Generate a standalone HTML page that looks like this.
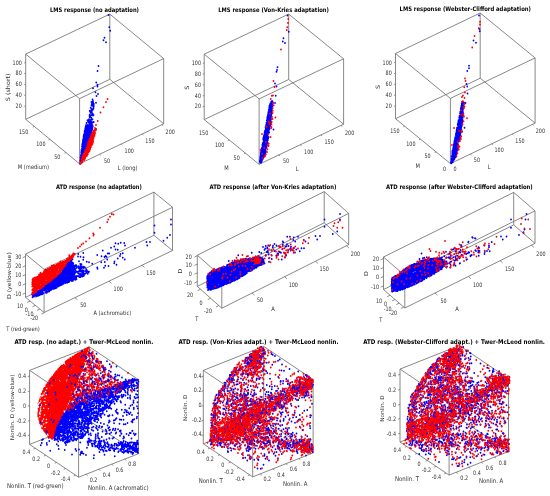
<!DOCTYPE html>
<html><head><meta charset="utf-8"><style>
html,body{margin:0;padding:0;background:#fff;}
svg{display:block;}
text{font-family:"DejaVu Sans","Liberation Sans",sans-serif;font-stretch:condensed;}
</style></head><body>
<svg width="550" height="496" viewBox="0 0 550 496">
<rect width="550" height="496" fill="#fff"/>
<path d="M79.60 163.80L163.70 123.80M79.60 163.80L25.70 119.30M163.70 123.80L109.80 79.30M25.70 119.30L109.80 79.30M79.60 98.60L163.70 58.60M79.60 98.60L25.70 54.10M163.70 58.60L109.80 14.10M25.70 54.10L109.80 14.10M79.60 163.80L79.60 98.60M163.70 123.80L163.70 58.60M25.70 119.30L25.70 54.10M109.80 79.30L109.80 14.10" stroke="#6a6a6a" stroke-width="0.8" fill="none"/>
<path d="M259.10 164.30L343.60 124.20M259.10 164.30L204.20 119.60M343.60 124.20L288.70 79.50M204.20 119.60L288.70 79.50M259.10 98.90L343.60 58.80M259.10 98.90L204.20 54.20M343.60 58.80L288.70 14.10M204.20 54.20L288.70 14.10M259.10 164.30L259.10 98.90M343.60 124.20L343.60 58.80M204.20 119.60L204.20 54.20M288.70 79.50L288.70 14.10" stroke="#6a6a6a" stroke-width="0.8" fill="none"/>
<path d="M450.40 163.60L535.10 123.10M450.40 163.60L395.50 118.70M535.10 123.10L480.20 78.20M395.50 118.70L480.20 78.20M450.40 98.40L535.10 57.90M450.40 98.40L395.50 53.50M535.10 57.90L480.20 13.00M395.50 53.50L480.20 13.00M450.40 163.60L450.40 98.40M535.10 123.10L535.10 57.90M395.50 118.70L395.50 53.50M480.20 78.20L480.20 13.00" stroke="#6a6a6a" stroke-width="0.8" fill="none"/>
<path d="M44.10 312.50L172.50 250.50M44.10 312.50L25.50 297.30M172.50 250.50L153.90 235.30M25.50 297.30L153.90 235.30M44.10 269.30L172.50 207.30M44.10 269.30L25.50 254.10M172.50 207.30L153.90 192.10M25.50 254.10L153.90 192.10M44.10 312.50L44.10 269.30M172.50 250.50L172.50 207.30M25.50 297.30L25.50 254.10M153.90 235.30L153.90 192.10" stroke="#6a6a6a" stroke-width="0.8" fill="none"/>
<path d="M221.80 308.20L348.70 244.60M221.80 308.20L197.30 286.40M348.70 244.60L324.20 222.80M197.30 286.40L324.20 222.80M221.80 277.00L348.70 213.40M221.80 277.00L197.30 255.20M348.70 213.40L324.20 191.60M197.30 255.20L324.20 191.60M221.80 308.20L221.80 277.00M348.70 244.60L348.70 213.40M197.30 286.40L197.30 255.20M324.20 222.80L324.20 191.60" stroke="#6a6a6a" stroke-width="0.8" fill="none"/>
<path d="M404.80 308.00L535.00 243.40M404.80 308.00L383.50 289.50M535.00 243.40L513.70 224.90M383.50 289.50L513.70 224.90M404.80 275.50L535.00 210.90M404.80 275.50L383.50 257.00M535.00 210.90L513.70 192.40M383.50 257.00L513.70 192.40M404.80 308.00L404.80 275.50M535.00 243.40L535.00 210.90M383.50 289.50L383.50 257.00M513.70 224.90L513.70 192.40" stroke="#6a6a6a" stroke-width="0.8" fill="none"/>
<path d="M78.60 477.20L138.50 453.70M78.60 477.20L29.60 444.40M138.50 453.70L89.50 420.90M29.60 444.40L89.50 420.90M78.60 403.20L138.50 379.70M78.60 403.20L29.60 370.40M138.50 379.70L89.50 346.90M29.60 370.40L89.50 346.90M78.60 477.20L78.60 403.20M138.50 453.70L138.50 379.70M29.60 444.40L29.60 370.40M89.50 420.90L89.50 346.90" stroke="#6a6a6a" stroke-width="0.8" fill="none"/>
<path d="M252.70 476.90L313.10 452.90M252.70 476.90L203.30 443.80M313.10 452.90L263.70 419.80M203.30 443.80L263.70 419.80M252.70 403.50L313.10 379.50M252.70 403.50L203.30 370.40M313.10 379.50L263.70 346.40M203.30 370.40L263.70 346.40M252.70 476.90L252.70 403.50M313.10 452.90L313.10 379.50M203.30 443.80L203.30 370.40M263.70 419.80L263.70 346.40" stroke="#6a6a6a" stroke-width="0.8" fill="none"/>
<path d="M449.10 475.10L508.50 451.50M449.10 475.10L400.00 442.00M508.50 451.50L459.40 418.40M400.00 442.00L459.40 418.40M449.10 402.20L508.50 378.60M449.10 402.20L400.00 369.10M508.50 378.60L459.40 345.50M400.00 369.10L459.40 345.50M449.10 475.10L449.10 402.20M508.50 451.50L508.50 378.60M400.00 442.00L400.00 369.10M459.40 418.40L459.40 345.50" stroke="#6a6a6a" stroke-width="0.8" fill="none"/>
<g fill="none" transform="scale(0.25)"><path d="M434 60h0m3 49h0m4 14h0m-23 28h0m-4 10h0m10 8h0m-30 95h0m-4 20h0m-5 46h0m5 9h0m0 7h0m-18 7h0m10 16h0m10 7h0m-6 8h0m-16 14h0m2 6h0m-6 5h0m0-1h0m2 7h0m3-4h0m1-2h0m3 6h0m9-4h0m-18 11h0m1-4h0m2 5h0m0-5h0m1-2h0m1 6h0m4-2h0m-12 11h0m12-5h0m-9 11h0m4 2h0m2-1h0m1-4h0m1 0h0m0-2h0m-15 12h0m1-1h0m3 4h0m4-4h0m0-2h0m1 1h0m-6 9h0m4 0h0m1-2h0m0-1h0m4 7h0m-12 4h0m7 1h0m5-1h0m1 3h0m2-2h0m-16 4h0m1 5h0m3-3h0m3 5h0m-9 6h0m8 2h0m5-1h0m1-1h0m-20 4h0m2 1h0m0 4h0m3 1h0m1-3h0m6 3h0m0-6h0m3 6h0m-19 5h0m8-2h0m1 0h0m2 0h0m1 3h0m3 2h0m0-7h0m2 5h0m4 1h0m2-5h0m1 1h0m5-2h0m-31 13h0m1 2h0m1 0h0m1-2h0m2 0h0m1 1h0m1-1h0m0-1h0m5 3h0m2-4h0m3 2h0m1 2h0m1-1h0m1-2h0m0 1h0m2 0h0m2-1h0m2 1h0m-28 9h0m0-1h0m1-3h0m0 4h0m1-3h0m0 4h0m0-5h0m3 3h0m1 1h0m1 1h0m0-5h0m1 0h0m0 3h0m1-4h0m0-1h0m0 4h0m0 3h0m1-4h0m0 4h0m0-3h0m1-4h0m2 3h0m1-3h0m1 7h0m0-1h0m0-2h0m1 0h0m0-1h0m1 3h0m0-4h0m1 0h0m0-1h0m0 3h0m1 1h0m0-1h0m0-1h0m1 2h0m0 2h0m0-5h0m1 5h0m0-1h0m1-1h0m0 2h0m0-1h0m2-3h0m0-2h0m1 0h0m1 2h0m0-2h0m0 4h0m0-5h0m1 6h0m1-1h0m0-1h0m1-3h0m-30 10h0m2 0h0m0 2h0m1 1h0m1-2h0m1 0h0m0 1h0m0-5h0m1 4h0m1-1h0m2 4h0m1-5h0m0-2h0m1 6h0m1-4h0m1-2h0m2 6h0m0-1h0m1 0h0m0-5h0m1 2h0m0 4h0m1 1h0m1-4h0m0 3h0m1 1h0m2-7h0m0 7h0m1-2h0m1-2h0m1 0h0m0 4h0m1-5h0m0 3h0m1-2h0m0-2h0m1 6h0m0-6h0m1-1h0m-32 15h0m1-4h0m1-1h0m0-1h0m1 1h0m0-1h0m0 2h0m1 4h0m0-6h0m1-1h0m0 2h0m0-1h0m1 5h0m0-5h0m0-1h0m1 4h0m0 3h0m1-7h0m0 4h0m0-2h0m0 4h0m1-3h0m1 4h0m0-2h0m1 2h0m1-7h0m2 4h0m0-1h0m1-1h0m2-1h0m0 3h0m1-2h0m2 4h0m0-5h0m0 1h0m1 4h0m2-3h0m0-3h0m1 4h0m1 0h0m2 0h0m0-3h0m1 5h0m0-4h0m1 0h0m1-2h0m-30 14h0m0 1h0m1-7h0m2 1h0m1 3h0m0 1h0m3-5h0m1 6h0m1-4h0m1 1h0m1 0h0m1 4h0m0-7h0m1 6h0m1-3h0m0-2h0m2-1h0m0 4h0m2 1h0m0-1h0m0 2h0m1-5h0m1 5h0m1-4h0m1 1h0m0 3h0m2-6h0m4 3h0m-31 11h0m1-2h0m0-2h0m2 0h0m0-2h0m0 4h0m1-1h0m2-1h0m0-1h0m1 3h0m0-1h0m1-1h0m0-2h0m1 4h0m0-1h0m1 1h0m1 1h0m0-5h0m1 0h0m1 7h0m0-3h0m1-3h0m2 4h0m1-5h0m1 7h0m2-4h0m0-1h0m6 2h0m0 3h0m0-6h0m1 4h0m2 0h0m-30 7h0m3-4h0m1 2h0m2 2h0m0-2h0m0 3h0m1-2h0m2 1h0m1 2h0m0-5h0m2 6h0m0-1h0m1 0h0m0-6h0m1 3h0m0-1h0m0-2h0m1 3h0m1 0h0m2-3h0m0 3h0m0 4h0m0-1h0m1-4h0m0 3h0m0-5h0m0 7h0m1 0h0m1-2h0m3-2h0m0 4h0m0-5h0m1 4h0m1-1h0m0-5h0m0 3h0m-27 9h0m1 2h0m0-1h0m0-1h0m1-3h0m3 0h0m0 2h0m1-1h0m0 3h0m0-2h0m2-1h0m0 2h0m1 1h0m0-5h0m0 4h0m1-3h0m1 5h0m1-4h0m0-1h0m2 3h0m1-4h0m0 3h0m2 3h0m0-6h0m1 3h0m0 3h0m1-4h0m0-1h0m0-1h0m1 1h0m1 4h0m0-5h0m0 3h0m0-1h0m0-1h0m1 2h0m1 2h0m1-1h0m0 2h0m-25 3h0m0-1h0m0 3h0m1-3h0m3 2h0m1 4h0m0-5h0m0 3h0m3-3h0m1 4h0m2-3h0m2 1h0m0-2h0m2 4h0m1-4h0m1 2h0m2 4h0m0-2h0m1-3h0m0-1h0m1 2h0m0 4h0m0-2h0m1-4h0m1 2h0m-24 11h0m0-6h0m2 0h0m0 4h0m1-4h0m2 4h0m0 3h0m0-1h0m1 0h0m0-6h0m0 4h0m2 1h0m0-5h0m1 3h0m1 3h0m0-5h0m2 1h0m1-2h0m4 6h0m1-5h0m1 6h0m1-1h0m1-4h0m-23 8h0m0-2h0m1 2h0m2-1h0m2 2h0m0-2h0m0 4h0m1 2h0m0-5h0m1-2h0m0 3h0m1 0h0m1 1h0m2 3h0m1-7h0m0 3h0m2 4h0m1-6h0m0 4h0m0 2h0m5-7h0m-21 9h0m2 2h0m0 4h0m1 0h0m3-4h0m1 3h0m0-6h0m2 5h0m1-3h0m1 5h0m0-7h0m1 0h0m0 4h0m1 1h0m0-5h0m0 4h0m2 3h0m0-2h0m0-1h0m3-4h0m-18 15h0m0-5h0m1-2h0m0 3h0m1 0h0m0 3h0m1 0h0m2-5h0m0-1h0m2 6h0m1-3h0m1 0h0m0-1h0m1 1h0m1 2h0m0-5h0m1 6h0m0-5h0m1-1h0m0 4h0m1-1h0m-16 8h0m0 2h0m0-5h0m1 1h0m1 0h0m0 6h0m1 0h0m0-1h0m1-1h0m2 1h0m0-2h0m1 3h0m1 0h0m0-1h0m0-5h0m1 2h0m0-2h0m1 3h0m0-2h0m1 0h0m1 2h0m1-3h0m0-1h0m-14 9h0m4 6h0m0-6h0m1 6h0m1-5h0m3 0h0m3-2h0m-14 14h0m2 0h0m0-6h0m1 5h0m1-2h0m0 3h0m1-3h0m0 3h0m1-2h0m1-3h0m1 3h0m1 1h0m-10 10h0m1 0h0m1-5h0m0 4h0m0-1h0m0-1h0m1-3h0m1 6h0m0-7h0m1 2h0m-5 13h0m1-5h0m0 4h0m0-1h0m1-2h0m0-2h0m2 3h0m0-1h0m-5 9h0m3-4h0m0 1h0m-4 12h0" stroke="#0000ff" stroke-width="7.20" stroke-linecap="round"/><path d="M430 396h0m-6 12h0m-10 21h0m-12 21h0m-11 34h0m-7 16h0m-4 19h0m0-7h0m2 7h0m1-1h0m1 1h0m1-3h0m-12 11h0m2-3h0m0-1h0m1 1h0m0-1h0m1-2h0m0 4h0m0-1h0m1 3h0m1-6h0m0 3h0m3-4h0m2 0h0m-17 15h0m3-4h0m0 3h0m2-3h0m0-1h0m3 2h0m1 2h0m0-6h0m0 4h0m1 2h0m0-3h0m1-1h0m1 5h0m1 0h0m0-6h0m-14 13h0m0-6h0m1 1h0m0 2h0m1 2h0m1 0h0m2-5h0m0 4h0m0-1h0m0 3h0m1-5h0m0-1h0m2 3h0m3-1h0m0-1h0m1 6h0m0-5h0m0-2h0m1 0h0m-17 13h0m1-4h0m0 2h0m0-1h0m1-1h0m0 2h0m1 3h0m5 1h0m0-6h0m0 4h0m1-2h0m1-1h0m0 2h0m1-1h0m1 4h0m2-5h0m0-2h0m-18 13h0m0-1h0m1-1h0m0 4h0m0-1h0m2 0h0m0-5h0m2 2h0m0-1h0m1 4h0m1-1h0m0-1h0m0-1h0m1 4h0m1-1h0m1-2h0m0 3h0m0-5h0m1 3h0m1-1h0m1 3h0m0-4h0m1-3h0m1 3h0m0-1h0m1-2h0m0 3h0m-20 12h0m1-3h0m1 1h0m0 1h0m2 1h0m0-6h0m2 4h0m0-1h0m1-2h0m4 0h0m3 3h0m0-5h0m1 2h0m2 0h0m2 2h0m-21 7h0m0 4h0m1-5h0m1 0h0m0-2h0m1 7h0m1-1h0m1-6h0m1 5h0m2-4h0m0 4h0m0-1h0m1-1h0m0 4h0m1 0h0m0-6h0m0 4h0m1-5h0m2 3h0m0-2h0m0 3h0m1 3h0m0-5h0m0-1h0m1 5h0m0-2h0m1-1h0m0 2h0m1 1h0m1 1h0m0-1h0m0-1h0m2-5h0m-22 15h0m2-2h0m0-5h0m0 6h0m1 0h0m1-3h0m0 3h0m1 0h0m0-1h0m0-2h0m1-3h0m1 0h0m0 2h0m0-1h0m1 2h0m1 1h0m0 1h0m2-1h0m0-1h0m2-3h0m0 4h0m1 2h0m0-1h0m0-5h0m1 0h0m0 4h0m0-1h0m0 2h0m1-4h0m0 2h0m1-1h0m0-1h0m0 3h0m1-1h0m0-1h0m-19 11h0m0-1h0m1 2h0m0-1h0m2-2h0m1 2h0m2 1h0m1 1h0m1-5h0m1 1h0m0-2h0m1 0h0m0 6h0m2-1h0m3-2h0m-19 9h0m0-5h0m1 3h0m2-2h0m0 4h0m0-3h0m1 4h0m2 1h0m0-7h0m0 4h0m6 3h0m1-2h0m1 0h0m0-2h0m0 4h0m2-3h0m-21 9h0m1-2h0m1 3h0m1-1h0m3-5h0m0 4h0m0-2h0m0 4h0m1-5h0m1 0h0m0 2h0m1 1h0m3 0h0m0 3h0m0-6h0m0 4h0m2-1h0m0 1h0m1 0h0m0-1h0m0-1h0m0 4h0m0-5h0m0 4h0m3-4h0m0 2h0m-21 10h0m1 1h0m1-4h0m0 3h0m1 1h0m0-5h0m2 0h0m0-2h0m0 4h0m1-3h0m0 4h0m1-4h0m1 3h0m1 3h0m3-4h0m1 4h0m0-5h0m2-1h0m0-1h0m1 1h0m1 0h0m-22 14h0m1-4h0m1-2h0m1-1h0m0 4h0m1-1h0m0 3h0m1-2h0m1 3h0m0-3h0m1-2h0m0 4h0m1-6h0m1 5h0m1 1h0m3-1h0m0 1h0m1-3h0m0 1h0m1-2h0m1 5h0m1-6h0m2 0h0m0 1h0m-22 10h0m1-3h0m1 5h0m1-4h0m2 4h0m2-2h0m0-2h0m1 5h0m1-2h0m0-2h0m0-1h0m1 0h0m1 0h0m0-1h0m2-1h0m2 1h0m-18 12h0m3 1h0m1 0h0m0-2h0m0 3h0m1-5h0m0-1h0m0-1h0m1 5h0m0-5h0m1 6h0m1-1h0m1-2h0m1-2h0m2-1h0m2 3h0m1-3h0m-13 10h0m0-1h0m0 4h0m0-1h0m1 1h0m0-2h0m1 3h0m0-3h0m7-3h0m-16 14h0m2 0h0m1-6h0m1 0h0m1 0h0m2 2h0m2-2h0m-9 8h0" stroke="#ff0000" stroke-width="7.20" stroke-linecap="round"/></g>
<g fill="none" transform="scale(0.25)"><path d="M1150 62h0m5 65h0m-21 26h0m-3 13h0m9 6h0m-30 97h0m-4 18h0m2-7h0m-8 54h0m6 12h0m-3 37h0m-18 24h0m0-1h0m1 1h0m2-3h0m2 2h0m-8 7h0m2 1h0m2 1h0m1-6h0m2 2h0m0 3h0m1-2h0m0-1h0m0-1h0m0 4h0m1-5h0m9 3h0m-22 11h0m2-5h0m0 2h0m1-4h0m0 3h0m1 4h0m1 0h0m2-5h0m0-1h0m0 3h0m0-1h0m1-2h0m1 1h0m2 3h0m0-1h0m0-2h0m1-1h0m-13 12h0m1 2h0m1-3h0m1-1h0m0-1h0m1 4h0m1-5h0m1 1h0m1 4h0m0-5h0m0-1h0m0 4h0m0-1h0m1 4h0m2 0h0m0-5h0m1 4h0m0-5h0m1 2h0m-13 12h0m1-2h0m0-2h0m3 3h0m1 0h0m1 0h0m0-6h0m5 2h0m0-2h0m1 0h0m0 4h0m0-2h0m0-1h0m-13 7h0m1 3h0m0 4h0m0-1h0m1-1h0m3 1h0m0-6h0m1 0h0m0 5h0m1-5h0m0 2h0m1 0h0m0-2h0m0 4h0m1-1h0m2 4h0m0-5h0m0 4h0m-13 8h0m0-5h0m1-1h0m1 2h0m0 3h0m0-1h0m1-1h0m1 2h0m0-5h0m1 7h0m1-7h0m0 3h0m1 4h0m0-3h0m1-1h0m1-2h0m0 2h0m1 3h0m1-6h0m1 2h0m1 2h0m0-1h0m-14 8h0m0 3h0m1 0h0m2 1h0m1-4h0m1-1h0m1-1h0m0 6h0m0-5h0m0 4h0m2-6h0m0 4h0m0 3h0m1-6h0m0-1h0m0 7h0m1-1h0m1-2h0m0 2h0m3-6h0m0 3h0m-17 12h0m1-5h0m0 4h0m1-2h0m0-2h0m0 4h0m0-1h0m0-5h0m1 3h0m1 4h0m0-5h0m0-2h0m0 4h0m1 2h0m1 0h0m0-6h0m1 5h0m0-5h0m2 6h0m1 0h0m0-5h0m0-1h0m1 2h0m1 5h0m0-6h0m0-1h0m1 3h0m0-1h0m2 1h0m0 4h0m0-5h0m1-1h0m-16 12h0m1-4h0m0-1h0m0 4h0m1 1h0m1 1h0m1-6h0m0 4h0m0-2h0m1 3h0m0 2h0m0-6h0m1 1h0m1 3h0m0-1h0m0-1h0m3-3h0m1 0h0m1 4h0m0-2h0m0-2h0m1 7h0m2-1h0m-17 4h0m3 1h0m0-2h0m1-1h0m1 4h0m0 2h0m1-2h0m1-2h0m1 3h0m0-1h0m0-3h0m1 1h0m0-1h0m1 0h0m2-1h0m1 0h0m1 4h0m1 2h0m1-1h0m-17 6h0m2 4h0m0-1h0m1-5h0m3 3h0m0 3h0m1 0h0m0-2h0m1 2h0m0-2h0m1-1h0m1-4h0m1 5h0m1-5h0m1 5h0m3 2h0m1-3h0m-19 9h0m2-2h0m0 3h0m0-5h0m1 6h0m0-3h0m1-3h0m1 1h0m1 1h0m0 3h0m0-1h0m0-1h0m1-1h0m1-2h0m1 5h0m0-2h0m1-4h0m0 3h0m2 4h0m0-1h0m0-1h0m2 2h0m0-1h0m0-2h0m2 0h0m1 3h0m-19 5h0m3-3h0m1 6h0m0-7h0m2 6h0m0-1h0m0-5h0m3 2h0m2 5h0m1-6h0m0 4h0m1 1h0m0-5h0m0 4h0m2 0h0m0-2h0m1 2h0m1-4h0m-16 9h0m0 4h0m1-6h0m1 6h0m0-1h0m1 0h0m1-4h0m0-1h0m0 4h0m0 3h0m2 0h0m1-7h0m1 0h0m2 6h0m1 0h0m1 1h0m1-2h0m1 0h0m1-1h0m1-3h0m15 5h0m-35 7h0m2 2h0m0-5h0m1 0h0m1 2h0m1 2h0m0 1h0m1-4h0m0 4h0m0-2h0m1-1h0m0-1h0m1 4h0m0-1h0m0-1h0m0-1h0m1-1h0m0-1h0m0-1h0m0-1h0m2 0h0m1 4h0m0-2h0m1-1h0m1 3h0m1-2h0m0-1h0m1 1h0m0-1h0m-17 11h0m1-4h0m2 3h0m2 2h0m0-1h0m2-4h0m0 7h0m1-6h0m0 6h0m2-7h0m0 6h0m0-5h0m1 4h0m0-2h0m0 4h0m1-3h0m0-2h0m0 4h0m1-2h0m1 3h0m1-4h0m1 4h0m0-5h0m3-1h0m-21 12h0m2-2h0m0 2h0m1 0h0m0-1h0m1-2h0m1 2h0m0 3h0m0-6h0m1 4h0m0-5h0m0 2h0m0 4h0m1 0h0m1-3h0m1 2h0m0 2h0m0-5h0m1 0h0m0 4h0m0-1h0m2 1h0m0-1h0m1 2h0m0-1h0m1-5h0m0 4h0m0 1h0m1-6h0m-16 11h0m0 3h0m1-1h0m0-5h0m1 5h0m1-2h0m1 4h0m1-6h0m0 3h0m1-4h0m0 4h0m0 3h0m1 0h0m0-7h0m0 4h0m1 0h0m0-2h0m2 4h0m0-6h0m1 2h0m4 2h0m0-1h0m0 4h0m1-4h0m0-1h0m1 3h0m0-1h0m0-1h0m2 1h0m-21 10h0m0-5h0m0 4h0m1-1h0m0-4h0m1 6h0m0 1h0m1-5h0m0 5h0m1-5h0m1-2h0m1 7h0m1-7h0m0 4h0m0-2h0m0 3h0m1-1h0m4 0h0m1 1h0m0-2h0m0-1h0m1 5h0m0-4h0m0 1h0m4-4h0m0 6h0m0-5h0m1 3h0m1-3h0m-19 7h0m0 2h0m1-1h0m1 1h0m1 1h0m1-3h0m2 0h0m0 7h0m0-1h0m1-1h0m2-2h0m0 4h0m1-4h0m0-3h0m1 2h0m1 5h0m0-6h0m1 3h0m0-4h0m1 7h0m3-6h0m-20 13h0m1 0h0m0-3h0m1 3h0m1-1h0m1 2h0m0-6h0m0-1h0m2 4h0m2 1h0m0-1h0m0 2h0m2-1h0m0 2h0m1-7h0m0 4h0m0-1h0m1 3h0m0-1h0m1-3h0m0-1h0m1 5h0m0-5h0m0-1h0m1 2h0m0 4h0m0-1h0m1 0h0m0-4h0m2 5h0m0-5h0m1 0h0m-21 11h0m1 1h0m1 1h0m2-4h0m0 4h0m1 1h0m0-3h0m2-3h0m1 0h0m1 6h0m1-5h0m1 1h0m1 2h0m1-1h0m1 0h0m1-1h0m1 1h0m0-4h0m1 0h0m1 2h0m-19 12h0m1 0h0m1-1h0m1 1h0m0-5h0m1 1h0m2 2h0m0-2h0m1-2h0m0 4h0m2-1h0m0 4h0m0-5h0m0-1h0m1 5h0m0-5h0m1 6h0m0-2h0m0-5h0m1 0h0m0 4h0m0-2h0m1-2h0m1 4h0m3-4h0m0 2h0m1-1h0m0 4h0m0-5h0m0 3h0m-20 10h0m0-2h0m0 4h0m2-3h0m0 2h0m0-5h0m1 0h0m0 6h0m2 0h0m1-1h0m1-2h0m0 3h0m0-1h0m2-3h0m1-1h0m1 5h0m1 0h0m0-1h0m1 0h0m2-2h0m0 3h0m1-3h0m0 2h0m1-3h0m1-1h0m0-1h0m-19 11h0m0 2h0m1-4h0m0 2h0m1-1h0m0 2h0m1-3h0m1 3h0m0-1h0m1 0h0m0-3h0m2 0h0m0-1h0m1 4h0m0-2h0m1 0h0m1 0h0m1 3h0m0-5h0m1 3h0m0 3h0m1-4h0m3 4h0m1-5h0m0 1h0m1 1h0m0 4h0m0-1h0m-20 9h0m0-2h0m1-5h0m0 7h0m1-5h0m0 4h0m0-2h0m1-1h0m0 1h0m1 0h0m3 2h0m1-6h0m1 3h0m0-2h0m1 2h0m0 4h0m0-2h0m1-1h0m2-2h0m1 1h0m0-2h0m1-1h0m0 2h0m1 0h0m0 4h0m3-2h0m-19 6h0m0 4h0m1-4h0m2 4h0m0-5h0m3 1h0m2-1h0m1 3h0m0 3h0m1-4h0m0-2h0m1 5h0m0-5h0m2-1h0m2 5h0m1-3h0m1-1h0m-19 12h0m1 2h0m0-6h0m2 4h0m1-5h0m0 3h0m0 4h0m0-1h0m0-5h0m1 2h0m3-2h0m0 4h0m2-5h0m1 3h0m0 3h0m1-4h0m0 4h0m0-5h0m-12 8h0m1 3h0m0-3h0m1 1h0m0 4h0m1-6h0m1 6h0m0-3h0m1-1h0m0 4h0m0-1h0m0-5h0m0 4h0m2-3h0m0 3h0m0-1h0m3 0h0m1 0h0m0-1h0m0-1h0m-13 13h0m1-2h0m0-4h0m1 1h0m0 5h0m1-1h0m0-1h0m1-1h0m0 4h0m0-6h0m0 3h0m1 2h0m0 1h0m1-4h0m0 4h0m1-3h0m0 3h0m0-6h0m1 4h0m1-4h0m-7 9h0m4 0h0m0-2h0" stroke="#0000ff" stroke-width="7.20" stroke-linecap="round"/><path d="M1153 76h0m-1 16h0m-3 17h0m-2 11h0m-23 78h0m-30 126h0m4 24h0m-11 35h0m5-1h0m-9 14h0m9 17h0m3 9h0m-4 10h0m0 11h0m-11 12h0m10-3h0m-2 16h0m14 2h0m-15 3h0m3 3h0m-15 10h0m1 5h0m9-1h0m2-2h0m-9 9h0m8 1h0m-19 9h0m19 1h0m-1 4h0m-37 24h0m25 1h0m9 11h0m-18 20h0m11 6h0m-5 8h0m4 0h0m0 2h0m-17 8h0m13 5h0m-28 3h0m6 15h0m20-7h0m-5 10h0m-6 9h0m3-2h0m-10 8h0" stroke="#ff0000" stroke-width="7.20" stroke-linecap="round"/></g>
<g fill="none" transform="scale(0.25)"><path d="M1916 62h0m2 54h0m1 9h0m-25 37h0m10 9h0m-28 92h0m0 10h0m-7 11h0m-3 52h0m3 10h0m1 28h0m-21 33h0m1-1h0m0 1h0m-3 6h0m0 2h0m3-4h0m0 4h0m0-7h0m0 4h0m1-1h0m0 2h0m0-5h0m0 4h0m1-1h0m2-2h0m2 2h0m6 1h0m-15 9h0m1-3h0m1 1h0m0-3h0m1 3h0m0 4h0m0-6h0m2 6h0m0-6h0m0-1h0m2 7h0m-10 8h0m1-7h0m1 7h0m0-3h0m1-4h0m1 6h0m0-6h0m1 1h0m1 1h0m0-1h0m2 0h0m0 4h0m1 1h0m1-6h0m-11 13h0m0-1h0m1-1h0m1 2h0m1-2h0m0 3h0m0-5h0m3 2h0m1 1h0m1-2h0m0 4h0m0-1h0m1 1h0m0-5h0m1-1h0m-11 15h0m1-7h0m0 3h0m0 3h0m1-4h0m0 4h0m0-6h0m0 4h0m3-2h0m0 3h0m0-5h0m0 4h0m2 1h0m0 2h0m2-4h0m0-1h0m-11 12h0m1 1h0m0-1h0m0-6h0m1 3h0m2-2h0m0 4h0m1-5h0m0 4h0m2 2h0m1 1h0m1 0h0m0-1h0m0-2h0m1 3h0m0-5h0m1 0h0m1-1h0m-10 11h0m1-2h0m0-1h0m1 1h0m1 2h0m1-2h0m1 3h0m2 1h0m0-6h0m-12 15h0m0-1h0m1-6h0m0 4h0m0 2h0m1 1h0m0-2h0m0-5h0m2 1h0m1 2h0m0 3h0m1-1h0m0-5h0m1 2h0m0-1h0m0 3h0m3-3h0m0 2h0m1-2h0m0 4h0m1 0h0m1-2h0m0-1h0m1 5h0m0-7h0m-13 15h0m0-2h0m1-1h0m0-3h0m1 4h0m0-2h0m1-2h0m1-1h0m0 4h0m0-1h0m0-2h0m0 4h0m1-1h0m1-4h0m0 4h0m1 2h0m1-6h0m1 3h0m0 4h0m0-2h0m3 2h0m-16 5h0m0-1h0m0 3h0m0-5h0m1 1h0m1-2h0m1 5h0m0 2h0m1-1h0m0-1h0m2 2h0m0-5h0m1 0h0m0-2h0m1 4h0m1 3h0m0-5h0m0 4h0m1-6h0m0 7h0m0-1h0m0-5h0m1 5h0m2-1h0m0 2h0m0-6h0m1 1h0m0 1h0m1-1h0m0 4h0m0-1h0m1-4h0m-17 12h0m0-1h0m0-2h0m0-1h0m1 6h0m1-3h0m2-4h0m1 1h0m1 6h0m0-5h0m0 4h0m0-6h0m1 7h0m0-7h0m2 3h0m1 1h0m0-1h0m0 4h0m1-2h0m0-3h0m1 5h0m0-3h0m1 2h0m0-5h0m2 4h0m1-5h0m0 3h0m-18 8h0m0-2h0m0-1h0m1 3h0m0 3h0m1-2h0m2-3h0m0 1h0m1 0h0m0 1h0m0-2h0m0 4h0m1 2h0m0-1h0m0-5h0m1 0h0m1 2h0m0 4h0m0-6h0m0 4h0m2 0h0m0-2h0m0 4h0m0-5h0m1-2h0m1 1h0m0-1h0m1 7h0m1-3h0m0 3h0m2-3h0m0-1h0m-19 12h0m5 0h0m0-3h0m1 1h0m0-5h0m0 1h0m3 4h0m1 1h0m1-1h0m1-2h0m0 4h0m1 0h0m0-6h0m0-1h0m1 0h0m1 1h0m0 4h0m0-5h0m0 4h0m2 2h0m2-6h0m11 7h0m-31 7h0m1-6h0m0 3h0m1 3h0m1-3h0m1 0h0m1 4h0m1-5h0m1 4h0m0-5h0m0 1h0m1 3h0m0-1h0m1-4h0m0 4h0m0-2h0m0 4h0m1-6h0m0 4h0m0-1h0m1-2h0m3 0h0m1 3h0m1 2h0m2 1h0m0-2h0m-19 8h0m1-3h0m3 3h0m0-5h0m0 3h0m1-2h0m0 3h0m1-2h0m1 4h0m1-3h0m1 0h0m0 4h0m0-6h0m1 6h0m2-3h0m0 3h0m1 0h0m0-2h0m1-3h0m0 3h0m0-1h0m1-4h0m1 4h0m0 3h0m-18 8h0m1-4h0m2-1h0m0 4h0m1 0h0m2-2h0m1 0h0m0-2h0m0-1h0m1-1h0m0 2h0m1 5h0m0-1h0m2-5h0m0 4h0m0-1h0m0 3h0m1-6h0m1 0h0m1 2h0m0-1h0m0 3h0m1-4h0m0 3h0m1-2h0m1 4h0m0-3h0m1 1h0m0-1h0m-19 9h0m1 3h0m1-3h0m0 3h0m0-5h0m4-1h0m0 3h0m0 3h0m1-4h0m0-3h0m1 3h0m2 0h0m0-2h0m1-1h0m0 2h0m1 4h0m0-5h0m1 3h0m2 0h0m0 3h0m2-5h0m2 2h0m-21 9h0m3-2h0m0 3h0m4-4h0m1 4h0m0-5h0m1 5h0m3-3h0m1-1h0m0-2h0m0 4h0m2 1h0m0-2h0m0-1h0m1 1h0m0 2h0m2-4h0m0 6h0m1-7h0m-20 9h0m1 4h0m0-2h0m0-1h0m2 5h0m0-7h0m1 5h0m0-1h0m1-3h0m0 2h0m3 2h0m3 2h0m0-5h0m1-2h0m0 5h0m1-5h0m1 7h0m2-6h0m2 1h0m0 4h0m0-2h0m1-2h0m0-1h0m0 4h0m-21 6h0m1-3h0m1 4h0m0 3h0m1-3h0m1 2h0m1 1h0m1-6h0m0-1h0m0 7h0m1-5h0m2-1h0m1 4h0m2-1h0m0-1h0m1 1h0m0 2h0m0-6h0m1 5h0m0-5h0m0 4h0m1 3h0m1-3h0m0-2h0m0-1h0m2 1h0m0 4h0m1-5h0m-20 8h0m0 5h0m2 1h0m0-5h0m0 3h0m1 1h0m1-3h0m0 4h0m0-3h0m1 3h0m0-5h0m0 4h0m1 1h0m1-2h0m1 0h0m0-1h0m1-3h0m1 6h0m1-5h0m0 4h0m1-3h0m1 0h0m0-3h0m1 0h0m-16 10h0m1 4h0m2 1h0m0-5h0m0-2h0m1 4h0m0 1h0m1 2h0m0-6h0m0 4h0m0-1h0m0-1h0m1 2h0m0-2h0m1-3h0m1 6h0m1-3h0m0 3h0m1-3h0m1 0h0m0 4h0m0-6h0m1 3h0m0 3h0m0-6h0m0 4h0m0-5h0m1 6h0m0-2h0m0-1h0m1 4h0m0-5h0m0 4h0m1-3h0m1-1h0m0 3h0m0-5h0m2 4h0m-19 6h0m0 4h0m1-4h0m0 3h0m1-4h0m0-1h0m0 4h0m0 3h0m1-3h0m0 2h0m1 0h0m1-1h0m0 2h0m1-4h0m0 2h0m0-5h0m1 5h0m0 2h0m0-5h0m2-1h0m0 4h0m1-4h0m1 6h0m2 0h0m0-5h0m0 4h0m1-5h0m0 4h0m1-4h0m0 4h0m0-5h0m0 7h0m1-2h0m0-5h0m1 7h0m-19 7h0m1-6h0m0 4h0m1 1h0m1 2h0m1 0h0m0-1h0m0-2h0m1-1h0m2-2h0m0-1h0m1 3h0m1-1h0m1 5h0m1-3h0m0-2h0m1 1h0m0 4h0m0-6h0m1 1h0m1 5h0m1-2h0m1 1h0m1-2h0m1 3h0m0-5h0m0 4h0m0-5h0m-20 10h0m1 2h0m2-1h0m0-1h0m0-3h0m1 5h0m0 1h0m3-6h0m1 2h0m1 2h0m1-4h0m1 7h0m2-7h0m1 2h0m0-2h0m1 5h0m1-4h0m1 6h0m1-4h0m1-1h0m0-2h0m-20 15h0m0-7h0m1 0h0m0 7h0m1-3h0m2 2h0m1-2h0m2 3h0m1-4h0m2-3h0m1 7h0m1-4h0m0-2h0m1 6h0m0-5h0m1 0h0m0-2h0m2 6h0m0-1h0m1 1h0m1-2h0m0 2h0m-18 2h0m2 7h0m2-6h0m1 5h0m0-5h0m0-1h0m0 4h0m2-2h0m1 1h0m1-3h0m2 7h0m0-5h0m0 4h0m0-5h0m1 1h0m1 4h0m3-3h0m0 2h0m0-5h0m-19 9h0m2-1h0m1 0h0m1 5h0m0-5h0m1 0h0m1 2h0m0 3h0m1-2h0m1 1h0m0-1h0m0-2h0m0-1h0m1 5h0m0-2h0m2 1h0m1 1h0m0 2h0m1-3h0m0 3h0m1-7h0m1 5h0m1 0h0m-16 8h0m0-3h0m1 5h0m0-2h0m1-4h0m0 2h0m0 3h0m1 0h0m0-1h0m1-1h0m1-4h0m0 7h0m1-1h0m0-1h0m1-5h0m0 3h0m1-3h0m1 5h0m1-4h0m0-1h0m1 5h0m0-1h0m1-1h0m-12 9h0m1-4h0m1 3h0m1 3h0m2 0h0m0-5h0m0 4h0m0-1h0m1-4h0m3 0h0m-11 8h0m0 4h0m0-1h0m1 2h0m3-5h0m3 1h0" stroke="#0000ff" stroke-width="7.20" stroke-linecap="round"/><path d="M1920 87h0m0 11h0m-5 15h0m-17 31h0m-9 46h0m-29 124h0m2 10h0m-5 25h0m3 21h0m-8 12h0m-4 6h0m10 4h0m-9 15h0m4-1h0m5 10h0m-4 12h0m4-2h0m-2 6h0m-12 9h0m1 18h0m8-3h0m1 7h0m0-7h0m2 10h0m12 7h0m-14 12h0m-4 13h0m0-2h0m-34 16h0m20 11h0m11-2h0m2 6h0m-3 1h0m-5 23h0m4-5h0m-1 10h0m-5 8h0m1 0h0m-9 4h0m-23 12h0m25 1h0m-1 7h0m2 3h0m4-5h0m-4 13h0m1-1h0m-5 15h0m-4 12h0" stroke="#ff0000" stroke-width="7.20" stroke-linecap="round"/></g>
<g fill="none" transform="scale(0.25)"><path d="M684 878h0m-66 24h0m66-4h0m-66 33h0m62 9h0m-11 11h0m-15 12h0m-192 10h0m11 2h0m10-4h0m14 1h0m89-4h0m14 0h0m-100 14h0m89 0h0m-145 9h0m13-5h0m83 5h0m-78 7h0m9 1h0m-60 3h0m-78 10h0m98 2h0m6 0h0m54-1h0m-178 3h0m76 4h0m93-4h0m-170 10h0m10 1h0m12 2h0m72-4h0m12 3h0m4-4h0m4 3h0m54-3h0m11 7h0m-201 6h0m43 2h0m96-1h0m42-4h0m28 4h0m-224 8h0m3 0h0m1 1h0m3-4h0m1-3h0m2 5h0m1-4h0m30 4h0m31 2h0m111-1h0m-189 7h0m0 2h0m3-4h0m0 4h0m1-2h0m1-1h0m1 2h0m0-3h0m2 2h0m1 2h0m0-3h0m1-4h0m0 6h0m1-1h0m0-1h0m1 3h0m1-3h0m0 2h0m1 0h0m4 0h0m1-3h0m1-1h0m0 4h0m1 0h0m3-1h0m63-4h0m13 6h0m36-6h0m14-1h0m38 5h0m-194 7h0m1-1h0m2-2h0m1 3h0m0 1h0m1 2h0m1-4h0m0 1h0m2 3h0m1-2h0m2 0h0m1-3h0m1 4h0m0-5h0m2 0h0m3 6h0m0-6h0m1-1h0m3 7h0m2-6h0m0 4h0m1-4h0m0 4h0m2 1h0m1 1h0m1-1h0m0 1h0m1-2h0m0-1h0m5 3h0m6-3h0m17-4h0m1 7h0m4-6h0m95 6h0m45-4h0m-209 12h0m2-3h0m1-3h0m3 6h0m0-3h0m1 2h0m2 1h0m0-3h0m1 1h0m0-5h0m0 2h0m1-1h0m3 5h0m2-4h0m0 3h0m0-1h0m2-4h0m1 0h0m2 4h0m1-3h0m1 3h0m1-4h0m1 6h0m1 0h0m4-3h0m1 0h0m0-2h0m2 5h0m1 0h0m1 1h0m0-5h0m0 3h0m1-5h0m1 0h0m1 7h0m0-3h0m2 2h0m3-6h0m5 5h0m0-5h0m2 7h0m0-2h0m1 0h0m5-4h0m3 3h0m4 2h0m2 1h0m0-2h0m0-1h0m6-2h0m4 5h0m3-4h0m5 3h0m49 0h0m27 1h0m18-7h0m-184 14h0m4-3h0m0-1h0m1 2h0m2-3h0m2 4h0m1-1h0m1-1h0m1-3h0m2 6h0m0-2h0m1-3h0m3 2h0m0 3h0m1-1h0m0-4h0m1 1h0m0 4h0m4 1h0m1-5h0m2 1h0m1 0h0m4 2h0m1 2h0m2-3h0m6-3h0m1 0h0m0-1h0m1 4h0m2 0h0m0 3h0m1-2h0m0-4h0m1 1h0m0 1h0m2 2h0m0-1h0m3 0h0m13-3h0m5 2h0m2 3h0m0-5h0m0 4h0m1-4h0m3-1h0m7 0h0m12 5h0m45-2h0m-142 7h0m1 1h0m2 3h0m1-6h0m0 4h0m0-1h0m4-1h0m2-2h0m1 6h0m1-1h0m0-2h0m1-1h0m1 5h0m0-6h0m2 4h0m1-4h0m1 4h0m5 0h0m2 1h0m0-1h0m3 0h0m0-3h0m1-2h0m1 7h0m0-1h0m2 0h0m1 1h0m1-7h0m2 7h0m0-6h0m1-1h0m1 5h0m0-5h0m2 1h0m0 4h0m1 1h0m3-5h0m2 0h0m2 6h0m1-2h0m1 1h0m5-3h0m3 4h0m5 0h0m2-1h0m5-5h0m1 3h0m1-1h0m0 4h0m4-3h0m1 0h0m0-1h0m1-1h0m1 4h0m3-4h0m4 4h0m0-2h0m7 0h0m6-3h0m3 4h0m6 2h0m-114 2h0m1 1h0m2 1h0m4-2h0m0 4h0m3-3h0m0 2h0m1 3h0m1 0h0m2-3h0m0 2h0m2-6h0m0 4h0m1-1h0m0-2h0m3-1h0m0 2h0m1-1h0m0-1h0m0 4h0m1-4h0m0 2h0m1 1h0m1 3h0m3-3h0m0-2h0m1-1h0m0 6h0m1-3h0m2 2h0m1-2h0m0 2h0m3 1h0m0-5h0m1 5h0m3-4h0m4 0h0m5 5h0m1-3h0m1-3h0m0 2h0m0 3h0m1-2h0m0-1h0m3-2h0m1 3h0m0-2h0m3 1h0m12 1h0m16-3h0m1 5h0m1 0h0m1-4h0m4 5h0m0-1h0m1 0h0m4 1h0m3-2h0m3-4h0m5 6h0m1-7h0m2 1h0m-125 14h0m3-2h0m3-3h0m0 2h0m0-1h0m1 2h0m3-1h0m2-4h0m1 0h0m0 6h0m1-6h0m1 5h0m1-3h0m2 5h0m1 0h0m1-5h0m1 3h0m0 2h0m1-3h0m0-1h0m1 0h0m0 4h0m1-4h0m0-1h0m1 0h0m0 4h0m0-6h0m1 4h0m2 1h0m1-5h0m2 3h0m2-1h0m1-2h0m0 4h0m1-4h0m1 7h0m1-5h0m2 0h0m1 2h0m0-4h0m1 0h0m1 2h0m1 3h0m2-2h0m0 4h0m0-5h0m1 0h0m5-2h0m0 2h0m2 5h0m1-5h0m4 2h0m1-4h0m1 2h0m1-2h0m1 7h0m0-5h0m2 3h0m1-3h0m1 5h0m0-6h0m0-1h0m1 3h0m1-2h0m1 0h0m19 2h0m0-2h0m1-1h0m3 5h0m2-5h0m1 5h0m1 2h0m1-4h0m1 1h0m4-3h0m2 5h0m0-1h0m2 2h0m1-1h0m-112 6h0m2-1h0m1 0h0m1 1h0m0 3h0m1-1h0m0-6h0m2 3h0m1 3h0m1-5h0m0 4h0m0-2h0m0 4h0m3-4h0m0 4h0m2-3h0m3-4h0m1 2h0m1-2h0m1 7h0m1-1h0m0-6h0m2 3h0m1-3h0m1 1h0m2 1h0m1 2h0m0 2h0m4-3h0m0 2h0m5 0h0m0-2h0m2 3h0m1 0h0m1 0h0m3-4h0m2-1h0m1 2h0m1-2h0m0-1h0m1 2h0m0 3h0m1 2h0m1 0h0m0-3h0m4 1h0m1 1h0m0-2h0m1-4h0m2 6h0m2-1h0m0-4h0m1 1h0m0-1h0m0 4h0m2-2h0m5 0h0m1-2h0m1 1h0m0 3h0m2-3h0m0-1h0m1 4h0m3-1h0m1-3h0m3 4h0m2-5h0m5 0h0m5 4h0m5 0h0m1-2h0m0-1h0m6 1h0m5-2h0m-124 15h0m5-1h0m2-3h0m0 2h0m2 2h0m1-5h0m4-2h0m0 2h0m1 0h0m1 0h0m2 5h0m0-3h0m1-2h0m0 4h0m3 1h0m1-3h0m0-1h0m1 4h0m2-5h0m2 3h0m2-5h0m2 3h0m1 1h0m1-3h0m0-1h0m2 7h0m1-4h0m0-2h0m0-1h0m2 3h0m1 2h0m1 2h0m0-6h0m2 2h0m0 3h0m1-4h0m1 5h0m2-3h0m0 2h0m1-3h0m3 3h0m1-5h0m2 4h0m0-5h0m1 0h0m0 2h0m2 2h0m2-4h0m1 7h0m0-6h0m1 4h0m0-5h0m6 5h0m3 0h0m1-4h0m1 3h0m1 0h0m2-3h0m3 4h0m1-2h0m1-3h0m2 3h0m1-3h0m1 7h0m1-5h0m1-1h0m4 3h0m1 3h0m1-5h0m4 3h0m-104 10h0m4-1h0m1 0h0m2-3h0m0-2h0m3 1h0m0-1h0m1 6h0m0-4h0m2-3h0m0 5h0m1-3h0m0 4h0m1 0h0m1-1h0m0-1h0m2-3h0m1 5h0m1-1h0m0-1h0m1 0h0m0 3h0m0-6h0m3 5h0m0-6h0m1 3h0m1 3h0m1-2h0m0 3h0m2-1h0m3-6h0m0 2h0m3 2h0m1 2h0m1-5h0m1 4h0m3-4h0m0 3h0m1 2h0m3-3h0m1 3h0m0-2h0m1-3h0m1 1h0m2 0h0m0-1h0m2 2h0m2-1h0m0 4h0m3-6h0m2 6h0m0-5h0m2 5h0m0-5h0m1 3h0m1 1h0m1-2h0m0 2h0m2-3h0m1-1h0m2 6h0m2-7h0m1 5h0m4 1h0m0-5h0m0 2h0m1 0h0m3-3h0m5 3h0m1 1h0m0-2h0m3 1h0m1-3h0m-104 15h0m1 0h0m5-5h0m0 4h0m0-2h0m1 3h0m1-5h0m1 1h0m0-1h0m0-1h0m1 3h0m1-1h0m1 3h0m0-1h0m1 1h0m2-5h0m0-1h0m2 1h0m1 3h0m0-1h0m1-1h0m0 2h0m1 3h0m1-3h0m1 3h0m1-5h0m0 4h0m0-1h0m0-5h0m1 4h0m1 2h0m1-5h0m1 0h0m0 4h0m2-2h0m1 1h0m2 3h0m1-1h0m3-4h0m0-2h0m3 4h0m4 0h0m0-1h0m4-2h0m1 6h0m1-5h0m2-2h0m0 4h0m5-1h0m0-1h0m0-1h0m1 6h0m1 0h0m1-7h0m1 6h0m0-5h0m1 2h0m0-1h0m0-1h0m0 3h0m2-4h0m3 7h0m1-7h0m0 3h0m1 1h0m0-2h0m5-1h0m1 3h0m5-4h0m2 3h0m1-2h0m5-1h0m-94 15h0m1-2h0m2 0h0m0 2h0m1-3h0m1 3h0m6-2h0m3 2h0m1-6h0m0 4h0m1-2h0m0-2h0m2 5h0m2-5h0m1 5h0m0-5h0m1 6h0m0-1h0m2 0h0m1-4h0m0 1h0m2-3h0m0 3h0m3 1h0m1 2h0m3-2h0m4 0h0m0-1h0m1 4h0m2-4h0m3 2h0m0-5h0m4 4h0m1-2h0m1-2h0m1 6h0m0-5h0m3 2h0m0-2h0m2 6h0m0-1h0m1-6h0m1 1h0m1 2h0m1-1h0m2 3h0m2-3h0m0-1h0m1 2h0m2-1h0m-77 10h0m1 1h0m2 1h0m2 0h0m0-5h0m0 4h0m1-1h0m0 2h0m3 0h0m0-5h0m1 2h0m1-2h0m2 4h0m0-1h0m1-1h0m1 0h0m1 0h0m0-3h0m1 6h0m1-1h0m2-4h0m1 0h0m3 6h0m0-1h0m0-1h0m0-1h0m2 3h0m2-3h0m1 2h0m1-6h0m0 1h0m3 3h0m0-2h0m2 5h0m0-6h0m0 4h0m1-2h0m0 4h0m0-1h0m1-5h0m2-1h0m0 4h0m0-3h0m1-1h0m0 4h0m1-1h0m1-3h0m1 1h0m0 4h0m2-1h0m4-3h0m0 4h0m2-4h0m2 1h0m0 2h0m1 1h0m1 2h0m0-1h0m2-2h0m3-2h0m3-1h0m-74 14h0m0-1h0m1 0h0m4-1h0m3-1h0m0 3h0m2-2h0m1 2h0m2 0h0m1-4h0m3 4h0m1-3h0m2 3h0m2-5h0m1 2h0m1 1h0m1-1h0m0 3h0m2-7h0m1 5h0m0-5h0m1 0h0m1 4h0m0-2h0m2-1h0m1-1h0m0 3h0m1-2h0m1 6h0m0-6h0m3 2h0m0-1h0m0 4h0m2-6h0m2 4h0m2-2h0m2 2h0m0-3h0m2 3h0m3-1h0m2-3h0m3 3h0m6-2h0m-75 14h0m3-1h0m4-2h0m0-1h0m1 2h0m2 2h0m3-3h0m0-1h0m2-3h0m3 7h0m0-1h0m1 1h0m0-7h0m1 5h0m1-4h0m1 5h0m0-6h0m4 1h0m5 0h0m6 2h0m4 3h0m0-1h0m1 2h0m1 0h0m3-2h0m1-2h0m1 3h0m1 0h0m1-1h0m2-5h0m1 1h0m4-1h0m-63 13h0m1 2h0m1-1h0m2-4h0m1 0h0m0 4h0m0-2h0m1-4h0m2 2h0m1-1h0m0-1h0m1 6h0m0 1h0m2-1h0m1-2h0m1-4h0m1 0h0m0 3h0m3-1h0m0 1h0m1 4h0m1 0h0m1-7h0m0 3h0m2 3h0m1-3h0m2 0h0m2 4h0m1-6h0m1 1h0m3 3h0m8-4h0m2 0h0m0-1h0m0 3h0m1-3h0m1 1h0m1 2h0m-58 8h0m1-2h0m1 0h0m0 2h0m0-1h0m1 4h0m1-1h0m0-5h0m0 7h0m3-4h0m1 0h0m2-3h0m1 5h0m0-5h0m1 4h0m2-1h0m0 3h0m0-1h0m2-5h0m1 4h0m0-1h0m1-3h0m0 4h0m1 0h0m2-1h0m0 4h0m1-7h0m1 7h0m1-7h0m1 1h0m1 5h0m0-5h0m1 4h0m2-4h0m0 1h0m1 1h0m0 1h0m2-4h0m3 1h0m3 0h0m1 0h0m1-1h0m1 0h0m-40 13h0m2-3h0m2-2h0m2 2h0m8-1h0m0 1h0" stroke="#0000ff" stroke-width="7.20" stroke-linecap="round"/><path d="M447 856h0m7 2h0m-14 9h0m-7 11h0m-4 10h0m-29 23h0m-27 23h0m1 2h0m0 6h0m1-4h0m-17 15h0m-14 13h0m-11 8h0m-7 4h0m-6 8h0m-8 6h0m-19 22h0m6 1h0m-22 6h0m11 0h0m0 2h0m4-5h0m1 3h0m1 2h0m2-5h0m2 0h0m0-2h0m-21 11h0m2 2h0m1 0h0m1 2h0m2-1h0m1-3h0m0-1h0m1-2h0m1 3h0m0 3h0m1-3h0m1 2h0m1 2h0m0-2h0m2 1h0m1-2h0m-25 11h0m0-1h0m2-4h0m2 5h0m1 0h0m1-2h0m1 2h0m1-4h0m0 3h0m0-1h0m2 2h0m3-3h0m0-3h0m1 3h0m0-2h0m1 4h0m2-3h0m1 0h0m1-3h0m1 0h0m-45 14h0m9 1h0m2-1h0m4 1h0m3-3h0m3 0h0m1-1h0m2 2h0m0 2h0m1-2h0m0-2h0m1 4h0m0-7h0m2 6h0m0-6h0m2 0h0m3 3h0m1 0h0m1 0h0m-44 12h0m1 0h0m6-1h0m0-5h0m4 3h0m0-2h0m3 4h0m2-5h0m1-1h0m1 1h0m3 6h0m3-3h0m3-2h0m4 4h0m0-1h0m1-2h0m-58 12h0m7-2h0m6 1h0m3 0h0m2 0h0m1 0h0m1-2h0m1-2h0m0 3h0m2 2h0m1-3h0m1-4h0m0 4h0m1-1h0m2 3h0m2-3h0m1 2h0m1-2h0m1-2h0m1-1h0m2 0h0m0 2h0m0 4h0m3 0h0m1 1h0m2-2h0m1-1h0m2-2h0m1-1h0m1 6h0m0-5h0m3 4h0m2-2h0m2 2h0m1-2h0m-57 10h0m2-1h0m4-3h0m1 4h0m1 0h0m0-2h0m2-2h0m1-1h0m0 3h0m1-4h0m1 0h0m1 7h0m1-3h0m1 2h0m1-5h0m2 5h0m0-3h0m1-2h0m6 4h0m0-5h0m0 4h0m0 3h0m1-3h0m2 3h0m1 0h0m1 0h0m0-3h0m1 2h0m0-4h0m2 3h0m1-5h0m2 7h0m1-7h0m0 2h0m1 5h0m2-7h0m2 4h0m1 1h0m1 1h0m1-2h0m0 3h0m1-4h0m2 1h0m1-3h0m0 3h0m2-4h0m2 0h0m-69 13h0m1-1h0m2 1h0m1-1h0m2-2h0m2-1h0m1 1h0m1 4h0m1-6h0m1 0h0m1 0h0m0 4h0m0-3h0m1 3h0m2 3h0m1-4h0m1-2h0m1 4h0m1-3h0m1 2h0m0 3h0m1-7h0m0 4h0m0 3h0m1-1h0m2-4h0m0 2h0m1 3h0m1-7h0m0 4h0m1 1h0m1-4h0m2 0h0m2 0h0m0 4h0m0-2h0m1-3h0m1 0h0m0 4h0m0 3h0m1-1h0m3-3h0m1 4h0m0-5h0m1 1h0m1-1h0m5-1h0m1 6h0m1-4h0m1-2h0m1 0h0m1 5h0m0-2h0m4 2h0m0-6h0m1 7h0m4-4h0m-73 8h0m1-1h0m1 5h0m0-5h0m1-1h0m0-1h0m1 0h0m1 3h0m1 3h0m0-1h0m0-2h0m1-3h0m1 3h0m2-1h0m0 4h0m0-1h0m3-3h0m2-2h0m1 2h0m2 1h0m0-1h0m1 4h0m0-1h0m2 0h0m2 2h0m2-2h0m2 1h0m1 0h0m1-4h0m1-2h0m0 3h0m2 4h0m0-6h0m0-1h0m1 0h0m0 4h0m2-4h0m2 3h0m1 2h0m2 1h0m0-1h0m2 0h0m2 1h0m0-3h0m1-2h0m0 4h0m1-1h0m1 0h0m1 0h0m2 1h0m2-3h0m0 3h0m0-2h0m6 3h0m1-3h0m1 3h0m1-6h0m3 5h0m1-3h0m-81 9h0m1 1h0m8 2h0m3-3h0m1 3h0m1 0h0m0-6h0m2 4h0m0 3h0m1-6h0m0-1h0m3 2h0m1 0h0m2 3h0m1-5h0m1 5h0m0-5h0m2 1h0m0 2h0m1-1h0m2 5h0m0-6h0m2 5h0m0-5h0m1 4h0m1 0h0m0-2h0m0 4h0m5-4h0m1-1h0m3-1h0m0 4h0m0-1h0m2 3h0m2-6h0m2 6h0m0-6h0m0 4h0m1 1h0m0-6h0m1 1h0m1 3h0m1-4h0m0 2h0m2 5h0m2-1h0m3 1h0m0-6h0m0 4h0m1 1h0m0-5h0m0 4h0m5-4h0m1-1h0m3 4h0m3 3h0m2-7h0m1 5h0m4-4h0m-86 10h0m3-1h0m3 4h0m2 1h0m1-7h0m1 1h0m1 5h0m4-6h0m2 0h0m1 7h0m1-4h0m0 2h0m1-3h0m0 4h0m2-4h0m1 3h0m0 2h0m2 0h0m3-7h0m0 7h0m1-5h0m1 4h0m2-2h0m1-1h0m1-3h0m0 4h0m2-4h0m1 3h0m0 4h0m3-6h0m0 3h0m2 1h0m0 1h0m1-2h0m1-4h0m1 7h0m1-6h0m1-1h0m3 3h0m1-3h0m1 3h0m2-3h0m0 4h0m1-2h0m0 3h0m1-3h0m1 0h0m0 2h0m1-1h0m4 4h0m0-7h0m0 3h0m3 2h0m1-2h0m5 0h0m1 2h0m2-4h0m1 0h0m1 1h0m0-1h0m-94 14h0m4 0h0m2-2h0m4 1h0m0-1h0m2 1h0m1-2h0m1 0h0m0-1h0m1-1h0m0 3h0m1-4h0m0 3h0m0 2h0m2-4h0m4 0h0m1 5h0m1-5h0m2-1h0m2-1h0m1 2h0m0-1h0m2 5h0m1 1h0m0-1h0m2-1h0m2-5h0m1 6h0m0-5h0m5 6h0m0-5h0m1-2h0m2 3h0m1-2h0m2 2h0m0 4h0m3-6h0m1 2h0m1 4h0m1 0h0m1-1h0m1 1h0m0-2h0m2 1h0m0-5h0m1 2h0m0 2h0m1 0h0m0-5h0m0 7h0m1-7h0m2 6h0m4-6h0m5 3h0m0 2h0m2-5h0m1 4h0m1 2h0m0-3h0m1-3h0m0 7h0m2-1h0m0-2h0m0 3h0m2-6h0m1 3h0m2-4h0m3 1h0m1 0h0m-96 14h0m2-5h0m7 5h0m2-1h0m0-2h0m2-3h0m0 2h0m1 0h0m0 4h0m1-7h0m0 3h0m1-2h0m5 2h0m0 3h0m1 0h0m3 1h0m2-4h0m2 0h0m2 3h0m1-5h0m1 0h0m1 4h0m0-2h0m1 3h0m0-3h0m1 3h0m0-1h0m0-5h0m4 0h0m0 4h0m0-2h0m1 5h0m1-3h0m0-1h0m0 4h0m1 0h0m1-6h0m1 6h0m1-2h0m2-5h0m2 0h0m1 6h0m3-1h0m2-4h0m3 4h0m1-5h0m1 3h0m1 3h0m1-5h0m0-1h0m1 1h0m2 2h0m0 2h0m0-5h0m1 5h0m0 1h0m2-3h0m0 3h0m4-3h0m1 1h0m1-3h0m0 6h0m1 0h0m1-6h0m4 0h0m0 2h0m1-2h0m-82 11h0m1-3h0m2 4h0m2-2h0m0-1h0m1 3h0m0-5h0m2 1h0m2-1h0m0 3h0m1 1h0m1 1h0m0-5h0m3 7h0m0-1h0m2-3h0m0 2h0m2-5h0m1 4h0m1-4h0m2 2h0m0 2h0m2 1h0m1-2h0m3 3h0m0-2h0m1 3h0m0-1h0m0-5h0m3 6h0m1-2h0m1-4h0m1 2h0m1 3h0m0-1h0m0-1h0m1-1h0m1-3h0m1 7h0m0-7h0m3 1h0m0 4h0m4 1h0m1-1h0m1-5h0m1 2h0m0 4h0m0-5h0m1 5h0m2-1h0m2 1h0m2 0h0m3-2h0m2 0h0m1-1h0m0 2h0m1-2h0m4-3h0m0 5h0m3-4h0m2 3h0m4-4h0m-78 10h0m2-1h0m0 3h0m2 2h0m0-5h0m0 3h0m1 2h0m1-1h0m1-5h0m1 4h0m2 0h0m0-1h0m1 1h0m2 3h0m0-5h0m0-1h0m1 5h0m1 0h0m1 0h0m1-1h0m0-1h0m0-3h0m1-1h0m1 1h0m1 6h0m1 0h0m0-4h0m2 3h0m3-1h0m1-2h0m1 2h0m0-5h0m0 7h0m1-5h0m0 1h0m1 0h0m0 4h0m0-6h0m4 1h0m0 3h0m0-1h0m1-1h0m6 3h0m3-3h0m4-2h0m1 2h0m0-2h0m1 6h0m1-5h0m1 2h0m3 1h0m2-3h0m0-2h0m1 7h0m1-3h0m2-3h0m1 2h0m0-3h0m2 0h0m1 0h0m2 0h0m-67 9h0m0 1h0m1 1h0m1 1h0m2 3h0m1-5h0m2 5h0m0-1h0m2 1h0m0-3h0m5-3h0m1 2h0m0-1h0m0 3h0m1-1h0m0-2h0m1 4h0m0-1h0m1-2h0m0-3h0m1 4h0m0-1h0m3 2h0m3-2h0m1 4h0m1-3h0m5 2h0m2 1h0m3-1h0m0-2h0m2 2h0m1 1h0m0-7h0m1 1h0m0 1h0m1-1h0m1 4h0m2-1h0m1 0h0m2-1h0m2-2h0m-50 9h0m5 0h0m1-1h0m1 3h0m0-1h0m1 2h0m1 1h0m0-6h0m2 1h0m4 1h0m1 3h0m0-1h0m2 0h0m1-2h0m0 4h0m0-2h0m1-1h0m0-1h0m1 5h0m0-2h0m1 0h0m1 0h0m1-1h0m2 0h0m2 1h0m1-2h0m3 4h0m2-3h0m0-3h0m1 2h0m1 4h0m0-1h0m1-5h0m1 6h0m0-5h0m0-1h0m4 2h0m1-3h0m3 1h0m-44 13h0m0-1h0m0 2h0m3-1h0m0-1h0m0-1h0m1 2h0m1-4h0m1-2h0m1 1h0m1 2h0m0 4h0m1 0h0m0-5h0m0 3h0m1-5h0m2 6h0m2-4h0m0-2h0m1 5h0m1-2h0m2-1h0m2 3h0m1-2h0m2-3h0m1 1h0m0 1h0m1-1h0m1 1h0m1 0h0m1 1h0m0-1h0m1-2h0m0 1h0m3 1h0m-34 6h0m1 0h0m2 3h0m1-1h0m1-1h0m2 3h0m1 0h0m2 0h0m3-2h0m0 4h0m0-2h0m1 0h0m1 1h0m1-5h0m1 6h0m2-4h0m-19 11h0m1 2h0m0-5h0m3 5h0m0-5h0m2-2h0m1 3h0m2 0h0m2-3h0m3 0h0m1 1h0" stroke="#ff0000" stroke-width="7.20" stroke-linecap="round"/></g>
<g fill="none" transform="scale(0.25)"><path d="M1360 856h0m-62 22h0m62 0h0m-62 29h0m51 19h0m-18 10h0m-182 11h0m11 0h0m15 3h0m17-3h0m70-3h0m18 0h0m-11 14h0m-138 8h0m42-6h0m8 6h0m34-6h0m7 6h0m-89 3h0m-60 13h0m19 1h0m6-7h0m8 6h0m25-3h0m17-2h0m-96 11h0m11-4h0m6 6h0m22-1h0m27-1h0m3-1h0m21 0h0m4-2h0m8-1h0m10 3h0m-106 12h0m3-5h0m8 0h0m60 3h0m31-1h0m3-3h0m11 1h0m2-2h0m9 6h0m21-5h0m10 0h0m-145 11h0m15-2h0m13 2h0m20 3h0m34-4h0m10-1h0m36 3h0m-192 6h0m30-3h0m8 4h0m22-4h0m5 1h0m38 5h0m8-6h0m6 3h0m14 1h0m42-2h0m-227 11h0m110 2h0m12-5h0m12 4h0m18 1h0m5-4h0m2 1h0m1-4h0m29 0h0m3 6h0m-133 9h0m9-1h0m1 0h0m4 0h0m1 1h0m0-1h0m1 1h0m5-7h0m0 6h0m1-1h0m3 2h0m3-2h0m1 1h0m2 1h0m97-1h0m-173 8h0m2 1h0m2 0h0m1-2h0m2 0h0m6 1h0m2-3h0m3 4h0m1-2h0m4 1h0m0 1h0m2-1h0m1-2h0m0 2h0m1 0h0m1-2h0m0 1h0m2-3h0m0 4h0m0 1h0m2-4h0m0 4h0m2-5h0m0 4h0m1 1h0m1-3h0m1 0h0m0 2h0m4-1h0m1-2h0m0 2h0m3 0h0m1-3h0m3 3h0m1-5h0m1 7h0m0-5h0m3-1h0m0 2h0m1-2h0m0-1h0m1 0h0m0 7h0m3-2h0m2-2h0m0 4h0m1-4h0m1-2h0m1 5h0m0-1h0m1 1h0m0-6h0m0 2h0m4 4h0m1 0h0m0-4h0m1 5h0m0-7h0m1 0h0m0 4h0m1 1h0m1 0h0m2 2h0m0-5h0m0 4h0m1-2h0m1-2h0m1 5h0m4-6h0m1 6h0m1 0h0m1-2h0m23-4h0m11 3h0m40 2h0m-212 6h0m24-2h0m6 4h0m3-2h0m1-1h0m2 1h0m0-1h0m1 2h0m4 0h0m1 2h0m4-4h0m1-3h0m1 6h0m1-2h0m0 1h0m0-4h0m1 4h0m1 2h0m0-3h0m1 0h0m3-1h0m1-2h0m0-1h0m0 4h0m2-3h0m0-1h0m2 4h0m1 1h0m1-5h0m0 5h0m1 1h0m0 1h0m0-7h0m1 6h0m2-4h0m1 0h0m0 1h0m1-3h0m1 6h0m1-4h0m0 2h0m1 0h0m1-3h0m0 3h0m0 2h0m1-4h0m2 2h0m0 2h0m1-1h0m1 1h0m1-5h0m1 3h0m2 0h0m2 2h0m0 1h0m1-5h0m2 2h0m2 0h0m1-2h0m2 0h0m1 0h0m1 3h0m0-1h0m1-2h0m2 4h0m0-4h0m3 3h0m0 1h0m4-6h0m0 3h0m0 2h0m1 2h0m1 0h0m1-3h0m2-1h0m0 1h0m0 2h0m2-2h0m0 3h0m1-5h0m0 4h0m2-4h0m1 5h0m1 0h0m4-5h0m1-2h0m0 3h0m0 3h0m3-5h0m1 4h0m1-2h0m0-3h0m3 2h0m0 2h0m2 3h0m1-3h0m1 0h0m1-3h0m1-1h0m1 7h0m1-4h0m0-1h0m3-1h0m0 4h0m0-1h0m1 2h0m21 1h0m-151 6h0m2-2h0m1 3h0m1-1h0m0 2h0m0-1h0m2-2h0m1-3h0m1 5h0m1 0h0m2-3h0m1-1h0m0 4h0m1-5h0m2 4h0m0 2h0m2-1h0m1-5h0m2 5h0m0-4h0m1 5h0m0-6h0m2 5h0m0-5h0m3 5h0m0-6h0m1 3h0m1-2h0m0 3h0m1-1h0m1 4h0m1-3h0m0-4h0m0 3h0m2-1h0m0-1h0m0 6h0m1 0h0m2-4h0m0 3h0m1 1h0m0-3h0m3 3h0m0-6h0m3 4h0m1 2h0m3-6h0m1 6h0m2-7h0m0 3h0m1 4h0m1-3h0m0 1h0m0-5h0m1 3h0m1 3h0m1-5h0m0 2h0m0 1h0m1-2h0m1-1h0m0-1h0m1 2h0m0 1h0m1-2h0m1 0h0m0 4h0m1 1h0m2-1h0m0 2h0m1-1h0m0-6h0m1 2h0m3-2h0m2 7h0m1-2h0m0-3h0m2-1h0m1 1h0m1 0h0m0 3h0m1-5h0m1 0h0m0 4h0m1-4h0m0 2h0m1 1h0m3 0h0m0 1h0m1-1h0m1-1h0m3 1h0m1 2h0m1-3h0m0 1h0m0 2h0m3-4h0m0 2h0m2-1h0m2 1h0m1 3h0m2-4h0m2 5h0m1-4h0m0 2h0m1-5h0m1 6h0m2-5h0m0 3h0m2-4h0m1 2h0m1 2h0m1 0h0m1 0h0m0 2h0m0 1h0m1-6h0m0 5h0m1 1h0m0-1h0m2-1h0m1 0h0m0 2h0m0-6h0m0 3h0m4-3h0m0 5h0m1-1h0m1 0h0m0-3h0m1 4h0m1-1h0m1-5h0m0 6h0m1-6h0m0 3h0m3 4h0m3-2h0m-150 8h0m2 2h0m0-3h0m1 1h0m2 0h0m1-2h0m3-1h0m0 3h0m1-4h0m5-1h0m1 6h0m2-3h0m0 2h0m1-5h0m0 1h0m2 4h0m2 2h0m1-5h0m1 2h0m0 2h0m0 1h0m1-4h0m1 4h0m0-6h0m1 2h0m0 2h0m5 2h0m2-1h0m2-4h0m0 4h0m1 1h0m0-3h0m1-3h0m0 5h0m2 0h0m1-5h0m0 3h0m1 1h0m1 0h0m1-2h0m0 1h0m0 2h0m0-1h0m2 1h0m3-6h0m1 0h0m0 4h0m1-3h0m2-1h0m0 2h0m0 2h0m0-1h0m1-1h0m0-1h0m1 0h0m0 2h0m1-2h0m0 1h0m2 1h0m1 0h0m0 4h0m1-6h0m0-1h0m2 0h0m1 3h0m1 4h0m0-4h0m2 1h0m1 3h0m0-1h0m2 0h0m0-1h0m2-5h0m3 3h0m1 4h0m1-5h0m1 1h0m2 3h0m0-5h0m1-1h0m0 3h0m0 3h0m1-3h0m1 0h0m3 0h0m1 0h0m1 4h0m0-5h0m1 2h0m0-1h0m1-1h0m3 2h0m0 2h0m0-5h0m2 4h0m2-4h0m1 0h0m1 4h0m0-5h0m1 4h0m1-4h0m0 2h0m1 5h0m0-7h0m1 5h0m1 2h0m0-2h0m0 1h0m1-1h0m1 2h0m3-2h0m0 2h0m1-1h0m1-1h0m1 1h0m1-3h0m1 1h0m0-4h0m2 6h0m0-3h0m1 0h0m2-3h0m0 2h0m0 5h0m1-7h0m0 2h0m2 1h0m1-1h0m4-2h0m1 6h0m0-5h0m1 1h0m1-2h0m2 2h0m1 2h0m2-3h0m1 2h0m2 0h0m0-1h0m1 1h0m-162 12h0m2 0h0m4-2h0m0 1h0m2 0h0m0-1h0m2-3h0m2 2h0m0 3h0m1-2h0m1 1h0m0-1h0m0 2h0m1-3h0m6 1h0m2-5h0m0 6h0m1-1h0m0 2h0m3-7h0m1 5h0m0-1h0m0 3h0m2-4h0m0 1h0m0 2h0m0-1h0m2-5h0m1 2h0m2 0h0m0 5h0m0-4h0m2 4h0m0-4h0m3-1h0m0 3h0m1 1h0m1-6h0m2 1h0m2 5h0m1-6h0m1 2h0m0 3h0m1-1h0m1-4h0m2 2h0m1 0h0m0 2h0m2-2h0m1-2h0m0 4h0m3-2h0m1 0h0m1 2h0m0 2h0m1-5h0m2 5h0m0-5h0m2 2h0m0-1h0m0 3h0m1-1h0m3-3h0m2 5h0m2-5h0m1 6h0m0-4h0m0 3h0m2-1h0m1 0h0m0-4h0m1 4h0m0-4h0m2 4h0m0 2h0m2-5h0m2 1h0m0 3h0m1-4h0m0 3h0m1-2h0m2 4h0m1-7h0m1 0h0m0 5h0m0-1h0m1 2h0m1-4h0m0 3h0m3 0h0m1-1h0m2 2h0m0-4h0m1 5h0m2-3h0m1 3h0m2-7h0m1 7h0m0-1h0m0-5h0m1 2h0m0 2h0m2 2h0m0-6h0m1-1h0m0 2h0m1 1h0m1 3h0m0-5h0m2 3h0m1-1h0m0-1h0m1-1h0m1 6h0m0-7h0m1 4h0m1-4h0m2 1h0m1 0h0m1 2h0m0-3h0m2 4h0m2 2h0m3-1h0m1-3h0m1 5h0m2-4h0m2 3h0m0-3h0m1 0h0m1 3h0m2 1h0m2-7h0m3 2h0m-161 11h0m3 0h0m1 1h0m0 1h0m1-1h0m1-3h0m1-1h0m1 1h0m0 4h0m1-5h0m0 1h0m1 3h0m1-3h0m0-1h0m1 2h0m3 2h0m1-3h0m0 3h0m2-1h0m1 2h0m1-2h0m1-4h0m2 1h0m1 0h0m1 0h0m2 0h0m0-1h0m1 6h0m1-1h0m1-6h0m0 3h0m3-2h0m0 3h0m1 0h0m0-1h0m1 4h0m0-1h0m1-5h0m1 5h0m3-3h0m1 0h0m0 3h0m3 0h0m1-2h0m0-1h0m5-3h0m0 2h0m1-2h0m0 1h0m0 4h0m2-5h0m2 5h0m1-1h0m0 1h0m1-3h0m1 4h0m1-2h0m0-4h0m0 2h0m1 5h0m3-2h0m0 2h0m0-7h0m1 4h0m0 2h0m2-4h0m0 2h0m2-2h0m0-1h0m0 4h0m1-5h0m0 4h0m1 3h0m1-1h0m1-4h0m1 2h0m2 0h0m0 3h0m0-1h0m0-1h0m2-1h0m0 2h0m0-4h0m1 1h0m1 1h0m0-3h0m1-1h0m0 7h0m1-7h0m1 2h0m1 1h0m2 2h0m1-1h0m1 0h0m0-4h0m1 5h0m2-4h0m0 1h0m1 5h0m2-5h0m1-2h0m0 5h0m3-3h0m0 1h0m1 2h0m0-4h0m3 5h0m1-6h0m0 3h0m0 2h0m0 1h0m1-5h0m1 4h0m0-1h0m1-4h0m0 2h0m0-1h0m1 2h0m0 4h0m2-4h0m1 3h0m0-4h0m1 5h0m1-1h0m0-4h0m1 5h0m2-6h0m0 3h0m1 1h0m0-3h0m0-1h0m1 3h0m0 2h0m5-2h0m0 1h0m1 1h0m1 0h0m1 1h0m0-7h0m1 2h0m1 4h0m4-1h0m1-4h0m0 1h0m2-2h0m2 1h0m3 3h0m1 0h0m0-1h0m0 3h0m1-5h0m0-1h0m1 3h0m0-2h0m1 4h0m1-4h0m0-1h0m2 1h0m2 0h0m1 1h0m2-2h0m-172 13h0m4 0h0m1-1h0m0 2h0m2 1h0m2-5h0m0 2h0m1-2h0m1-1h0m1 5h0m0-6h0m0 2h0m1 3h0m0-3h0m0-1h0m1 1h0m2 4h0m1-1h0m1-3h0m0-1h0m0 6h0m2-3h0m2 2h0m0-6h0m1 4h0m2-1h0m0 2h0m0-5h0m2 6h0m3 1h0m0-1h0m1-2h0m6-4h0m1 4h0m0-1h0m1 0h0m1-3h0m0 7h0m1-2h0m1 1h0m1 0h0m0-4h0m0 2h0m0-1h0m2 4h0m1-2h0m0-5h0m2 0h0m1 2h0m1 1h0m1 0h0m0 4h0m1 0h0m4-7h0m1 6h0m0-4h0m1 5h0m1-5h0m0 3h0m1-2h0m2-3h0m2 0h0m0 6h0m1-1h0m0-4h0m0 5h0m2-6h0m1 5h0m1-2h0m4 3h0m1-4h0m0 5h0m0-7h0m1 4h0m0 2h0m1-4h0m0-1h0m0 2h0m1 3h0m1-6h0m1 1h0m0-1h0m0 2h0m2-2h0m0 2h0m1 4h0m0-4h0m0 2h0m2 1h0m1-5h0m1 1h0m0-1h0m0 2h0m2 3h0m0-5h0m2 1h0m1 6h0m1-3h0m0 1h0m2-2h0m0-2h0m1 0h0m1 2h0m0 3h0m0-1h0m0-3h0m2 4h0m0-5h0m1 6h0m3-7h0m0 3h0m2 4h0m0-4h0m1 0h0m0 3h0m1-5h0m0 2h0m0 3h0m2-4h0m0-1h0m1 5h0m1 0h0m1-6h0m1 5h0m1 1h0m1-6h0m0 1h0m2 5h0m0 1h0m1-7h0m2 5h0m0 2h0m1 0h0m0-5h0m2-1h0m3-1h0m0 3h0m1 3h0m0-1h0m1-5h0m1 2h0m1-1h0m4 1h0m2 2h0m1 3h0m1 0h0m0-6h0m1 2h0m0 3h0m0-1h0m0-4h0m1 5h0m0-1h0m1-2h0m0 4h0m3-4h0m0 3h0m6-1h0m2-4h0m0 1h0m1-1h0m1-1h0m1 2h0m0-1h0m2 3h0m4-4h0m1 1h0m-171 13h0m1 1h0m3-5h0m2 2h0m0 2h0m1 1h0m1-2h0m1-5h0m0 2h0m0 4h0m0-1h0m3 0h0m1-1h0m2 3h0m0-7h0m3 5h0m2-1h0m1-3h0m0 2h0m0-1h0m1 2h0m1-1h0m1 1h0m2-4h0m0 2h0m0 2h0m2-1h0m1 2h0m3-3h0m1 0h0m0-1h0m2 6h0m0-6h0m2 2h0m2 2h0m1-1h0m0 1h0m2-5h0m0 3h0m0 2h0m2-1h0m0 3h0m1-7h0m0 1h0m1 5h0m1-5h0m1 5h0m1 1h0m0-6h0m1 0h0m0 1h0m0 2h0m1 1h0m0-1h0m1 3h0m3-6h0m0 4h0m2-4h0m2 0h0m1 2h0m0-2h0m2 1h0m1 5h0m1-7h0m2 1h0m0 3h0m0 2h0m4-1h0m1-5h0m1 5h0m2-3h0m3-1h0m3 2h0m1 4h0m0-3h0m1 2h0m1-5h0m0 2h0m0 1h0m0 3h0m1-5h0m1 1h0m2 1h0m0 2h0m2 0h0m1-3h0m1-3h0m1 3h0m1-2h0m1 0h0m0 5h0m3-5h0m4-1h0m0 1h0m1 1h0m3 3h0m1-5h0m2 6h0m2-5h0m0 2h0m0 2h0m1 0h0m4-2h0m1 1h0m2 2h0m0-3h0m2 0h0m2 0h0m0-1h0m2 0h0m2-1h0m2 6h0m1-6h0m5 5h0m2-3h0m0-1h0m0 3h0m1-3h0m1 3h0m0 2h0m2-4h0m0 4h0m3-6h0m0 1h0m0-2h0m1 0h0m4 5h0m1 0h0m0-1h0m1 1h0m-156 10h0m1 0h0m0-1h0m1-1h0m1-1h0m0-1h0m1 0h0m1 3h0m0-4h0m1 1h0m1 2h0m1-5h0m0 4h0m1 2h0m1-5h0m0 4h0m1-5h0m0 2h0m0-1h0m1 3h0m1-4h0m1 2h0m0 3h0m1-1h0m1 0h0m0-4h0m1 6h0m1-1h0m0-5h0m3 2h0m1 5h0m2-2h0m0-1h0m0 2h0m1 0h0m1-6h0m2 4h0m2-4h0m0 4h0m1-3h0m0 3h0m1-2h0m0 3h0m0-1h0m1 1h0m0-2h0m1-3h0m2 0h0m1 2h0m1 1h0m0 2h0m3-2h0m5-2h0m0 4h0m1 1h0m1-6h0m2 7h0m0-4h0m1-2h0m1 1h0m0-1h0m3 0h0m1 5h0m1-1h0m0-1h0m1 0h0m1-2h0m1 3h0m0 2h0m1-4h0m1-2h0m1 4h0m1 0h0m1 1h0m1-6h0m2 0h0m0 2h0m1 5h0m1-2h0m0 2h0m0-7h0m0 2h0m6 2h0m3 1h0m0-1h0m1-3h0m1 2h0m0-3h0m4 7h0m2-5h0m1-1h0m1 4h0m1-3h0m1-2h0m0 3h0m2 3h0m0 1h0m1-3h0m1 3h0m1-7h0m0 3h0m1 0h0m0 2h0m0 1h0m0-6h0m1 4h0m2-1h0m0 4h0m1-7h0m1 6h0m1-3h0m0-3h0m0 1h0m3 0h0m0 3h0m1-2h0m1 3h0m1-2h0m0 1h0m0 2h0m1 0h0m1-3h0m2 3h0m2-2h0m1-2h0m1 3h0m0-3h0m1 2h0m1-1h0m0 1h0m1-4h0m2 5h0m0-4h0m1 6h0m1 0h0m1-7h0m0 5h0m2 0h0m1 2h0m0-1h0m1 0h0m2-1h0m0 2h0m1-4h0m0 4h0m1 0h0m1-7h0m2 4h0m1-2h0m0 3h0m1-1h0m0 1h0m1 0h0m4 0h0m1-4h0m1 1h0m1 0h0m1 1h0m1-1h0m1-2h0m1 1h0m-152 14h0m0-6h0m2 5h0m1-3h0m0 2h0m0-1h0m1 2h0m0-1h0m1 2h0m0-7h0m0 5h0m2 0h0m1 2h0m0-2h0m1 2h0m1-3h0m1 1h0m0-1h0m0 3h0m0-6h0m1 4h0m4-3h0m2 1h0m4 0h0m2-3h0m1 2h0m0 1h0m3-1h0m1 5h0m1-2h0m2-2h0m1 3h0m0-4h0m0-1h0m1-1h0m2 5h0m1-4h0m2-1h0m2 5h0m1-3h0m0 5h0m1-5h0m0 2h0m1 2h0m1-4h0m0 2h0m0 3h0m1-5h0m0 5h0m1-3h0m0-1h0m0 2h0m1-4h0m1 4h0m0-5h0m2 4h0m0-4h0m2 5h0m0 2h0m1-7h0m0 4h0m2-3h0m0 5h0m1-4h0m0 3h0m2 2h0m1-2h0m2-1h0m1-2h0m1 5h0m1-4h0m2 2h0m0 2h0m2-2h0m1-3h0m0 1h0m0 2h0m1-4h0m0 1h0m1 4h0m2-2h0m1-2h0m2 1h0m1 0h0m0 2h0m2 1h0m1 0h0m0-1h0m0-4h0m1 6h0m0-1h0m2 0h0m1 1h0m0-4h0m0 2h0m1-4h0m1-1h0m1 0h0m0 2h0m3 0h0m1 0h0m1 2h0m1 1h0m1-3h0m1 0h0m2 3h0m1 1h0m0-4h0m1 2h0m1-3h0m1 6h0m1-4h0m5 2h0m1-1h0m0 3h0m1-7h0m0 3h0m0 1h0m3-4h0m1 7h0m1-5h0m1 5h0m0-4h0m1-1h0m1 0h0m2-1h0m0 1h0m1 5h0m1-1h0m0 1h0m1 0h0m1-3h0m0 2h0m1 0h0m1 1h0m1-5h0m1 1h0m2 4h0m0-4h0m1-1h0m7-1h0m0-1h0m1 0h0m2 0h0m-142 8h0m1 4h0m2-2h0m1-2h0m0 2h0m0 4h0m4-5h0m0-1h0m1 2h0m1-2h0m1 4h0m2 0h0m1-1h0m1 4h0m0-5h0m1 2h0m1-3h0m0 2h0m0 2h0m2-2h0m0 4h0m3-2h0m1 1h0m0 1h0m2-4h0m1-2h0m2 0h0m1 4h0m1-1h0m2 0h0m2 0h0m1 2h0m0-4h0m4-2h0m1 5h0m1-2h0m1 4h0m0-7h0m2 1h0m0-1h0m1 5h0m0 1h0m1-1h0m0-4h0m1 5h0m1-2h0m0 2h0m1 0h0m1-3h0m0 2h0m3-1h0m1-3h0m2 1h0m1 2h0m1 3h0m1-5h0m1-1h0m1 5h0m1-1h0m0-4h0m0 2h0m2 4h0m2-5h0m1 3h0m0 2h0m1-4h0m1-1h0m1-1h0m0 1h0m2-1h0m0 4h0m1-2h0m1-1h0m1 5h0m1-1h0m2-4h0m0 4h0m3-4h0m0 3h0m0-1h0m1-3h0m1 3h0m1-1h0m0 2h0m2 1h0m1-4h0m0 2h0m0 3h0m3-5h0m0 2h0m1-1h0m1-3h0m0 6h0m2-4h0m3-1h0m1 0h0m1-1h0m0 2h0m1 0h0m2-1h0m0 1h0m1 0h0m2 0h0m0 4h0m2-3h0m3 2h0m0-4h0m1 1h0m1-2h0m0 3h0m1 4h0m1-4h0m1 3h0m0-4h0m0-1h0m1 0h0m0-1h0m0 3h0m1-3h0m0 3h0m0 2h0m2 0h0m1-5h0m0 5h0m1 0h0m1-3h0m1-1h0m1-1h0m1 2h0m2-1h0m-126 11h0m1 2h0m1 0h0m0-6h0m1 7h0m2-3h0m0-2h0m1-1h0m0 6h0m1-6h0m1 1h0m1 0h0m0 3h0m0 2h0m2-7h0m0 5h0m1 2h0m0-3h0m1 3h0m1-3h0m1-3h0m2 4h0m1-3h0m0 3h0m1-2h0m1-3h0m0 3h0m1 4h0m1-7h0m1 1h0m1 4h0m0 2h0m2 0h0m0-7h0m0 2h0m1 4h0m0-6h0m0 2h0m1 0h0m0 2h0m3 3h0m0-1h0m1-4h0m0 3h0m1-1h0m1-4h0m0 7h0m1-6h0m1 1h0m0 4h0m1-5h0m2 2h0m0 2h0m0 2h0m0-7h0m2 4h0m0-2h0m1 0h0m0 2h0m1-4h0m0 2h0m1 4h0m1 1h0m0-5h0m0-1h0m1 0h0m0 3h0m1-1h0m0 1h0m1-2h0m1-2h0m0 7h0m1-2h0m0 2h0m1-6h0m0 6h0m1-1h0m1-6h0m0 5h0m1-1h0m1 3h0m2-6h0m0 4h0m0-5h0m1 1h0m5 0h0m1 5h0m2-2h0m1-2h0m0 5h0m2-5h0m0-2h0m2 5h0m1-4h0m0 2h0m2 1h0m2-3h0m0 2h0m1 2h0m0-3h0m1-2h0m1 7h0m0-7h0m0 2h0m0 2h0m1 0h0m1-3h0m0 6h0m0-1h0m1 0h0m2-5h0m1 5h0m1-5h0m3 6h0m0-4h0m3 4h0m0-7h0m0 5h0m3 2h0m1-1h0m0-4h0m0 1h0m2-3h0m0 2h0m0 4h0m2-1h0m5-3h0m1 0h0m1 1h0m1-2h0m0 2h0m3-3h0m1 0h0m-112 13h0m2 1h0m2-1h0m1-5h0m0 1h0m0 3h0m1 1h0m0 2h0m2-4h0m1 0h0m0 3h0m1-3h0m1 4h0m2-6h0m0 4h0m1-1h0m0-1h0m0 2h0m3-2h0m1-2h0m0 2h0m3 1h0m3 3h0m0-5h0m0 2h0m1-1h0m0 4h0m2 0h0m0-7h0m1 2h0m0 3h0m2 1h0m0-1h0m0-5h0m2 0h0m1 0h0m1 5h0m2-2h0m3 1h0m0-4h0m2 6h0m1-2h0m0-1h0m0 3h0m3-6h0m0 2h0m0 3h0m4 2h0m1-5h0m1 3h0m2 1h0m1-1h0m0-2h0m1 2h0m1-2h0m1 4h0m0-6h0m0-1h0m1 5h0m1-5h0m0 3h0m3 0h0m0 4h0m1-5h0m0-2h0m1 5h0m1 1h0m1 0h0m2 1h0m1-3h0m0 1h0m0 2h0m0-5h0m1-2h0m0 4h0m1 3h0m1-2h0m1 2h0m1-4h0m1-1h0m0 2h0m1-2h0m0 2h0m0 1h0m1 2h0m1-2h0m1 2h0m2-6h0m0 2h0m1 1h0m1 0h0m2 0h0m3-2h0m1 0h0m2 1h0m3-2h0m-94 11h0m0 1h0m2-3h0m2 0h0m0 5h0m1 0h0m0-6h0m0 2h0m1 4h0m0-7h0m1 0h0m1 5h0m0 2h0m0-1h0m1-1h0m1 0h0m0 2h0m3-5h0m1-2h0m1 5h0m2-3h0m2 5h0m3-1h0m1 1h0m1-3h0m1 3h0m1-3h0m1-2h0m1 0h0m0-1h0m1 0h0m1 5h0m0 1h0m2-1h0m1-2h0m2-1h0m1-2h0m1 2h0m3 1h0m1 0h0m0 3h0m1-1h0m1 0h0m5 1h0m0-1h0m1-1h0m2-5h0m2 4h0m1 0h0m2-2h0m1 5h0m1-6h0m0 4h0m0 1h0m2-5h0m0 4h0m1-2h0m1 1h0m1-4h0m1 4h0m1-2h0m0 3h0m0-1h0m3-3h0m7-1h0m-75 14h0m2-4h0m1 1h0m1-1h0m0 3h0m1-5h0m1 5h0m0 2h0m1-3h0m4-1h0m0-1h0m1 1h0m3-2h0m0 3h0m1 0h0m0 3h0m1-5h0m1-1h0m0 2h0m1 0h0m2 1h0m2 2h0m0-4h0m1 5h0m3-3h0m0-1h0m3 4h0m1-3h0m0 1h0m3-4h0m1 0h0m0-1h0m1 4h0m1 3h0m1-5h0m0 3h0m2 0h0m0 1h0m0-6h0m1 2h0m0 3h0m1 1h0m0-5h0m1 5h0m0-2h0m2-1h0m0 2h0m0-5h0m0 2h0m2 0h0m0 2h0m3-2h0m1 0h0m2-1h0m1 0h0m-50 14h0m0-7h0m1 3h0m1 2h0m0-4h0m2 0h0m0 1h0m2 3h0m1-3h0m1 5h0m1-3h0m2 3h0m1-5h0m3 2h0m1-4h0m2 2h0m3 1h0m1-2h0m1 0h0m1 0h0m4 0h0m6-1h0m-35 8h0" stroke="#0000ff" stroke-width="7.20" stroke-linecap="round"/><path d="M1360 882h0m-22 11h0m15-4h0m-19 15h0m15 7h0m21 0h0m-134 40h0m-74 5h0m53 6h0m-4 11h0m22 0h0m-152 7h0m82-2h0m-86 6h0m38 0h0m5 5h0m2-1h0m9-4h0m43 7h0m7-5h0m-105 11h0m18 1h0m37-3h0m7-2h0m14 5h0m10 0h0m5 0h0m1 0h0m24-4h0m-105 9h0m17 3h0m10 0h0m31-5h0m27 1h0m3 1h0m-40 7h0m5 1h0m2 2h0m8-4h0m2 1h0m23 1h0m-205 9h0m94 0h0m21 0h0m24 0h0m34 2h0m1-2h0m-198 11h0m41-5h0m5-2h0m21 6h0m8-3h0m2-2h0m0 4h0m1 2h0m11-6h0m71 6h0m1-4h0m22-2h0m10 4h0m-176 8h0m9 2h0m5-1h0m2-1h0m21-3h0m8 0h0m2-2h0m9 6h0m2 1h0m2-6h0m0 4h0m1-4h0m1 0h0m2 0h0m2 1h0m1-2h0m3 0h0m1 6h0m2 0h0m1 0h0m6 0h0m16-4h0m19-2h0m36 6h0m-184 5h0m12 1h0m0-1h0m5-1h0m1-1h0m5 1h0m1 0h0m12 4h0m0-3h0m16 2h0m2 1h0m1-4h0m1-1h0m5 4h0m14 0h0m1-3h0m4 1h0m7 1h0m2-4h0m0 7h0m8-5h0m1-1h0m3 4h0m1 1h0m5 1h0m3-3h0m1 1h0m-121 9h0m21 1h0m10-2h0m2-4h0m9 0h0m14 1h0m44 3h0m2 2h0m2-1h0m1-6h0m3 4h0m3 1h0m3-4h0m1 0h0m3 3h0m13 3h0m31-6h0m-167 14h0m9 0h0m1-7h0m0 6h0m2-1h0m12 0h0m3-4h0m28 6h0m-76 6h0m61-3h0m27-2h0m26 4h0m-152 7h0m21-1h0m1 5h0m63-3h0m49 0h0m-140 11h0m0-3h0m1 1h0m1-5h0m0 1h0m7 0h0m13 1h0m3 1h0m51 3h0m9-5h0m68 0h0m-170 14h0m70 0h0m58-7h0m-120 9h0m52 0h0m29 2h0m40 0h0m-71 10h0m19 2h0m34-1h0m-56 4h0m31 11h0m-91 5h0m32 17h0" stroke="#ff0000" stroke-width="7.20" stroke-linecap="round"/></g>
<g fill="none" transform="scale(0.25)"><path d="M2106 856h0m-62 22h0m58 0h0m-58 33h0m54 7h0m-4 11h0m-18 11h0m-187 9h0m2 2h0m113-5h0m22 0h0m-126 7h0m2 1h0m109 4h0m-137 9h0m-1 2h0m94-1h0m-123 12h0m94 2h0m18 1h0m-109 3h0m67 3h0m2 2h0m40-2h0m-148 10h0m6-2h0m6-4h0m-36 14h0m38-1h0m20-6h0m59 1h0m3 3h0m9-2h0m5 2h0m30 0h0m11 1h0m-273 9h0m113 1h0m38-7h0m4 2h0m17 4h0m2 0h0m6 1h0m6-3h0m2-2h0m0-1h0m3 1h0m36 0h0m26-2h0m-136 14h0m26 1h0m17-3h0m4 2h0m16-6h0m16 6h0m5-2h0m28 3h0m23-7h0m-241 15h0m10-2h0m59 2h0m2-1h0m9-5h0m9 5h0m8 0h0m6 0h0m13-1h0m8-2h0m1 4h0m14-5h0m46-1h0m-204 11h0m13-3h0m11 5h0m1 1h0m6 0h0m1 0h0m2 0h0m0-2h0m1-1h0m1 2h0m4-1h0m2-1h0m2 0h0m1 2h0m2-3h0m1 2h0m0-1h0m0 2h0m1 1h0m1-3h0m1-1h0m1 1h0m0 2h0m1-2h0m1 3h0m3-1h0m0-4h0m1 3h0m0-1h0m0 2h0m3-3h0m1-1h0m1 5h0m2-2h0m0-3h0m2 5h0m2-4h0m1 4h0m1-6h0m2 3h0m0-1h0m1 3h0m2 1h0m1-5h0m1 4h0m1-1h0m0 2h0m1-2h0m1 0h0m0-1h0m1-2h0m0 4h0m1-4h0m0 5h0m3 0h0m0-4h0m1 1h0m1 3h0m4 0h0m28-6h0m27 3h0m1 3h0m11-6h0m29 6h0m2-2h0m-190 10h0m6-4h0m5 1h0m2-2h0m0 2h0m0-1h0m2 1h0m1-1h0m1 0h0m1 4h0m1-1h0m0 1h0m1-3h0m0 1h0m1-3h0m0-1h0m0 2h0m1 3h0m1-4h0m1-1h0m2 4h0m1-4h0m1 4h0m1 0h0m0 2h0m0-5h0m0 1h0m3 3h0m1-5h0m1-1h0m0 1h0m2 6h0m0-1h0m1-2h0m1-3h0m0 5h0m1 0h0m1 1h0m1 0h0m0-1h0m1-4h0m1 2h0m0 2h0m2-4h0m1 4h0m0-5h0m1 5h0m1-5h0m0 3h0m0 2h0m2-4h0m0 2h0m1 2h0m3-5h0m0 5h0m2-5h0m1-1h0m0 5h0m1 2h0m1-3h0m1 0h0m0-1h0m0 2h0m1-4h0m5 4h0m1-5h0m1 2h0m0-1h0m0 2h0m3 4h0m0-7h0m0 5h0m2-5h0m0 2h0m1-2h0m1 7h0m1-1h0m1-1h0m0-4h0m1 5h0m1 0h0m0-1h0m1-5h0m1 5h0m3-4h0m1 6h0m2-2h0m3 0h0m1-3h0m1 0h0m0 2h0m2 1h0m1 1h0m2-1h0m1 2h0m2-1h0m8 0h0m19 0h0m14-3h0m3-3h0m-154 14h0m0-1h0m2 2h0m4-3h0m0-1h0m1 4h0m0-3h0m3 1h0m1-3h0m0 2h0m0 1h0m1-3h0m1-1h0m1 5h0m1-2h0m0 2h0m2-5h0m1 2h0m0 2h0m1-3h0m0 3h0m1-5h0m1 4h0m0-3h0m5 4h0m1-1h0m1 0h0m1-3h0m0 5h0m1-4h0m1 1h0m1 0h0m0-1h0m1 1h0m0 3h0m1 1h0m1-2h0m0-3h0m1 2h0m0 3h0m1-3h0m0 3h0m2-7h0m0 2h0m1 2h0m1-4h0m1 2h0m0 2h0m1-1h0m0 3h0m1-2h0m2-1h0m1-2h0m0 2h0m2-3h0m1 7h0m1-1h0m0-5h0m1 3h0m2 0h0m1-4h0m1 1h0m0-1h0m0 2h0m1 3h0m0-5h0m1 5h0m2-4h0m0 5h0m1-2h0m0 1h0m1 0h0m0 1h0m1 1h0m1 0h0m1 0h0m2 0h0m2-5h0m2 0h0m1 1h0m1-2h0m1 5h0m0-6h0m0 3h0m3 0h0m0 1h0m0 1h0m1-4h0m1 2h0m0 1h0m2 2h0m1-1h0m1-4h0m0 3h0m1 3h0m0-6h0m0 2h0m1 1h0m1-4h0m1 3h0m1-1h0m0 2h0m2-1h0m1-2h0m0 2h0m0-1h0m3-2h0m1 0h0m1 2h0m1 0h0m0 5h0m2 0h0m2-6h0m1-1h0m1 7h0m2-7h0m0 2h0m1-2h0m0 3h0m1-3h0m0 1h0m1 1h0m0 3h0m1-5h0m0 1h0m1 6h0m1-4h0m0 3h0m1 0h0m0-1h0m2-1h0m1 3h0m1-6h0m4 3h0m2 3h0m7-3h0m4-4h0m38 6h0m1-1h0m-199 10h0m1 0h0m5-3h0m4 0h0m2-1h0m0 1h0m1 3h0m1-4h0m0 3h0m1-6h0m0 1h0m0 1h0m2-1h0m0-1h0m1 2h0m1-2h0m1 2h0m0 2h0m3-3h0m1 4h0m1-3h0m0 3h0m0-1h0m0 3h0m1-7h0m1 2h0m1 1h0m0-1h0m3-2h0m0 3h0m0 3h0m1-1h0m1 1h0m1-6h0m0 3h0m1-2h0m2 4h0m0 2h0m1-3h0m1-4h0m1 4h0m4 0h0m1 1h0m2-3h0m2 4h0m0-5h0m0 2h0m1 4h0m1-7h0m0 2h0m2 0h0m0-1h0m0 4h0m1-4h0m0 2h0m1 0h0m1-3h0m1 0h0m1 4h0m3-3h0m0 4h0m1 1h0m0 1h0m2-5h0m0 2h0m3 1h0m1 0h0m2 2h0m1 0h0m0-1h0m1 1h0m1 0h0m1-6h0m1 2h0m0 1h0m1-3h0m0 2h0m1 4h0m1-5h0m2-1h0m0 2h0m0 2h0m1-1h0m1-2h0m4 5h0m1-5h0m0 3h0m0-1h0m0-3h0m1 3h0m1-3h0m0 3h0m0 2h0m1 0h0m1-3h0m1-1h0m1-2h0m1 4h0m0-1h0m1 4h0m1 0h0m0-1h0m2 0h0m1-6h0m0 5h0m0 2h0m2-3h0m0-1h0m1 1h0m0 2h0m1-6h0m0 4h0m0-1h0m1 2h0m0-3h0m1-1h0m0 4h0m0 1h0m1 1h0m0-5h0m2 2h0m1 1h0m1-5h0m1 7h0m4-4h0m1 1h0m1-4h0m0 5h0m1-1h0m1 2h0m0 1h0m1-1h0m1-5h0m1 0h0m1 4h0m2 0h0m4-3h0m2 1h0m1-2h0m1-1h0m1 3h0m2-3h0m0 5h0m2-4h0m2 1h0m21 0h0m14 0h0m2-2h0m4 7h0m-193 7h0m5 1h0m3-6h0m0 4h0m1-1h0m0 3h0m1-4h0m0 4h0m1-5h0m0-1h0m0 4h0m1-5h0m1 0h0m0 6h0m1-6h0m1 0h0m1 1h0m0-1h0m1 7h0m0-4h0m1-2h0m0 3h0m1-2h0m3 0h0m0 1h0m1 4h0m0-6h0m2 5h0m1-6h0m1 2h0m2-1h0m1 2h0m1 3h0m2-4h0m1 2h0m1 2h0m0-5h0m0 4h0m2 2h0m1 0h0m1-7h0m1 7h0m1 0h0m1-7h0m0 2h0m0 2h0m1 0h0m0-1h0m1-2h0m1 2h0m2 3h0m0-6h0m2 7h0m2-4h0m0-1h0m1 2h0m0-1h0m0 3h0m2-6h0m0 1h0m2-1h0m3 4h0m0 2h0m1-4h0m0 2h0m7 0h0m2-4h0m0 1h0m0 5h0m2-2h0m1 3h0m1 0h0m1-3h0m1-1h0m1 3h0m2-3h0m0-1h0m1 0h0m0-1h0m0 2h0m0 4h0m1-3h0m3 2h0m1-1h0m2-3h0m1 4h0m0-6h0m1 1h0m0 2h0m1-2h0m2 6h0m3-6h0m0 1h0m0 3h0m1-1h0m1-1h0m0-3h0m1 6h0m1 1h0m1-1h0m1 1h0m1-5h0m0 2h0m0 2h0m1-4h0m1 1h0m6 0h0m0 2h0m1-4h0m0 6h0m2-5h0m0 1h0m0-3h0m1 0h0m0 5h0m1-2h0m2 1h0m0 2h0m2-5h0m1 4h0m0-3h0m1-1h0m1 1h0m1 5h0m1 0h0m1-7h0m0 6h0m1-1h0m0 2h0m0-7h0m1 2h0m0 2h0m1-1h0m2-1h0m2 1h0m1-3h0m0 6h0m1 1h0m1-5h0m0-1h0m1 2h0m1 2h0m2-3h0m2-1h0m0 3h0m0 2h0m0-1h0m1-3h0m0 3h0m1-2h0m1 0h0m0-1h0m1-1h0m4-1h0m9 6h0m2-4h0m13 4h0m-182 8h0m0 1h0m2 0h0m2-5h0m2 2h0m1 1h0m1-4h0m1 0h0m0-1h0m2 5h0m1-3h0m0 1h0m1 2h0m1-4h0m1 4h0m0 2h0m1-6h0m1 6h0m1-4h0m1 2h0m1-3h0m1 2h0m1-4h0m0 2h0m0 2h0m1-3h0m1 0h0m1 4h0m0-4h0m1 6h0m2-2h0m1-1h0m2-2h0m0-1h0m1 0h0m0 4h0m3-5h0m0 4h0m1-3h0m1 5h0m0-1h0m0 2h0m2-7h0m0 4h0m2 3h0m1-1h0m0 1h0m2-6h0m1 4h0m2 2h0m0-5h0m0 3h0m1 2h0m1-6h0m1 0h0m0-1h0m3 2h0m2 0h0m1 0h0m2-2h0m0 5h0m1-3h0m1-2h0m1 3h0m0 1h0m1-3h0m0 2h0m1 1h0m1 2h0m1 0h0m1-3h0m0-1h0m1 3h0m1-1h0m0-3h0m1 3h0m1 1h0m2-5h0m1 6h0m1 0h0m0-3h0m1 3h0m1-3h0m0-1h0m3 2h0m0 2h0m0 1h0m1-7h0m1 3h0m0 1h0m1 3h0m4-5h0m0-1h0m1 2h0m1 4h0m1-7h0m3 3h0m1-2h0m0 2h0m0 3h0m1-1h0m1-4h0m0-1h0m3 4h0m0 2h0m1 1h0m3-1h0m0-2h0m1-2h0m0 5h0m1-1h0m1-6h0m1 0h0m0 3h0m2 1h0m0 2h0m1-2h0m1-2h0m1 0h0m0 3h0m1-3h0m0 3h0m1-3h0m0 2h0m2-4h0m0 1h0m0 4h0m0 1h0m1-3h0m1 0h0m0-1h0m1 4h0m1-1h0m2-5h0m0 3h0m1-3h0m2 0h0m0 1h0m1 3h0m3-2h0m1 2h0m1-3h0m0 5h0m2-2h0m0 3h0m1-4h0m0 4h0m1-5h0m0 4h0m1 0h0m0-6h0m1 7h0m0-1h0m0-4h0m1-1h0m0 1h0m1 3h0m1 1h0m1-6h0m2 4h0m2 1h0m2-4h0m0 4h0m2-1h0m0-4h0m-159 15h0m1 0h0m1-3h0m0 3h0m1-1h0m5-5h0m1 3h0m1-1h0m0 2h0m3 0h0m0 2h0m0-5h0m1 1h0m0 4h0m1 0h0m1 0h0m0-7h0m0 3h0m1-2h0m0 4h0m1 2h0m0-5h0m1-1h0m0 5h0m1-1h0m1 2h0m1-6h0m2 6h0m1-3h0m0-4h0m1 7h0m0-5h0m2 5h0m1 0h0m0-6h0m2 0h0m1 4h0m1 0h0m1 0h0m1 2h0m1-4h0m2 1h0m0 2h0m1-6h0m1 1h0m1 0h0m0 4h0m0 2h0m2-5h0m1-2h0m2 1h0m1 3h0m3-2h0m5-2h0m1 0h0m1 7h0m2-3h0m0 3h0m1-6h0m0 6h0m1 0h0m1 0h0m0-6h0m3-1h0m1 1h0m0 2h0m1 1h0m1 3h0m3-2h0m0 1h0m0-6h0m1 0h0m1 7h0m1-3h0m4 2h0m0-6h0m0 2h0m2-1h0m1 0h0m0 2h0m1 3h0m0-3h0m4 4h0m0-1h0m3-1h0m0 2h0m2-2h0m2-4h0m1 5h0m0-5h0m1 4h0m0 1h0m1-1h0m0-5h0m1 5h0m1 0h0m2-5h0m0 1h0m1-1h0m0 6h0m1-1h0m0 2h0m1-1h0m0-2h0m1-4h0m1 6h0m3 1h0m2-5h0m0 3h0m2 2h0m0-3h0m2-2h0m2-2h0m1 5h0m0 2h0m3-6h0m1 0h0m1 5h0m1-1h0m0-5h0m1 5h0m1 1h0m0-6h0m2 6h0m2-2h0m1-3h0m1 5h0m1-6h0m0 3h0m1-1h0m0 3h0m1 2h0m2-4h0m1 1h0m0 2h0m0-6h0m1 3h0m0 4h0m1 0h0m0-7h0m1 1h0m0-1h0m2 5h0m3-3h0m1-1h0m1 2h0m-155 12h0m3-1h0m2-5h0m3 1h0m0-1h0m0 6h0m1-3h0m0 1h0m1 1h0m3-3h0m1 1h0m0-1h0m0 3h0m0 1h0m2-6h0m1 6h0m2-4h0m0 1h0m2 2h0m0-5h0m0-1h0m0 2h0m1 2h0m1-3h0m1 1h0m0 4h0m1-6h0m0 7h0m1-1h0m4 0h0m0-6h0m1 2h0m3 3h0m0-5h0m0 2h0m0 1h0m1-1h0m0 2h0m2 2h0m0-3h0m1 2h0m1-5h0m0 3h0m1-2h0m0 5h0m2-6h0m1 6h0m0 1h0m1-3h0m2 2h0m1 0h0m0-1h0m1 2h0m4 0h0m2 0h0m0-1h0m4-2h0m0-1h0m1 3h0m2-1h0m1 2h0m1-3h0m2-1h0m1 4h0m1-2h0m0 2h0m0-4h0m1-1h0m1 1h0m1 2h0m1-1h0m0-1h0m4 2h0m1 0h0m1-3h0m0 2h0m0 3h0m0-6h0m1-1h0m0 6h0m1-1h0m0-5h0m1 0h0m2 2h0m2 4h0m1 1h0m0-7h0m1 3h0m0 2h0m1-1h0m1-3h0m2 3h0m2-2h0m1 0h0m1 2h0m0 1h0m1-5h0m1 4h0m0-1h0m1 0h0m0 4h0m2-4h0m1 4h0m0-1h0m2 1h0m2-4h0m1 1h0m0 1h0m1 0h0m3-2h0m2 1h0m1 0h0m0-3h0m0-1h0m2 3h0m3 1h0m1-3h0m1-1h0m0 6h0m0-1h0m2-3h0m0 5h0m1-5h0m1 4h0m1-3h0m1 3h0m1-1h0m1-4h0m2 4h0m0-3h0m2 4h0m1-2h0m2 3h0m1-1h0m0-5h0m1 0h0m0 2h0m1 4h0m1-5h0m1 0h0m4-1h0m-158 14h0m6 0h0m8-3h0m1-1h0m2 4h0m1-2h0m1 1h0m0-1h0m1-5h0m1 2h0m0 4h0m1-5h0m0 2h0m0 1h0m1 2h0m1-5h0m0-1h0m2 6h0m0 1h0m2-4h0m1 3h0m0-6h0m1 1h0m0 5h0m1-4h0m1-1h0m3 6h0m1-5h0m0 3h0m0-1h0m1-3h0m1-1h0m0 4h0m0 3h0m1-1h0m2-6h0m1 7h0m0-6h0m1 5h0m0-3h0m1-2h0m0 1h0m1 2h0m2-4h0m0 2h0m2 4h0m1-3h0m2 3h0m0 1h0m1-7h0m2 7h0m1-6h0m2 1h0m1 5h0m3-4h0m1 0h0m1 4h0m1-1h0m1-4h0m1 2h0m1 3h0m2-6h0m1 4h0m3 0h0m0-5h0m3 1h0m1 3h0m2 2h0m1-5h0m0 4h0m0-1h0m1-1h0m0 3h0m1-3h0m0 2h0m0-1h0m2 3h0m2-5h0m1-2h0m1 4h0m2-3h0m0 2h0m1 1h0m2 3h0m0-5h0m1 5h0m1-7h0m0 3h0m0 2h0m3-2h0m0-1h0m1 0h0m2 1h0m3-2h0m0 5h0m1-4h0m0-1h0m1 0h0m1 4h0m0-2h0m1 4h0m0-7h0m1 2h0m2 2h0m2 1h0m1 0h0m1-1h0m2-1h0m0-1h0m0 2h0m1-3h0m0 3h0m4 1h0m1 1h0m0-1h0m2 2h0m1-5h0m0 3h0m1-5h0m1 1h0m0 6h0m1-5h0m1 5h0m1-2h0m1-2h0m1-2h0m0 2h0m0 2h0m0 1h0m2-3h0m1-1h0m0 5h0m1-1h0m1-6h0m2 5h0m1-2h0m-155 11h0m2-1h0m5-2h0m0-1h0m0 2h0m1-3h0m1 0h0m0 6h0m2-4h0m0 1h0m0 3h0m1 0h0m0-7h0m1 7h0m1-2h0m0-4h0m1 1h0m0 3h0m0-5h0m5 0h0m0 2h0m1 0h0m1 5h0m1-7h0m1 6h0m1 0h0m1-6h0m1 6h0m1-6h0m0 3h0m0 1h0m0 3h0m2 0h0m0-1h0m2-3h0m0 2h0m1-4h0m0 1h0m1 5h0m2-5h0m4 5h0m1-6h0m0 3h0m1-1h0m2 4h0m1-6h0m0-1h0m1 7h0m0-1h0m1-5h0m1 0h0m3 4h0m0 1h0m2-6h0m1 1h0m1 0h0m1 6h0m2-1h0m0-3h0m0 2h0m2 0h0m0 2h0m2-5h0m0-2h0m1 7h0m3-1h0m3-4h0m2-1h0m0 2h0m1 2h0m0-1h0m0 3h0m3-7h0m0 1h0m1 2h0m1 2h0m0 2h0m1-5h0m1-1h0m0 3h0m1-4h0m1 3h0m3 2h0m0 1h0m3 0h0m1-1h0m1-2h0m1-1h0m0 1h0m0 1h0m1-2h0m1 0h0m0 2h0m4 1h0m1 1h0m0-4h0m1 1h0m0-2h0m1 0h0m0 3h0m0 1h0m0 1h0m1-6h0m1 0h0m1 5h0m2-2h0m0 4h0m6-7h0m2 5h0m0 2h0m3-2h0m1-2h0m0 3h0m1 1h0m2-2h0m2-4h0m0 3h0m0-1h0m2 4h0m1-7h0m0 5h0m3-5h0m0 4h0m1-1h0m1 1h0m0 2h0m2 0h0m0-6h0m1 6h0m1 0h0m0-1h0m1-4h0m2 3h0m0-1h0m7-2h0m2-1h0m0 2h0m1-1h0m-151 13h0m1-2h0m1-4h0m1 4h0m0 3h0m0-2h0m2 0h0m2 0h0m2 1h0m2-3h0m0 2h0m1-2h0m0 2h0m2-5h0m1 0h0m0 2h0m1 3h0m2 0h0m0-3h0m1-1h0m0 4h0m1-2h0m1 2h0m1-5h0m2 6h0m1-5h0m0 4h0m1-5h0m2 6h0m0 1h0m2-2h0m0 2h0m1-2h0m1 2h0m0-1h0m1-2h0m1-3h0m1 5h0m1 1h0m0-4h0m1 2h0m1 1h0m0-1h0m0 2h0m1-1h0m2-4h0m2 5h0m1-1h0m1-6h0m1 3h0m0 4h0m1-7h0m0 5h0m1-2h0m0 3h0m0 1h0m2-5h0m1 2h0m3 2h0m0-3h0m1-3h0m0 4h0m1 3h0m0-3h0m4-2h0m1 2h0m0 2h0m3-2h0m1-3h0m0 3h0m0 2h0m1-5h0m1 6h0m1-1h0m2-1h0m0 2h0m0-1h0m1 1h0m1-6h0m0 1h0m1 5h0m0-4h0m1-1h0m2 3h0m1-2h0m0 2h0m1 2h0m1-3h0m0 2h0m0-1h0m1-1h0m1 0h0m0-1h0m0 2h0m1 2h0m1-2h0m1 0h0m2 0h0m0-4h0m0-1h0m1 5h0m0-1h0m1-3h0m0 4h0m2-3h0m3-2h0m1 2h0m1 2h0m1 2h0m3-3h0m2-3h0m1 3h0m2-3h0m1 6h0m1 1h0m1 0h0m1-4h0m1 2h0m1-1h0m1-3h0m1 6h0m1-6h0m0 2h0m0 4h0m4-7h0m2 5h0m0 2h0m0-7h0m0 4h0m1-1h0m2-2h0m1 3h0m4-1h0m0 3h0m1-2h0m1-1h0m1-3h0m0 1h0m0 4h0m0-1h0m9-4h0m-139 13h0m1-4h0m0 5h0m1-5h0m1 3h0m0-1h0m1-1h0m0 4h0m1-4h0m1 3h0m1 2h0m0-6h0m0-1h0m1 4h0m0 1h0m1-4h0m0 5h0m2-1h0m1-4h0m1 4h0m0-1h0m0 2h0m1-1h0m0 1h0m4 1h0m0-6h0m1 2h0m1-2h0m0 6h0m1-4h0m2-2h0m1 2h0m1-3h0m1 3h0m1 2h0m0-5h0m2 5h0m0 1h0m0-3h0m1 4h0m0-6h0m1 1h0m1 3h0m1 1h0m1 0h0m2-3h0m0 1h0m2-1h0m0-1h0m0 4h0m1-5h0m0-1h0m0 2h0m2 4h0m1-5h0m0 5h0m2-2h0m3-2h0m0 3h0m0 1h0m1-5h0m1 1h0m1-1h0m0 5h0m1 0h0m0-4h0m1 0h0m1 1h0m0 3h0m2-2h0m1 1h0m1-3h0m2 3h0m0 1h0m1-3h0m0 3h0m0 1h0m2-6h0m2 0h0m2 6h0m0-4h0m0-1h0m1 4h0m0-4h0m2 0h0m1 4h0m1-5h0m0 2h0m2-3h0m0 3h0m0 2h0m0-1h0m1-4h0m0 2h0m3 1h0m0-3h0m2 3h0m1 3h0m0-6h0m1 6h0m1-2h0m0-3h0m1 0h0m0 1h0m0 4h0m0-1h0m1 2h0m1-3h0m0 3h0m0-2h0m1-4h0m1 1h0m0 2h0m1 1h0m0 2h0m1-4h0m0 3h0m1-6h0m0 4h0m0 2h0m0 1h0m2-5h0m0 1h0m0 4h0m1-5h0m3 0h0m2 5h0m1-3h0m2-4h0m0 2h0m1-2h0m1 2h0m1-2h0m0 3h0m0 3h0m2-1h0m1-1h0m1-2h0m0 5h0m1-5h0m0 2h0m3-1h0m1-1h0m2 3h0m2-4h0m1 0h0m2 2h0m0 1h0m2-3h0m-122 8h0m0 6h0m1-7h0m2 3h0m1-2h0m1 3h0m1-3h0m1 5h0m0-4h0m1 4h0m4-1h0m1 1h0m1-2h0m0-1h0m2 1h0m2 0h0m2 3h0m2-2h0m1 2h0m1-3h0m0 2h0m0-4h0m1 0h0m4 2h0m0 3h0m0-7h0m2 0h0m1 7h0m1-2h0m6-5h0m1 3h0m1 2h0m3-1h0m1-1h0m0 4h0m1-1h0m1-2h0m1-1h0m1-3h0m0 3h0m0 3h0m1-2h0m4-1h0m1-3h0m1 1h0m0 4h0m2-3h0m1 0h0m2 2h0m1 1h0m2-4h0m2 2h0m1-1h0m1 1h0m0 2h0m1-2h0m3-1h0m2-2h0m3 6h0m1-1h0m0 2h0m0-6h0m1 0h0m0 6h0m3-5h0m1 3h0m3-3h0m0 4h0m1-5h0m0 3h0m0 2h0m1 1h0m2-4h0m3-2h0m2 0h0m1-1h0m1 2h0m1 1h0m0 2h0m1-4h0m0 5h0m1-1h0m1-5h0m1 2h0m0 1h0m3-1h0m3-1h0m-109 10h0m0 2h0m0 1h0m1-2h0m0 3h0m1 0h0m3-3h0m0-1h0m0 3h0m0-5h0m1 3h0m0 2h0m1-3h0m0 1h0m1 2h0m5 0h0m2 0h0m2-4h0m0 2h0m0 2h0m0 1h0m3-1h0m1 0h0m0-1h0m1 2h0m2-4h0m1-3h0m0 2h0m0 5h0m1-3h0m1-2h0m0 4h0m1-2h0m2-4h0m1 4h0m0-1h0m1 2h0m1-5h0m2 6h0m0-1h0m2-5h0m0 4h0m2 1h0m0 2h0m1-2h0m0-3h0m2 4h0m3-4h0m0 3h0m1-1h0m2-2h0m0 2h0m0 1h0m1 1h0m1 1h0m4-7h0m1 0h0m1 6h0m1-4h0m3-1h0m1-1h0m1 0h0m0 5h0m3 2h0m1-2h0m3-4h0m0 6h0m1 0h0m4-3h0m0 2h0m0-6h0m1 1h0m0 5h0m0-1h0m1 2h0m1-3h0m2 3h0m0-6h0m0 2h0m1 0h0m4 0h0m0-1h0m1 3h0m1-2h0m1-3h0m0 2h0m2-1h0m4 1h0m-92 6h0m1 6h0m0-6h0m1 7h0m1-5h0m2 5h0m2-6h0m0 3h0m2-3h0m1-1h0m0 4h0m0 3h0m2-3h0m1-3h0m0 1h0m0-2h0m1 1h0m2 5h0m0-3h0m3 4h0m0-1h0m1-2h0m2 3h0m1-1h0m1 0h0m0 1h0m2-4h0m1-2h0m1-1h0m2 2h0m2-2h0m0 3h0m1-3h0m1 7h0m0-7h0m5 0h0m0 3h0m0 2h0m2-2h0m1-1h0m1 0h0m1-2h0m1 1h0m0-1h0m0 2h0m1 1h0m0 3h0m1-6h0m1 7h0m1-5h0m2 5h0m1-3h0m1 3h0m0-2h0m4-4h0m0 3h0m1-1h0m1-1h0m1-1h0m0 2h0m1-3h0m1 5h0m1 0h0m1-4h0m0 2h0m2-3h0m2 2h0m1 1h0m-69 6h0m1-1h0m0 1h0m0 4h0m1 1h0m0-3h0m1 4h0m1 0h0m1-7h0m1 3h0m1 1h0m0 2h0m0-3h0m2 4h0m1-4h0m0-2h0m3-1h0m0 2h0m1 5h0m1-1h0m0-3h0m0 1h0m0 3h0m1-3h0m1 2h0m1 0h0m0-3h0m3-3h0m1 5h0m1 2h0m4 0h0m0-5h0m1 3h0m1 2h0m1-1h0m0-5h0m2 6h0m1-6h0m1-1h0m0 3h0m1 3h0m1-6h0m0 5h0m0 1h0m2-2h0m3-2h0m2 4h0m1-3h0m5 0h0m1-3h0m0 2h0m1-2h0m3 1h0m-53 8h0m0 1h0m0 4h0m1-6h0m1 6h0m2-2h0m3-4h0m0 4h0m4-4h0m0 2h0m3 1h0m3-3h0m2 2h0m0 2h0m3 0h0m0-1h0m1 0h0m1-2h0m9-1h0" stroke="#0000ff" stroke-width="7.20" stroke-linecap="round"/><path d="M2087 874h0m26 4h0m-29 18h0m14 18h0m22 2h0m-26 17h0m-108 14h0m-206 17h0m71 5h0m89 5h0m16 1h0m-118 3h0m98 3h0m42-5h0m-160 15h0m26-3h0m24 1h0m37-4h0m-187 11h0m87 2h0m19-2h0m4 0h0m6 0h0m17 2h0m58-4h0m7 0h0m37 3h0m-231 7h0m22 3h0m30 0h0m51-6h0m1 3h0m23 3h0m6 0h0m5 0h0m3-1h0m22-1h0m54-2h0m-182 8h0m10 3h0m10-2h0m22-4h0m3 1h0m1 1h0m23 3h0m8 1h0m28 0h0m33-4h0m23 0h0m-162 11h0m37-4h0m12 5h0m12-6h0m8 6h0m26-1h0m45-2h0m-180 10h0m33 1h0m9-1h0m26 2h0m50-4h0m7 3h0m3-6h0m9 5h0m11 1h0m42-4h0m-209 10h0m8 3h0m5-1h0m2-6h0m1 5h0m25-3h0m2 1h0m5 3h0m57-2h0m6-3h0m22 1h0m-161 13h0m1 0h0m8-3h0m2 2h0m19 0h0m18 0h0m14-2h0m8-4h0m7 3h0m1 1h0m4 3h0m1 0h0m4-5h0m2 5h0m1 0h0m1-2h0m1 0h0m2-1h0m16-2h0m34-2h0m17 1h0m26 3h0m-178 5h0m8 5h0m2-2h0m13-3h0m49 4h0m2-5h0m10 2h0m18 1h0m6 2h0m14-2h0m17 0h0m-178 12h0m37-1h0m22-5h0m2 0h0m14 3h0m15 1h0m17-5h0m4 0h0m10 4h0m5-3h0m3 1h0m9 5h0m7-6h0m19 6h0m11-1h0m1-4h0m-183 11h0m3 2h0m3-1h0m20 0h0m4-6h0m7 1h0m27 0h0m48 5h0m8-5h0m32 2h0m1 2h0m17 0h0m-188 9h0m14 0h0m12-5h0m58-1h0m14 2h0m34 2h0m11 1h0m-146 10h0m8 0h0m6-5h0m56 3h0m65 0h0m4-2h0m-151 5h0m9 1h0m20 4h0m71-4h0m14 4h0m-123 8h0m1-2h0m3-1h0m5-1h0m70 5h0m19-3h0m14 1h0m-124 11h0m8-2h0m2 1h0m4-5h0m127-1h0m-145 11h0m1 0h0m50-1h0m16-1h0m42 6h0m-76 7h0m61-1h0m-96 4h0m76 6h0m-58 2h0m27 0h0m-49 22h0" stroke="#ff0000" stroke-width="7.20" stroke-linecap="round"/></g>
<g fill="none" transform="scale(0.25)"><path d="M386 1415h0m-31 6h0m3 22h0m29 3h0m41-1h0m-71 4h0m35-1h0m10 0h0m37 9h0m-109 13h0m56 1h0m3 0h0m31 0h0m25-6h0m21 1h0m-139 7h0m15 1h0m50-2h0m-55 12h0m2 0h0m80-1h0m-78 14h0m30 0h0m12 6h0m4-4h0m48-2h0m0 2h0m26-1h0m-129 9h0m38 4h0m71-1h0m17-1h0m30 1h0m-157 6h0m3 0h0m69 1h0m100 1h0m27-2h0m6 1h0m3 0h0m13 2h0m-218 6h0m36 0h0m7 2h0m12-6h0m17 3h0m65-2h0m1-2h0m25 7h0m3 0h0m5-3h0m5 3h0m5-6h0m1 6h0m2-6h0m4 1h0m0 5h0m3-2h0m0-5h0m4 6h0m1-5h0m1 6h0m0-6h0m4 2h0m4-2h0m1 0h0m3-1h0m1 0h0m6 0h0m4 7h0m-237 4h0m8 1h0m85 1h0m37-3h0m30 5h0m0-1h0m2 1h0m7-2h0m3 2h0m2-1h0m0-2h0m2-3h0m3 2h0m3-1h0m1 1h0m4 1h0m8 2h0m0-2h0m7-1h0m0-3h0m6 0h0m2 3h0m6-1h0m1-2h0m12 1h0m1 4h0m1-1h0m-204 10h0m26-5h0m91 3h0m4-2h0m4 0h0m1 5h0m3 0h0m5-5h0m12 1h0m3 1h0m0 1h0m1-1h0m0 2h0m5-1h0m0-5h0m2 2h0m5 0h0m1-2h0m1 6h0m4-1h0m12 1h0m1-6h0m3 7h0m4-2h0m4-2h0m8 4h0m7 0h0m1-3h0m0-4h0m-242 13h0m63 0h0m3 1h0m18 0h0m40 0h0m3-2h0m13 1h0m2-2h0m2 4h0m2-6h0m2-1h0m5 3h0m0 1h0m0-3h0m1-1h0m0 4h0m3-4h0m5 3h0m1 1h0m5 2h0m0-5h0m7 3h0m0 2h0m0-1h0m1 0h0m2-4h0m4 2h0m2 1h0m4 3h0m2-7h0m0 3h0m3 3h0m1-6h0m0 5h0m4-5h0m0 1h0m1-1h0m4 7h0m4-7h0m0 5h0m8 0h0m10-4h0m1 0h0m1-1h0m14 5h0m-182 5h0m45 5h0m6 0h0m3-5h0m4 0h0m2-1h0m3 5h0m2-3h0m3 2h0m3-4h0m2 4h0m4-3h0m0-1h0m3 1h0m5 0h0m4 1h0m7 2h0m1-3h0m0 5h0m5-6h0m5 5h0m4-4h0m2 0h0m7-2h0m1 4h0m1 0h0m4-2h0m0 1h0m2 4h0m5-7h0m8 3h0m19-2h0m0 1h0m10 0h0m8-1h0m-194 8h0m36 5h0m1 0h0m4-3h0m1 4h0m4-3h0m1 1h0m4-4h0m3-1h0m8 2h0m2 3h0m1-3h0m5-1h0m2 0h0m4-1h0m1 0h0m1 7h0m1-6h0m4-1h0m4 7h0m1 0h0m1-3h0m2 3h0m18-3h0m6 0h0m5 1h0m1 0h0m7-2h0m3 2h0m1-2h0m15 0h0m12-3h0m11 1h0m10-1h0m5 2h0m12 2h0m-219 8h0m6-3h0m27 5h0m10-2h0m1-2h0m2 0h0m2 2h0m1 0h0m11 0h0m2 0h0m2 3h0m0-6h0m3 5h0m3-5h0m10 2h0m1 4h0m3-3h0m4 3h0m6-4h0m2-1h0m0 4h0m9-4h0m3 2h0m4 3h0m4 0h0m1-2h0m1 2h0m1-2h0m11-5h0m2 2h0m2 1h0m4 1h0m7-2h0m4-1h0m22 0h0m8 3h0m1-4h0m-212 14h0m13-1h0m27 2h0m8-1h0m1 1h0m21-2h0m4 1h0m2-2h0m1 3h0m1-3h0m3 2h0m1-6h0m2 7h0m4-3h0m1 0h0m5 2h0m1-5h0m0 5h0m2-4h0m1 2h0m6-1h0m0 3h0m9 1h0m2-6h0m3 3h0m14-4h0m3 7h0m1 0h0m2-1h0m1-3h0m1 1h0m2 3h0m1-5h0m3 5h0m1-5h0m2 3h0m4-3h0m10 0h0m23 5h0m2-4h0m8 0h0m7 3h0m10-4h0m9 4h0m23-5h0m5 2h0m-224 12h0m2-6h0m11 6h0m3-2h0m3 1h0m2 0h0m3-3h0m2 3h0m2-2h0m1 2h0m3-3h0m5 3h0m0 1h0m1-6h0m4 2h0m0 4h0m2-2h0m5-2h0m0-3h0m1 6h0m1-1h0m10-2h0m4 2h0m0-3h0m6 5h0m3-6h0m4 6h0m2-5h0m1 1h0m1 0h0m1-1h0m3-2h0m1 7h0m6-5h0m0 4h0m3-6h0m1 4h0m4-3h0m7 3h0m5 2h0m3-1h0m4-2h0m4 1h0m2 3h0m2-7h0m1 0h0m3 3h0m3-1h0m2-2h0m4 3h0m1-2h0m2 3h0m1-1h0m1 4h0m5-7h0m0 2h0m1 2h0m11 2h0m1-5h0m4 0h0m27 5h0m18-2h0m10 3h0m4-2h0m-248 9h0m5 0h0m14-4h0m2-2h0m1 1h0m1 1h0m1 2h0m1-4h0m10 6h0m6-5h0m2-1h0m5 5h0m4 0h0m0 1h0m4-6h0m4 4h0m1-4h0m0 5h0m1-5h0m1 6h0m0-5h0m1 3h0m1-3h0m1 1h0m0 2h0m3 0h0m9-1h0m7-1h0m6 3h0m3 1h0m5-2h0m15 2h0m6-6h0m8 5h0m0-1h0m4-1h0m5-3h0m11 7h0m5-7h0m0 1h0m3 5h0m1-2h0m7 2h0m1-1h0m3-1h0m39-4h0m10 3h0m20-2h0m-234 10h0m0 1h0m4 3h0m5-7h0m3 6h0m5 1h0m1 0h0m3-5h0m0 3h0m2-2h0m1 1h0m0 3h0m1-2h0m0-1h0m2-2h0m2 2h0m5 0h0m2 1h0m0 2h0m2-1h0m5-2h0m2 2h0m9-3h0m14 1h0m5-1h0m0 3h0m3-3h0m1 2h0m1-3h0m1 3h0m3-1h0m2 3h0m1-6h0m4 6h0m0-7h0m3 7h0m2-4h0m2-2h0m5 5h0m1-1h0m0-3h0m6 4h0m3-4h0m2-2h0m5 7h0m1-4h0m1-3h0m2 6h0m1-5h0m5 2h0m4 4h0m1 0h0m2 0h0m2-3h0m2-1h0m1-2h0m8 6h0m10-6h0m2 4h0m15 0h0m52-3h0m-253 10h0m12 0h0m5 3h0m0-1h0m1-6h0m3 7h0m2-5h0m1 2h0m4 1h0m0 2h0m1-3h0m0-1h0m1 2h0m3 2h0m5-5h0m1 4h0m1-4h0m2 3h0m2 0h0m2 1h0m0-4h0m2 0h0m0 1h0m1 0h0m2 4h0m1-4h0m2 2h0m4 0h0m4-4h0m4 2h0m0-1h0m1 0h0m1 2h0m2 0h0m7-1h0m0 2h0m0 2h0m2-3h0m2 1h0m4 0h0m1-4h0m2-1h0m1 5h0m6 0h0m9 0h0m1 0h0m6-4h0m2 4h0m4-4h0m0 2h0m2 4h0m4 0h0m2-7h0m1 1h0m2-1h0m3 3h0m0-2h0m3 5h0m1-4h0m9 5h0m9-4h0m7-1h0m2 4h0m1 0h0m2-3h0m1 1h0m2-4h0m9 7h0m26-5h0m50-1h0m0 2h0m16-2h0m-271 7h0m0 7h0m5-1h0m1-6h0m2 6h0m2 0h0m2-4h0m1 4h0m0-6h0m1 6h0m1-3h0m3 1h0m0-1h0m1 3h0m7-3h0m0 2h0m0-4h0m0-1h0m5 7h0m4-5h0m1 1h0m0 3h0m1-3h0m2 0h0m6-1h0m2 1h0m5-2h0m4 2h0m3 0h0m0-3h0m7 4h0m1-4h0m1 4h0m6-1h0m6 2h0m4-3h0m4-2h0m7 7h0m1-1h0m1-1h0m2-1h0m9 2h0m7 1h0m2 0h0m2-3h0m2-3h0m0 4h0m1-4h0m0 1h0m10-1h0m8 3h0m2 0h0m5 0h0m4 1h0m9 2h0m2-4h0m60 0h0m21 4h0m7-4h0m-253 11h0m2-3h0m1 3h0m2-2h0m1 1h0m1 0h0m2-5h0m0 2h0m1 2h0m0 3h0m1-3h0m0-3h0m1-1h0m3 1h0m0 3h0m1 3h0m1-3h0m1 0h0m3-1h0m2 3h0m1 1h0m2-2h0m0 2h0m0-7h0m4 4h0m2-4h0m0 6h0m2-3h0m3-1h0m1 1h0m0 4h0m0-1h0m2-5h0m3 6h0m4-6h0m1 2h0m11 2h0m0 1h0m1-4h0m2 2h0m3-3h0m1 6h0m6-6h0m0 2h0m2 1h0m0-2h0m1 1h0m1 4h0m0-7h0m7 6h0m2-5h0m1 3h0m4-3h0m5-1h0m1 1h0m1 0h0m10 3h0m2 1h0m9-5h0m2 6h0m6-5h0m9 6h0m0-1h0m3 1h0m5-7h0m1 2h0m3 2h0m5 0h0m0-4h0m5 4h0m3-1h0m4 4h0m95 0h0m13-6h0m-293 12h0m6-1h0m9 0h0m2 3h0m4-5h0m3 0h0m2 4h0m3-4h0m1 5h0m1-7h0m3 0h0m2 0h0m1 0h0m0 3h0m3 0h0m1 0h0m0 2h0m9-5h0m0 1h0m3 2h0m6 4h0m2-1h0m1-3h0m2 3h0m0-1h0m1 0h0m1-3h0m0 2h0m7 2h0m2 1h0m4-6h0m3 0h0m3 3h0m2 1h0m4 1h0m1 1h0m2-6h0m1 2h0m4 3h0m9-2h0m2 0h0m3 0h0m5 3h0m0-5h0m5-1h0m5 1h0m1 0h0m3 0h0m7-1h0m0 6h0m1 0h0m0-4h0m1-3h0m4 5h0m5-2h0m1 0h0m7 3h0m1-3h0m1 4h0m2-6h0m0 2h0m5 0h0m3-3h0m8 0h0m2 1h0m2-1h0m8 3h0m22 3h0m20 1h0m13 0h0m17-6h0m18 3h0m16-2h0m-287 11h0m3-2h0m4-1h0m2 2h0m0 3h0m2-3h0m0-3h0m0 2h0m1 0h0m2 1h0m3-3h0m0 3h0m2-4h0m1 2h0m0 1h0m0 2h0m2-5h0m3 6h0m1-5h0m1 3h0m2-4h0m2 2h0m2-1h0m2 3h0m1-1h0m1 2h0m1-1h0m4-1h0m0 3h0m1-2h0m2-3h0m1 1h0m3 2h0m5 1h0m1 1h0m1-2h0m6-2h0m1 3h0m0-2h0m2 4h0m10-1h0m2-1h0m6-5h0m2 2h0m0 3h0m0 2h0m1-7h0m1 7h0m3-3h0m2-4h0m3 4h0m1 2h0m2-5h0m5 3h0m10 2h0m8-1h0m8 1h0m2-5h0m1 3h0m5 1h0m4-3h0m2-2h0m3 5h0m3-3h0m2-1h0m12 4h0m36-1h0m42 1h0m0 2h0m2-5h0m-249 13h0m1-1h0m2-1h0m4-3h0m1-1h0m0 6h0m2-7h0m1 2h0m1 5h0m0-6h0m2 2h0m0 1h0m1 2h0m2-6h0m0 5h0m2 1h0m3-1h0m0-1h0m4-4h0m1 2h0m1 2h0m0-4h0m4 1h0m2-1h0m1 0h0m1 1h0m1 6h0m1-4h0m1-2h0m0 2h0m1 0h0m1 1h0m5-3h0m1 1h0m0 3h0m1 1h0m1-5h0m1 4h0m4-1h0m2 2h0m2-5h0m0 6h0m3-4h0m0-1h0m3-2h0m2 2h0m0 3h0m2 2h0m2-7h0m1 6h0m2-6h0m2 5h0m1-2h0m0-1h0m2 3h0m0-3h0m3 1h0m4-3h0m0 1h0m0 6h0m1 0h0m0-2h0m1-5h0m1 2h0m0 1h0m4-2h0m6 2h0m8 3h0m3-3h0m5 0h0m2 3h0m1-4h0m2 0h0m3 0h0m0 2h0m6-1h0m1 3h0m3-1h0m3-2h0m2-3h0m13 7h0m4-3h0m54-2h0m1 1h0m4 4h0m0-3h0m26-2h0m10-1h0m6 1h0m9 0h0m30 3h0m-299 3h0m0 3h0m5 2h0m0 1h0m1-1h0m0 2h0m2-3h0m1-2h0m1-1h0m0 4h0m0 2h0m2-7h0m2 7h0m2-2h0m2-2h0m2-2h0m0 3h0m1-2h0m7 2h0m0-2h0m1 0h0m2 5h0m3-3h0m4 0h0m1-3h0m0 5h0m3-1h0m3 1h0m0-1h0m1-3h0m1 3h0m1-5h0m3 5h0m1-1h0m0-1h0m1 3h0m2 0h0m0 1h0m1-1h0m3 0h0m3 0h0m5-6h0m3 6h0m1-5h0m1 1h0m1-2h0m1 2h0m0 4h0m1-3h0m4 4h0m3-4h0m0 4h0m4-3h0m2-3h0m0 3h0m0 3h0m1 0h0m2-2h0m1 2h0m5-3h0m1-4h0m2 4h0m2-2h0m8 3h0m0 2h0m5-7h0m6 7h0m1 0h0m6-1h0m6 1h0m4-5h0m2-1h0m7 6h0m0-6h0m1 0h0m0-1h0m2 6h0m0-6h0m15 3h0m20 2h0m12 0h0m57-1h0m10-4h0m1 0h0m10 4h0m-300 8h0m12 2h0m1-5h0m3 5h0m4-6h0m2 6h0m1-5h0m0 4h0m1 1h0m1-4h0m0 3h0m0 2h0m1-3h0m1 1h0m3-2h0m1-1h0m1 4h0m0-5h0m2 6h0m0-5h0m3 5h0m1-4h0m1-1h0m0 2h0m0 3h0m1-6h0m1 2h0m1 4h0m2 0h0m0-6h0m4 0h0m1 4h0m0 2h0m2-1h0m3 0h0m1-4h0m3 0h0m0 2h0m0 3h0m1-2h0m1 2h0m1-6h0m1 0h0m1-1h0m0 5h0m3-3h0m2 1h0m4 4h0m1-4h0m3-2h0m0 4h0m0 2h0m1-4h0m1-2h0m3 2h0m2 2h0m3-5h0m1 4h0m2-3h0m0 4h0m3-3h0m4 2h0m0 3h0m1 0h0m1-2h0m3 2h0m0-7h0m0 1h0m7 6h0m3-3h0m1 0h0m7 3h0m2 0h0m9-4h0m1-1h0m2 5h0m1-2h0m4 1h0m2 1h0m3 0h0m10-7h0m1 4h0m4-3h0m2 4h0m3-5h0m10 1h0m4 5h0m27-6h0m3 1h0m57-1h0m56 3h0m-308 9h0m1-3h0m1 5h0m0-5h0m1 5h0m6-6h0m3 2h0m1 0h0m1 5h0m1-3h0m1-1h0m1-1h0m0 5h0m0-1h0m3 1h0m1-4h0m1 3h0m2-5h0m2-1h0m0 4h0m1 3h0m2-3h0m0-4h0m2 2h0m1 0h0m0-2h0m0 1h0m3 4h0m2-5h0m1 2h0m6 4h0m3-1h0m0-5h0m1 4h0m2-2h0m6 5h0m1-7h0m1 7h0m1 0h0m3-4h0m1-3h0m2 2h0m5 2h0m1-2h0m20-1h0m0 5h0m9-4h0m0-1h0m1 3h0m1 3h0m6-1h0m4-4h0m0 3h0m3-1h0m3 3h0m2-5h0m2 4h0m3 0h0m1-1h0m2-3h0m9-1h0m1 3h0m2 3h0m4-3h0m3 0h0m1 0h0m3 1h0m1-2h0m72 0h0m2-2h0m13 5h0m6 1h0m9 0h0m37 0h0m6-2h0m10-4h0m-316 9h0m3 4h0m1 1h0m1-3h0m1 1h0m6-2h0m0 4h0m3-7h0m2 6h0m1 0h0m0-5h0m4 2h0m0-3h0m3 7h0m1-7h0m0 3h0m2-2h0m0 2h0m3-3h0m0 1h0m1 6h0m1-6h0m0 2h0m1 0h0m0 3h0m2-5h0m1-1h0m4 7h0m2-7h0m0 6h0m0-1h0m8 1h0m0-1h0m1 0h0m1-5h0m2 3h0m2-3h0m1 5h0m0-4h0m1 4h0m1-3h0m0 4h0m1-1h0m1-5h0m1 3h0m2 0h0m1-2h0m6 2h0m3 0h0m8 0h0m3 2h0m11-5h0m0 3h0m4 2h0m1-5h0m0 2h0m1 1h0m2 0h0m3 4h0m6-1h0m1-5h0m2 3h0m1-4h0m2 3h0m3 4h0m0-6h0m3 0h0m1 3h0m2 1h0m3-3h0m0 5h0m13-5h0m1-2h0m3 5h0m0-1h0m14-4h0m43 2h0m2 3h0m16-3h0m5-2h0m66 6h0m5-5h0m-300 12h0m4 2h0m1-5h0m7 1h0m0 4h0m1-7h0m1 7h0m1-5h0m1 4h0m1 1h0m1 0h0m2-3h0m1 3h0m3-2h0m1-2h0m0 3h0m1-2h0m1-1h0m3-3h0m1 1h0m1 2h0m1 4h0m1-6h0m1 2h0m2-2h0m1 5h0m2-6h0m1 7h0m1-5h0m1 1h0m2 4h0m1-4h0m1-3h0m0 3h0m1 2h0m4 0h0m0 1h0m4 1h0m3-2h0m1-2h0m0 4h0m6-2h0m5 0h0m2 1h0m7 1h0m3-7h0m1 7h0m4-6h0m8 2h0m2-1h0m9 5h0m2-2h0m2 2h0m10-5h0m1 5h0m5-1h0m6-5h0m0 3h0m1 0h0m2 3h0m22-6h0m14 3h0m32-2h0m1-1h0m20 4h0m22 2h0m32-3h0m20-3h0m-306 11h0m3-1h0m5 4h0m0-1h0m2-4h0m1 0h0m0 2h0m0 1h0m1-4h0m0-1h0m1 0h0m0 2h0m0 2h0m0 3h0m4-7h0m0 1h0m8-1h0m2 2h0m0-1h0m0 2h0m2-3h0m1 6h0m1-1h0m1 2h0m4-1h0m0-5h0m1 4h0m0-5h0m1 4h0m3-3h0m1 3h0m2 3h0m1-5h0m0-1h0m1 2h0m1-1h0m4-2h0m2 0h0m0 1h0m2-1h0m1 3h0m1-1h0m6 4h0m6-4h0m1 1h0m2-3h0m4 7h0m10-4h0m2 0h0m1-1h0m6 0h0m1-2h0m6 1h0m9 3h0m3-4h0m10 0h0m3 2h0m1 4h0m2-3h0m62-3h0m14 6h0m65-5h0m7 0h0m-282 13h0m3-4h0m0 5h0m0-6h0m0-1h0m1 4h0m1 0h0m2-4h0m2 0h0m0 4h0m0-1h0m1 2h0m1-5h0m0 3h0m1 4h0m4-4h0m1 1h0m0-3h0m1 4h0m2-3h0m0-2h0m1 7h0m1 0h0m5-5h0m0 2h0m1 1h0m1-4h0m0 6h0m1-2h0m1 0h0m1-1h0m1-3h0m0-1h0m1 2h0m2-2h0m0 3h0m1-1h0m0 4h0m1 1h0m1-2h0m0-4h0m2 4h0m0-1h0m1 2h0m1 1h0m1-5h0m0 3h0m1 0h0m4-2h0m0-3h0m1 7h0m2-3h0m1-1h0m3 1h0m0-3h0m0 1h0m3-1h0m0 6h0m1-5h0m2 3h0m4-4h0m1 0h0m2 1h0m1-1h0m1-1h0m2 3h0m7 1h0m1 3h0m9-6h0m1-1h0m1 1h0m3 3h0m5 3h0m1-4h0m5-3h0m2 2h0m1 5h0m0-5h0m7 3h0m1-5h0m1 7h0m2-6h0m6 3h0m5 1h0m1-2h0m16 3h0m6-3h0m10 4h0m2-7h0m10 6h0m2-6h0m9 4h0m2-1h0m28 2h0m-220 10h0m3-4h0m1 4h0m0-7h0m0 2h0m1 4h0m0-5h0m1 3h0m0 1h0m1-5h0m0 5h0m4 0h0m0 1h0m1-5h0m1 5h0m4-6h0m1 4h0m1-4h0m4 4h0m0-3h0m1 6h0m1-6h0m3-1h0m0 5h0m1-3h0m2 2h0m2 2h0m1 1h0m5-6h0m0 4h0m1 0h0m0 2h0m1-6h0m0 1h0m1 2h0m2 2h0m1 0h0m2-5h0m1 5h0m1-3h0m5-3h0m6 7h0m1-7h0m10 3h0m4 4h0m5-4h0m3-3h0m3 3h0m4-1h0m6 0h0m0 5h0m7-6h0m5 0h0m3 6h0m6-1h0m1-3h0m8-1h0m5-1h0m3 1h0m5-2h0m11 7h0m20-5h0m36 5h0m10-6h0m7 6h0m13-4h0m9 0h0m10 2h0m-256 4h0m3 0h0m2 0h0m2 3h0m2 0h0m1-2h0m5 1h0m1-1h0m1 5h0m1-1h0m2-6h0m0 7h0m0-1h0m4-2h0m1 1h0m1-2h0m1 3h0m2-4h0m0-1h0m0 4h0m1-5h0m0 2h0m1-2h0m2 1h0m1 4h0m0-1h0m4 0h0m4 0h0m1-1h0m0 3h0m0 1h0m1-5h0m7-2h0m5 4h0m2 1h0m2-5h0m3 4h0m12 0h0m4-3h0m7 5h0m2-1h0m3 1h0m15-3h0m0 4h0m4-3h0m0-2h0m11 2h0m2 1h0m12-5h0m0 4h0m1 1h0m21-2h0m18-3h0m19 6h0m16-1h0m11-4h0m14-1h0m9 1h0m19 3h0m3 1h0m0 2h0m1-5h0m46 2h0m1-1h0m-314 12h0m2-6h0m2 5h0m1-6h0m0 6h0m3-3h0m0 1h0m1 3h0m0-5h0m2-2h0m0 3h0m4 3h0m0-5h0m1 3h0m4 1h0m1-5h0m0 2h0m0 2h0m1 3h0m2-6h0m6 0h0m3 0h0m2 0h0m0-1h0m2 6h0m0-1h0m1-5h0m0 4h0m1 0h0m1 0h0m1-3h0m4 4h0m5-5h0m5 1h0m1 4h0m0 2h0m6-6h0m3 3h0m3-4h0m4 5h0m4 2h0m3-4h0m3-1h0m1 0h0m6 0h0m6 1h0m17 3h0m3-3h0m1 4h0m10-1h0m3-5h0m2 0h0m5 1h0m10 4h0m30-1h0m1 1h0m34 0h0m12 1h0m6-5h0m18 4h0m2-4h0m20 5h0m1 0h0m33-3h0m4 0h0m12 2h0m-322 8h0m3 0h0m4-2h0m2 2h0m1-1h0m0 1h0m3-4h0m0 3h0m2-5h0m1 7h0m0-7h0m1 1h0m2 5h0m2 0h0m2 1h0m0-7h0m2 4h0m1 3h0m1-5h0m1 5h0m2-3h0m8 2h0m1-1h0m1 0h0m0-4h0m2 0h0m1 6h0m4 0h0m8-7h0m1 2h0m3 0h0m8 5h0m3-4h0m4-1h0m1 0h0m2 2h0m5-4h0m0 6h0m4 0h0m2-6h0m1 3h0m7 4h0m1-6h0m4 1h0m2 0h0m5-2h0m6 1h0m0 5h0m2-2h0m5 3h0m1 0h0m4-5h0m1 0h0m1 1h0m14-1h0m9 3h0m19-3h0m8 3h0m32-5h0m57 7h0m26-7h0m9 5h0m24-1h0m4-4h0m-348 15h0m11-7h0m7 7h0m4-1h0m1 1h0m3-4h0m1-1h0m8 5h0m2-4h0m1-3h0m1 6h0m2 0h0m1-4h0m0 1h0m1 0h0m1 0h0m8-2h0m6 6h0m2-1h0m5-3h0m1 1h0m4 2h0m3-3h0m3-1h0m3 5h0m1-5h0m3 0h0m5 5h0m2-2h0m8 1h0m1-3h0m0 4h0m2 0h0m18-3h0m2 1h0m4-2h0m2 2h0m1-4h0m0 2h0m1-2h0m1 3h0m0 1h0m1-1h0m2 0h0m2-4h0m0 6h0m4-4h0m49-1h0m9 3h0m15 0h0m48 2h0m40-4h0m1 4h0m0 1h0m-324 6h0m48-1h0m2 0h0m1 2h0m5 0h0m2 1h0m0-6h0m1 2h0m0 1h0m2-4h0m5 3h0m0 1h0m1 1h0m9 2h0m0-4h0m4 3h0m0-5h0m2 4h0m7 0h0m1-4h0m5 1h0m1 0h0m3-1h0m1 5h0m8 0h0m5-6h0m2 6h0m10-1h0m4-2h0m1 1h0m4 1h0m1-2h0m3 0h0m11-3h0m4 0h0m4 0h0m25 3h0m2-1h0m26-2h0m1 2h0m10-1h0m5 2h0m28 3h0m11-5h0m1 1h0m12 0h0m43 0h0m33 0h0m-358 6h0m29 4h0m21-4h0m15 6h0m9-5h0m10 3h0m3-4h0m8 7h0m2 0h0m3-5h0m0 5h0m1-3h0m0 3h0m2-4h0m2 0h0m1 4h0m0-1h0m4-1h0m1-4h0m0 3h0m0 2h0m10-4h0m5 0h0m1-1h0m10-1h0m0 1h0m45 5h0m5-2h0m4 3h0m1-7h0m6 3h0m1 0h0m9 1h0m5-3h0m3 6h0m10-1h0m5-3h0m1 1h0m7 0h0m8-2h0m1 0h0m0 5h0m79-3h0m8 3h0m46-4h0m-382 9h0m20 0h0m72-2h0m3 3h0m3-5h0m4 2h0m52 0h0m30 1h0m2 1h0m7-4h0m7 6h0m2 1h0m7 0h0m2-4h0m2 1h0m15 1h0m5-2h0m0 4h0m1-7h0m2 4h0m15-3h0m1 5h0m1-4h0m8 3h0m2 2h0m0-6h0m29 6h0m15-5h0m2 5h0m4 0h0m1-3h0m2-3h0m1 0h0m3 2h0m1 3h0m2 1h0m2-6h0m8 6h0m1 0h0m9-4h0m6 2h0m4-3h0m4 1h0m4-2h0m7 6h0m0-4h0m4 0h0m5 1h0m2 0h0m1 1h0m0 2h0m1-6h0m1 0h0m1 3h0m-387 9h0m25-2h0m39-2h0m6 6h0m31-3h0m89 0h0m15-2h0m1 4h0m9-4h0m13 4h0m1-6h0m6 7h0m1-5h0m0 1h0m3-1h0m3 5h0m11-1h0m4-5h0m0 3h0m14-2h0m2 2h0m9 3h0m0-4h0m2 0h0m10 2h0m1 2h0m7-7h0m2 6h0m1-3h0m4 4h0m5-3h0m4-3h0m4 1h0m2-2h0m0 7h0m3-4h0m6 1h0m4 0h0m1-4h0m3 3h0m6-2h0m1 4h0m2-3h0m1-1h0m0 4h0m3 0h0m4 0h0m11 0h0m2-5h0m3 0h0m4 3h0m0 1h0m0 3h0m3 0h0m1-2h0m1 2h0m3-6h0m3-1h0m-204 15h0m21-7h0m1 1h0m11 1h0m2-2h0m4 1h0m4 4h0m7 0h0m4-5h0m5 7h0m5-3h0m1-1h0m10-2h0m1 1h0m7 1h0m1 2h0m3-5h0m8 6h0m5 1h0m2-7h0m16 7h0m21-3h0m2 0h0m2 1h0m3-5h0m0 2h0m3-1h0m1 0h0m4 1h0m3 2h0m1 1h0m2-3h0m0 1h0m1-2h0m1-1h0m1 0h0m6 1h0m0 2h0m5 2h0m1-2h0m2 3h0m3-4h0m2 3h0m3-1h0m3 3h0m5-5h0m3 5h0m0-5h0m2-2h0m0 2h0m-311 10h0m67 0h0m14 2h0m80-3h0m6 4h0m7 0h0m9-7h0m1 2h0m16 4h0m4-5h0m11 1h0m6-1h0m1 6h0m5-3h0m2-1h0m8 0h0m9 3h0m1-1h0m3-2h0m0 1h0m4 0h0m5 3h0m2-7h0m1 2h0m14 3h0m1-2h0m6-1h0m0 2h0m1-3h0m5 2h0m4-2h0m1-1h0m3 0h0m3 3h0m1-2h0m4 5h0m2-3h0m2-1h0m1-1h0m0 4h0m5 1h0m2-4h0m-351 9h0m58-3h0m46 3h0m20 4h0m3 0h0m86-1h0m0-5h0m9 2h0m3 0h0m1 1h0m10-3h0m4 0h0m15-1h0m0 1h0m1 4h0m18 0h0m7-3h0m2-2h0m0 3h0m12 3h0m2 1h0m1 0h0m2-4h0m5 2h0m1-3h0m2 2h0m0 2h0m2-5h0m0 4h0m2 2h0m5-2h0m5 2h0m1 0h0m7-7h0m2 0h0m5 4h0m1-3h0m2 1h0m1 2h0m0 3h0m2-3h0m4 3h0m2-6h0m1 0h0m-228 11h0m5 0h0m6 3h0m64-7h0m75 0h0m16 0h0m6 3h0m15-3h0m1 1h0m2 2h0m11-1h0m3-2h0m1 1h0m4 3h0m1 0h0m16-3h0m3 2h0m-264 7h0m33 1h0m23 1h0m32 1h0m42-2h0m112-3h0m-71 9h0m-84 8h0" stroke="#0000ff" stroke-width="7.20" stroke-linecap="round"/><path d="M354 1390h0m-16 9h0m4-1h0m2-2h0m0 3h0m3 0h0m3-6h0m1 0h0m1 3h0m1-3h0m1-1h0m-25 12h0m1 0h0m0 1h0m0 2h0m7-2h0m1 1h0m0-1h0m2-1h0m0-1h0m2-1h0m1 5h0m1-1h0m2-5h0m1 1h0m0 1h0m0 2h0m0 2h0m1-2h0m1-2h0m1 1h0m4 3h0m5-7h0m12 7h0m-60 8h0m0-1h0m2-1h0m2 1h0m2 0h0m2-1h0m0-1h0m2-3h0m0 2h0m0 2h0m1-3h0m0 5h0m1-5h0m0 2h0m1 1h0m0 2h0m0-6h0m2 3h0m1 1h0m0-4h0m0 1h0m1 3h0m4-2h0m3 0h0m1-3h0m3 6h0m2-1h0m1 1h0m1-1h0m0 2h0m1 0h0m0-1h0m1-5h0m0 3h0m1 1h0m9-1h0m0 3h0m11-4h0m5 2h0m0-2h0m-72 12h0m0-1h0m2 0h0m1-2h0m0 3h0m2-3h0m2 2h0m0-2h0m1-1h0m1 4h0m1-7h0m1 6h0m1 1h0m0-5h0m2-2h0m2 0h0m0 3h0m4 0h0m0-1h0m3 0h0m7-1h0m0 3h0m3 2h0m2-1h0m1-1h0m0 2h0m0-1h0m1 2h0m0-7h0m0 2h0m1 0h0m1-1h0m1 6h0m2-7h0m0 1h0m1 4h0m1-3h0m0 4h0m7-3h0m4 2h0m10 2h0m1-7h0m4 6h0m7 0h0m-86 5h0m2 2h0m4-3h0m0 5h0m1-5h0m0 3h0m0-4h0m1-1h0m1 4h0m0-3h0m2 6h0m0-7h0m0 4h0m1-2h0m1 5h0m0-7h0m3 1h0m1 1h0m1 0h0m1 4h0m1-3h0m0 2h0m2 1h0m1-1h0m1-2h0m1 3h0m0-1h0m0-5h0m2 2h0m0 1h0m4 2h0m0-1h0m1-2h0m0 2h0m5-3h0m4 0h0m1 1h0m2 2h0m1 1h0m3-1h0m1 3h0m1-7h0m0 7h0m1-3h0m0 2h0m1-4h0m5 3h0m9-3h0m21 4h0m1-5h0m-105 14h0m3-1h0m0 1h0m5-7h0m0 5h0m1 1h0m0-3h0m0 1h0m1-1h0m2 3h0m1-4h0m0 4h0m0 1h0m3-7h0m0 3h0m1-3h0m3 4h0m0-3h0m1 2h0m0 1h0m0 3h0m2-6h0m1-1h0m2 6h0m3 0h0m0-5h0m2 0h0m0 1h0m5 0h0m0 4h0m1-1h0m0 2h0m1-5h0m4 3h0m2 2h0m2-4h0m1 0h0m0 1h0m2-2h0m0 5h0m1-4h0m0 3h0m1-3h0m0 1h0m0 3h0m0-6h0m2 3h0m0 2h0m0-4h0m0 3h0m1-5h0m0 2h0m1 5h0m1-5h0m0 3h0m1 0h0m2-1h0m0 3h0m0-7h0m0 2h0m5 1h0m0 4h0m0-1h0m2-5h0m1 1h0m0 5h0m2-2h0m18-2h0m15 2h0m1-2h0m11 0h0m4 2h0m-125 7h0m2 0h0m0 1h0m1 1h0m1-3h0m1-2h0m0 2h0m3 1h0m2 1h0m0 1h0m0-6h0m2 3h0m2 0h0m2 3h0m1-4h0m2 4h0m1-3h0m2 0h0m2-1h0m0-2h0m3 7h0m0-3h0m0 1h0m4 0h0m2 0h0m1-4h0m1-1h0m2 3h0m0 4h0m2-3h0m1 2h0m3 0h0m1-1h0m0-3h0m1 1h0m2 4h0m2-3h0m1 1h0m1 2h0m1-7h0m0 6h0m1-2h0m0 2h0m1-5h0m1-1h0m0 2h0m1 1h0m1 3h0m0-5h0m1 0h0m1 2h0m1 1h0m0 2h0m1-6h0m3 3h0m1-2h0m5 4h0m2-4h0m3 5h0m6-3h0m1 4h0m5-5h0m2-2h0m5 4h0m9-4h0m15 3h0m4-3h0m1 5h0m3 0h0m4 1h0m7 1h0m-141 1h0m1 6h0m1-1h0m1-5h0m1 4h0m0 1h0m4-5h0m1 6h0m1 0h0m1-2h0m1 2h0m1-1h0m1-1h0m0-1h0m3-3h0m0 7h0m3-2h0m4-2h0m0 2h0m0 2h0m1-4h0m0-1h0m2 2h0m1 2h0m2 0h0m0-1h0m3-5h0m0 5h0m1-5h0m2 6h0m1-5h0m2 5h0m0-6h0m1 1h0m1 3h0m2-1h0m0 2h0m3-5h0m0 3h0m0-1h0m2 3h0m1-3h0m0 2h0m2-4h0m0 2h0m0 2h0m0 1h0m1-5h0m0 5h0m1-1h0m2 1h0m0-3h0m2 5h0m1-6h0m1 0h0m0-1h0m1 3h0m1 2h0m1 1h0m1-2h0m2 2h0m1 1h0m1-2h0m4-1h0m1 3h0m0-7h0m3 7h0m14-4h0m13-1h0m0 4h0m3-6h0m9 7h0m9-6h0m7 1h0m2 4h0m2 0h0m8-1h0m47-2h0m-204 12h0m4 0h0m1-1h0m1-1h0m2-2h0m0 1h0m2 2h0m8-2h0m1-2h0m0-2h0m3 1h0m1 0h0m0 5h0m1 1h0m1-4h0m1 0h0m0 2h0m2 2h0m0-7h0m2 1h0m3 4h0m0-4h0m2 4h0m2 1h0m1 0h0m2-6h0m1 3h0m0 2h0m1-1h0m0 3h0m0-1h0m2-3h0m0 3h0m6-3h0m1 3h0m0-4h0m2 1h0m3 2h0m3-3h0m1 2h0m0 2h0m0-6h0m1 2h0m0 1h0m3-1h0m0-1h0m0 2h0m0 4h0m2 0h0m0-5h0m0-1h0m1-1h0m1 5h0m1 2h0m2-6h0m2 3h0m1 2h0m0-4h0m1-2h0m0 2h0m1 1h0m3 1h0m0 3h0m1-3h0m1-3h0m0 3h0m1 0h0m0 2h0m0-4h0m1-1h0m2 4h0m0-4h0m2 5h0m3-4h0m10-1h0m5-1h0m2 4h0m5 3h0m16-1h0m8-4h0m6 4h0m9 0h0m10 1h0m4-1h0m-173 9h0m3-2h0m1-2h0m1 2h0m0-1h0m3 0h0m1 1h0m1-4h0m1 4h0m0 2h0m1-7h0m0 4h0m1 3h0m2-7h0m0 1h0m2 3h0m0 3h0m2-5h0m0-1h0m1 0h0m1 5h0m1-1h0m0 2h0m1-5h0m3-1h0m0 2h0m4 1h0m1-1h0m1-3h0m0 4h0m1-2h0m2-2h0m1 5h0m0-5h0m2 6h0m0-1h0m1-5h0m1 7h0m0-3h0m1-4h0m1 0h0m1 7h0m1 0h0m0-1h0m2-5h0m1 0h0m1 4h0m1 1h0m1-3h0m0 2h0m1-1h0m1 0h0m0-4h0m7 5h0m2-4h0m1 6h0m2-7h0m0 3h0m1 1h0m1 0h0m0-1h0m0 2h0m0 2h0m1-1h0m1-5h0m1 6h0m1-7h0m2 3h0m0-2h0m1-1h0m0 5h0m1-3h0m1-1h0m0-1h0m0 4h0m2 3h0m0-3h0m0 2h0m1-3h0m3-2h0m0 1h0m0 5h0m2 0h0m4-7h0m1 4h0m0-1h0m1 2h0m2-1h0m3-3h0m18 4h0m2 1h0m4-4h0m1 5h0m5 0h0m2-7h0m2 3h0m8-2h0m3 2h0m3 0h0m7-1h0m1 5h0m2 0h0m3-1h0m0 1h0m1-3h0m11-1h0m2-2h0m2 5h0m4-1h0m30 1h0m-212 8h0m4-3h0m0 3h0m0-4h0m1 0h0m3 3h0m3-1h0m2 3h0m2-2h0m1-1h0m6-2h0m3 3h0m4 0h0m1-5h0m0 3h0m1 1h0m2-3h0m0-1h0m3 3h0m1 4h0m1-5h0m0 3h0m0-5h0m1 3h0m1 3h0m0-1h0m1 0h0m1-2h0m2 0h0m1-3h0m1 6h0m0-4h0m0 3h0m1 0h0m1-3h0m0 5h0m1-1h0m3-5h0m2-1h0m2 2h0m2 4h0m1-1h0m0-3h0m1-2h0m0 2h0m1 4h0m2-2h0m0 2h0m0-1h0m1-2h0m1 4h0m1 0h0m1-1h0m1-4h0m2-2h0m2 2h0m1 3h0m0-1h0m1 2h0m1 1h0m0-4h0m0 2h0m1-1h0m3-4h0m1 1h0m1 5h0m1-2h0m2-3h0m1 3h0m0 2h0m3 0h0m1-5h0m2-1h0m2 4h0m0-4h0m4 6h0m4 0h0m4 0h0m4-3h0m2-3h0m1 3h0m3 4h0m18-6h0m0 6h0m2-3h0m0-4h0m4 5h0m2 0h0m21-4h0m2 4h0m2-1h0m1-1h0m1-2h0m16 0h0m1 3h0m2 0h0m-193 9h0m3 1h0m4-5h0m0 3h0m1 2h0m2-2h0m3 2h0m0-2h0m2 1h0m2 2h0m2-1h0m1-5h0m1 1h0m3 5h0m0-5h0m0 2h0m2 0h0m2-1h0m1 0h0m0 2h0m1-1h0m1-2h0m0 1h0m1-2h0m1-1h0m0 4h0m1-3h0m1 3h0m1 0h0m2 1h0m1-3h0m3 0h0m2 2h0m3 0h0m1 0h0m2-4h0m3 1h0m1 6h0m2-6h0m1 3h0m0 1h0m3 1h0m0-1h0m3-3h0m3 1h0m2-2h0m1 4h0m1 0h0m1 2h0m1-5h0m1 1h0m0 4h0m0-1h0m2-5h0m3 5h0m1-4h0m0 2h0m1-4h0m0 2h0m2 1h0m1-1h0m0 5h0m1-6h0m0 3h0m0-1h0m1-3h0m0 4h0m1 2h0m2-4h0m0-1h0m2 6h0m1-2h0m1-2h0m3 4h0m0-7h0m2 0h0m0 1h0m0 2h0m2-2h0m1 2h0m3 0h0m3-1h0m7 3h0m0-2h0m4 0h0m11-1h0m2 4h0m4-2h0m9-1h0m2 4h0m7-5h0m0 5h0m23-5h0m14 1h0m-195 10h0m2-3h0m2 3h0m5-5h0m0 2h0m1 2h0m1 0h0m1-4h0m0 1h0m3 6h0m1-4h0m3 3h0m2-1h0m3-2h0m0 4h0m1-7h0m0 3h0m1 1h0m0-1h0m3 3h0m0-6h0m1 2h0m0 1h0m0 4h0m2-5h0m2 0h0m2 1h0m3 4h0m2-6h0m1 3h0m3 1h0m0 1h0m2-5h0m1 2h0m1 4h0m2-4h0m2-1h0m0 2h0m0 1h0m1-3h0m3-2h0m1 7h0m1-1h0m0-1h0m2 1h0m3-6h0m1 3h0m1-1h0m2 2h0m1 3h0m1-4h0m3 4h0m2-7h0m1 2h0m1 1h0m1 2h0m0-4h0m0 2h0m1 0h0m0-1h0m1 4h0m1 1h0m2-4h0m2-2h0m0 3h0m0 2h0m1-6h0m0 4h0m1 1h0m5-2h0m2 4h0m1-4h0m2 4h0m0-5h0m3 4h0m1 1h0m3-6h0m24 1h0m16-1h0m1 6h0m8-3h0m3-3h0m4 5h0m12 0h0m17-6h0m2 0h0m8 1h0m16 4h0m77-1h0m-297 9h0m1-2h0m1-1h0m1 5h0m0-4h0m0 2h0m1 2h0m0-4h0m0 3h0m1-6h0m2 1h0m1-1h0m0 7h0m1-1h0m0-1h0m1-1h0m2-3h0m2 5h0m1-5h0m0 3h0m0-1h0m4 2h0m1-3h0m1 4h0m1-6h0m0 5h0m0 2h0m1-7h0m1 5h0m1-1h0m1 2h0m0-6h0m1 4h0m1 3h0m1-4h0m0 2h0m1-3h0m0 5h0m2-5h0m4 2h0m1-4h0m0 1h0m2 1h0m0 3h0m1-5h0m1 7h0m1-6h0m1 4h0m1 0h0m0-5h0m2 3h0m1-3h0m2 4h0m4 0h0m2-1h0m1-2h0m6 0h0m1 4h0m0 2h0m0-1h0m3-4h0m2 1h0m2 1h0m2-2h0m0 4h0m2-2h0m1-1h0m0 2h0m2 2h0m1 0h0m4-6h0m2 6h0m2-7h0m3 1h0m2 2h0m0 1h0m1 3h0m1-5h0m1 5h0m0-6h0m5 2h0m0 1h0m2-1h0m0 1h0m3-1h0m0 3h0m0-6h0m16 6h0m6-3h0m15-2h0m6 3h0m2 1h0m1 1h0m3 1h0m9-3h0m5 0h0m13 2h0m21-2h0m1 0h0m1 3h0m3-6h0m9 5h0m1-5h0m0 2h0m3 3h0m7 1h0m-232 4h0m0 2h0m1 2h0m1-4h0m0 1h0m1 0h0m1 3h0m3-6h0m0 5h0m1-1h0m1 2h0m2-5h0m0 2h0m1 1h0m2 1h0m1-3h0m0-1h0m2-2h0m0 2h0m5 4h0m3-6h0m1 2h0m2 2h0m1 3h0m2-4h0m2-3h0m0 5h0m2-4h0m1 0h0m1 6h0m2-6h0m0 3h0m0 2h0m2-4h0m0 2h0m0 2h0m1-4h0m1 1h0m1 2h0m0-5h0m1 4h0m0-4h0m3 4h0m0 3h0m0-1h0m3 1h0m2-6h0m1 1h0m0 5h0m2-7h0m3 5h0m0-5h0m4 6h0m1 0h0m2 1h0m0-1h0m1 0h0m2-2h0m1-4h0m2 1h0m1 2h0m1 1h0m1-4h0m0 2h0m0-1h0m1 2h0m0 2h0m1 2h0m1-1h0m1-1h0m1-2h0m0-3h0m0 4h0m1-1h0m2 2h0m1-5h0m0 2h0m1 1h0m0 3h0m1-6h0m1 0h0m3 2h0m0 4h0m1 1h0m1-4h0m1-2h0m0 3h0m0 2h0m0 1h0m1-7h0m0 2h0m1 2h0m0-2h0m1 2h0m0-3h0m1 1h0m1 4h0m4-2h0m0 2h0m1-2h0m0 2h0m1-4h0m11 2h0m5-3h0m4 3h0m2 2h0m14 0h0m6-1h0m3-1h0m39 2h0m11-3h0m4-1h0m6 4h0m23-6h0m4 3h0m4 3h0m0 1h0m-248 8h0m0-1h0m1-3h0m0 2h0m1-2h0m2-3h0m1 6h0m1 1h0m0-5h0m0 1h0m1 1h0m2-1h0m0 4h0m2 0h0m1-3h0m0 2h0m0-6h0m0 2h0m1 0h0m0 1h0m2 4h0m2-2h0m1-4h0m1 1h0m2 0h0m1-2h0m1 2h0m0 2h0m1 0h0m0 2h0m1-2h0m0 2h0m1-6h0m0 5h0m2 2h0m0-1h0m2-6h0m3 2h0m1 3h0m0-4h0m5 3h0m0 2h0m1-5h0m2 2h0m0 2h0m0-4h0m2 0h0m2 5h0m2-5h0m5-1h0m0 4h0m0-1h0m1 1h0m2-4h0m0 4h0m2-2h0m2 2h0m0 1h0m1-5h0m2 1h0m0 6h0m7-4h0m2-2h0m0 5h0m1-6h0m0 7h0m1-5h0m2 5h0m2 0h0m1-5h0m1-1h0m0-1h0m1 6h0m0 1h0m0-6h0m0-1h0m1 2h0m0 2h0m1-1h0m2-1h0m0 3h0m1-1h0m2-4h0m2 3h0m0 1h0m1-2h0m1-1h0m0-1h0m0 6h0m1-1h0m1-1h0m0 2h0m0-5h0m1 4h0m2-2h0m1 4h0m0-7h0m2 1h0m2 2h0m2-2h0m0-1h0m0 4h0m1-3h0m4 0h0m0 2h0m1 3h0m1-5h0m6 5h0m5-4h0m2 2h0m1 1h0m3-2h0m3 4h0m8-7h0m11 3h0m1-2h0m0 5h0m7-5h0m1 1h0m1-1h0m1 4h0m2-3h0m2 4h0m13-2h0m3 0h0m3 2h0m1 1h0m1-5h0m13-1h0m13 2h0m19 2h0m12 1h0m15-1h0m1 1h0m-263 5h0m3 2h0m0-2h0m2 3h0m1-2h0m2 0h0m1-2h0m1 3h0m1-3h0m0 1h0m2 2h0m0-5h0m3 6h0m0-6h0m2 1h0m1 4h0m1-5h0m0 5h0m4 0h0m1 2h0m3-1h0m2-2h0m1 3h0m5-3h0m0-2h0m1 3h0m0 2h0m2 0h0m8-4h0m3-3h0m3 0h0m0 4h0m1 0h0m2-3h0m2 0h0m1 2h0m0-1h0m0 4h0m2-1h0m1-3h0m0 3h0m1-3h0m1 3h0m1-5h0m8 7h0m2-6h0m2 1h0m1 1h0m0 1h0m0 2h0m5-5h0m2 5h0m0-3h0m1 1h0m1 3h0m0-7h0m0 4h0m1-2h0m0 2h0m1-4h0m0 2h0m2 0h0m1-2h0m0 1h0m0 4h0m1-1h0m0 2h0m3-3h0m0 4h0m0-6h0m1-1h0m0 2h0m0-1h0m2 3h0m0 2h0m0-5h0m1 5h0m3-3h0m1 3h0m1-1h0m4-5h0m0 5h0m3-2h0m0 4h0m0-1h0m1-1h0m1 2h0m7-1h0m15-6h0m6 1h0m4 3h0m4-4h0m1 1h0m35 2h0m4-3h0m5 6h0m2-6h0m1 5h0m1-2h0m3 0h0m13 3h0m7 1h0m5-3h0m5 1h0m5 1h0m2-4h0m9 5h0m14-3h0m6-3h0m-273 10h0m2-2h0m1 0h0m3 3h0m1 0h0m3 2h0m4 1h0m0-7h0m2 2h0m1 5h0m1 0h0m0-2h0m3 2h0m3-6h0m1-1h0m1 0h0m1 0h0m0 4h0m1-2h0m1 0h0m0-2h0m1 6h0m1-3h0m1 1h0m1 1h0m0-4h0m0 2h0m1 4h0m1-5h0m1 2h0m2-2h0m0 1h0m2 0h0m0 3h0m1-5h0m1 5h0m3-6h0m1 1h0m5 4h0m1-3h0m1 2h0m2-4h0m0 1h0m0 3h0m1-4h0m3 0h0m1 5h0m1-4h0m1 0h0m1 6h0m0-1h0m1-5h0m3 6h0m0-1h0m0-4h0m1 5h0m3-7h0m0 5h0m7-4h0m2 6h0m1-5h0m0-2h0m3 5h0m0-3h0m1-2h0m2 1h0m0 2h0m1 3h0m0-6h0m0 1h0m1 0h0m2 6h0m2-6h0m0 3h0m0-1h0m1-2h0m1 0h0m0 3h0m2-2h0m0 2h0m0 2h0m1-1h0m0 2h0m1-7h0m0 3h0m2 4h0m0-1h0m4 1h0m0-5h0m1-1h0m0-1h0m0 3h0m0 2h0m1-5h0m0 4h0m4-1h0m1-1h0m0 2h0m2-1h0m0 4h0m10-7h0m7 2h0m10 2h0m0 1h0m1-2h0m3-3h0m2 7h0m11-7h0m16 5h0m11-1h0m0 3h0m1-4h0m7-3h0m4 2h0m3 1h0m2 2h0m11-1h0m11 1h0m1-5h0m7 3h0m14 2h0m3-3h0m0 4h0m2-6h0m2 1h0m3-1h0m3 3h0m7-1h0m12 1h0m3 1h0m9-4h0m2 3h0m3 3h0m32-3h0m2-3h0m-335 10h0m2 0h0m1 2h0m1 3h0m0-3h0m1-4h0m2 1h0m2 5h0m1-4h0m2 0h0m4 2h0m0 1h0m0 2h0m1-6h0m0 5h0m8-5h0m5-1h0m1 1h0m0 3h0m1-1h0m3 2h0m1-4h0m0 1h0m2 4h0m3-4h0m1 2h0m1-2h0m0 2h0m1-2h0m0 2h0m1-2h0m1 5h0m2-2h0m0-3h0m1 2h0m1-2h0m1 0h0m1-1h0m1 1h0m1 2h0m0 1h0m2-4h0m3 5h0m1-1h0m2-2h0m2 2h0m0-1h0m1 2h0m2-5h0m1 4h0m1-1h0m0-1h0m1-1h0m1-2h0m0 5h0m2 1h0m3 0h0m1-3h0m0 3h0m0 1h0m1-7h0m0 1h0m3-1h0m1 4h0m1 2h0m1-2h0m0 1h0m0-5h0m0 2h0m1 4h0m0 1h0m1-2h0m1-1h0m0 1h0m2-1h0m1-3h0m3 6h0m1-1h0m1-3h0m1-2h0m0 4h0m0-1h0m2 3h0m1-1h0m0-6h0m1 3h0m1 4h0m0-6h0m0-1h0m1 7h0m2-4h0m4-2h0m2 2h0m2-1h0m1 5h0m1-1h0m1-2h0m0-4h0m0 3h0m3 3h0m0-6h0m0 3h0m1-2h0m4 0h0m8 0h0m4 5h0m1 0h0m2-2h0m5-2h0m16 1h0m1 0h0m5 1h0m10-1h0m3 0h0m2 1h0m1 0h0m3-3h0m8-1h0m13 5h0m0 2h0m4-1h0m5-5h0m7 0h0m9-1h0m12 6h0m3-2h0m8-2h0m4 1h0m3 1h0m11 0h0m9 1h0m7-4h0m9 3h0m3-3h0m-301 7h0m1 3h0m1-2h0m2 3h0m0 2h0m1 1h0m2-1h0m0-1h0m1-4h0m1 6h0m1-4h0m0 3h0m0 1h0m1-1h0m3-6h0m3 3h0m2 1h0m2 0h0m0 1h0m2-1h0m5 1h0m1-5h0m1 7h0m1-1h0m1-6h0m0 3h0m2 4h0m0-5h0m1 0h0m2-1h0m1 4h0m0 1h0m2-6h0m1 6h0m2 0h0m2-2h0m2-4h0m1 7h0m1-2h0m1-5h0m0 5h0m4-4h0m0 1h0m1 0h0m1-1h0m2 6h0m3-4h0m1-1h0m2 5h0m0-6h0m1 4h0m0 2h0m2-3h0m1 3h0m0-5h0m2 4h0m2-5h0m0 3h0m1-1h0m1 3h0m1-6h0m4 5h0m1-1h0m2 0h0m0-2h0m2 4h0m0-4h0m1 0h0m0 5h0m1-4h0m1 3h0m0-1h0m1-1h0m0 3h0m1-2h0m2-2h0m1-2h0m2 4h0m1 2h0m0-7h0m0 2h0m1 0h0m1-1h0m1 0h0m1 2h0m0 4h0m1 0h0m2-6h0m0 6h0m0-1h0m1-5h0m1 5h0m1-4h0m1 3h0m1 1h0m3-4h0m8 4h0m1-6h0m2 6h0m1-3h0m4-2h0m3 5h0m1-1h0m1 2h0m1-7h0m6 3h0m4 1h0m1 3h0m3 0h0m2-3h0m3 1h0m1-5h0m12 6h0m1-2h0m2-2h0m0-1h0m5 0h0m8-1h0m2 4h0m1-1h0m4 1h0m3-4h0m4 3h0m10 0h0m3 3h0m10 1h0m11-4h0m1 1h0m4 3h0m6-6h0m6 1h0m2 3h0m10 2h0m5-4h0m17 1h0m5 2h0m2-4h0m17 2h0m5-4h0m60 0h0m-376 10h0m1 3h0m0 1h0m1-1h0m0 1h0m0-6h0m1 6h0m1-6h0m1 4h0m1 1h0m0 2h0m4-7h0m2 0h0m1 1h0m3 6h0m2-7h0m2 3h0m1 3h0m0-1h0m2 1h0m1-2h0m2 2h0m4-5h0m0-1h0m3 3h0m1-1h0m1 1h0m0-1h0m1 0h0m1 3h0m2-1h0m3 1h0m1-3h0m1 2h0m3 0h0m0-1h0m4 3h0m0-2h0m3-3h0m1 5h0m1-3h0m0 3h0m3 1h0m0-1h0m0-1h0m1 0h0m0-5h0m6 3h0m0 3h0m0-4h0m1-1h0m3-1h0m2 2h0m0 1h0m1-1h0m0 1h0m3-1h0m0 4h0m1 1h0m2-2h0m0-3h0m1 3h0m2-1h0m2-2h0m0 2h0m1 0h0m0 3h0m1 0h0m0-7h0m0 5h0m3-1h0m0 1h0m1-4h0m2 6h0m0-7h0m0 3h0m3-1h0m0 3h0m1-1h0m0 2h0m1-2h0m2-3h0m1 3h0m0 2h0m1 0h0m2-5h0m0 3h0m0-1h0m1-1h0m1 2h0m0 1h0m1-4h0m2 3h0m1 3h0m1-3h0m0-3h0m4 6h0m1 0h0m1-7h0m1 6h0m0 1h0m2 0h0m0-4h0m2 1h0m1 3h0m3-4h0m11-1h0m0 2h0m1 0h0m1-3h0m16 5h0m2 1h0m0-2h0m1-5h0m6 6h0m0 1h0m6-1h0m2 1h0m3-6h0m3 5h0m1 0h0m0 1h0m17-3h0m8 3h0m8-7h0m0 6h0m1-3h0m0 2h0m8 2h0m3-2h0m6-2h0m3 0h0m13 1h0m1 2h0m2 1h0m10-5h0m41-2h0m8 4h0m2 0h0m-313 10h0m0-1h0m0-1h0m2 0h0m1-3h0m1 4h0m1-1h0m1 1h0m0-3h0m0 4h0m3-5h0m5 6h0m1-6h0m2 4h0m2-2h0m1 2h0m1 1h0m1-6h0m1 4h0m0 2h0m2 1h0m2-5h0m0 2h0m2 2h0m3-2h0m1-1h0m1-1h0m1 3h0m1-4h0m0-1h0m0 2h0m2 3h0m1 2h0m2-3h0m1-3h0m0-1h0m2 5h0m1-5h0m2 1h0m0 4h0m1-5h0m2 0h0m2 2h0m0 1h0m2 1h0m3 0h0m0 3h0m1-4h0m3 2h0m2-3h0m1 2h0m0-4h0m1 4h0m0-3h0m1 4h0m2-1h0m3 0h0m1-1h0m1 0h0m1 1h0m0 3h0m1-1h0m1-5h0m0 1h0m1 3h0m1 0h0m0-2h0m2-2h0m1 4h0m0 2h0m0-6h0m1 1h0m0 2h0m0-3h0m2 1h0m2 5h0m1-2h0m1-4h0m0 5h0m1 0h0m0-6h0m1 6h0m1-3h0m1 3h0m0-4h0m0 2h0m1-4h0m0 5h0m1 1h0m2-4h0m1 4h0m0-5h0m0 2h0m2 0h0m1 3h0m0 1h0m0-3h0m1 1h0m0-1h0m1 0h0m2-1h0m0 2h0m1 0h0m0-1h0m3-4h0m1 6h0m1-5h0m2-1h0m2 0h0m4 2h0m1 4h0m1 1h0m1-7h0m0 5h0m1 2h0m2-7h0m16 4h0m1-3h0m6-1h0m2 3h0m0 3h0m2-2h0m15-2h0m2 3h0m0 2h0m3-6h0m0 4h0m2-2h0m13 1h0m3 1h0m6 0h0m2-4h0m7 0h0m7 3h0m15 0h0m1-4h0m4 7h0m35-3h0m33-2h0m9-2h0m44 1h0m4 6h0m-360 8h0m3-7h0m1 0h0m2 4h0m0 2h0m1-3h0m3-3h0m1 6h0m0-5h0m1 5h0m1-2h0m0 2h0m1 0h0m1-6h0m2 6h0m0-4h0m2 3h0m1 1h0m1-1h0m1-5h0m0 1h0m0 4h0m0-1h0m1 3h0m1-7h0m1 1h0m1 1h0m0 2h0m2-1h0m0 3h0m1 1h0m2-3h0m0-4h0m1 5h0m1-3h0m4-2h0m0 7h0m3-5h0m4 4h0m2-6h0m0 3h0m0 3h0m4-6h0m0 1h0m2 1h0m4 3h0m1-2h0m3 2h0m3-3h0m0 1h0m1 3h0m2 0h0m2-5h0m0 6h0m1-7h0m0 1h0m1-1h0m0 1h0m2 5h0m1-2h0m1-1h0m3-3h0m0 6h0m1-2h0m1-3h0m1-1h0m3 3h0m2-1h0m0 3h0m2 2h0m1-1h0m0-6h0m0 2h0m0 3h0m1-5h0m1 6h0m2-6h0m0 4h0m0 1h0m0 2h0m0-1h0m1 1h0m2-6h0m0 1h0m1-1h0m0 3h0m1-3h0m1 1h0m0 1h0m0 4h0m0-7h0m2 5h0m0-5h0m1 6h0m0-5h0m2 5h0m2-1h0m0-3h0m0 1h0m2-3h0m0 2h0m3 1h0m2 3h0m1-1h0m4 2h0m3-7h0m0 5h0m1 2h0m1-2h0m0-5h0m0 3h0m1-3h0m1 3h0m2 4h0m11-6h0m17 3h0m1 1h0m0-2h0m3 2h0m7-1h0m2-1h0m4 0h0m1-1h0m7 1h0m4 4h0m1-5h0m2 2h0m7 1h0m4 0h0m10 0h0m4 2h0m23-7h0m3 4h0m8-4h0m18 2h0m5 5h0m14-4h0m1-2h0m9 1h0m7-1h0m-301 7h0m2 4h0m2 2h0m3-2h0m2 1h0m1-4h0m3 2h0m1 0h0m1-1h0m0 4h0m1 1h0m1-3h0m1-2h0m3 2h0m1-1h0m0 2h0m1-3h0m0 3h0m0 2h0m1-2h0m2 1h0m1 1h0m1-5h0m4-1h0m2 6h0m1-7h0m3 6h0m3-5h0m0 1h0m1 0h0m0 4h0m1-5h0m1 5h0m5 1h0m2-4h0m0 3h0m1-4h0m3 1h0m1 1h0m2 1h0m3-1h0m0-3h0m1 5h0m0-6h0m1 5h0m0-3h0m2 0h0m1 4h0m2-1h0m1 0h0m0-3h0m1 5h0m3-7h0m0 3h0m0 3h0m2-2h0m2 0h0m0-2h0m3 2h0m1 3h0m1-7h0m1 0h0m1 4h0m0-1h0m0 2h0m0 2h0m1-7h0m0 5h0m1-5h0m0 2h0m0 2h0m1-1h0m0 3h0m3-5h0m0 4h0m1-2h0m0 1h0m0 2h0m1-5h0m2-1h0m1 2h0m3 2h0m3-4h0m0 5h0m2 1h0m2-4h0m0 2h0m2-3h0m0 2h0m0 1h0m1 2h0m2-5h0m5 5h0m1-2h0m1-2h0m1 4h0m2 0h0m0-1h0m4-5h0m3 0h0m2 5h0m7-2h0m3 3h0m1-5h0m3-1h0m2 3h0m2-1h0m2 5h0m3-7h0m1 1h0m2 4h0m8-2h0m5-1h0m1 4h0m10-3h0m7-3h0m15 0h0m22 6h0m4-3h0m1 2h0m6-5h0m2 4h0m31-1h0m-271 11h0m2-3h0m1-1h0m1 0h0m0 3h0m1-1h0m3 0h0m0 3h0m2-7h0m1 2h0m0 5h0m1-2h0m0 2h0m2-6h0m0-1h0m2 5h0m1-3h0m1 0h0m2-2h0m0 3h0m0 2h0m2-4h0m3 5h0m2 1h0m0-6h0m0-1h0m1 3h0m0-1h0m0 5h0m2-7h0m0 3h0m1 2h0m1 0h0m0-5h0m1 1h0m1-1h0m0 2h0m1 1h0m1 1h0m1-3h0m0-1h0m3 0h0m1 3h0m2 4h0m0-3h0m3-2h0m1 5h0m2-3h0m4 3h0m2-5h0m2 2h0m4 0h0m1-3h0m2 3h0m2-2h0m3 1h0m1 2h0m2-1h0m2-2h0m2 0h0m3-1h0m0-1h0m1 6h0m1-3h0m0-1h0m0 3h0m1 1h0m0-5h0m0 4h0m1 2h0m4-7h0m2 5h0m1-3h0m1 1h0m0 2h0m0 1h0m2-1h0m1 1h0m2 0h0m0-3h0m1 3h0m0-3h0m1 1h0m0-1h0m1 4h0m1-4h0m1 0h0m1-3h0m0 3h0m1 3h0m1-6h0m0 3h0m1-3h0m0 4h0m1-4h0m0 3h0m4 0h0m8-1h0m1 5h0m5 0h0m2-1h0m2-2h0m2 2h0m3-1h0m3 0h0m13 2h0m0-6h0m1 6h0m1-7h0m3 0h0m7 2h0m4-1h0m2-1h0m0 1h0m17 1h0m21 3h0m7-5h0m10 0h0m1 7h0m7-6h0m3-1h0m3 5h0m2 1h0m14-4h0m-254 11h0m1-3h0m0 4h0m2-4h0m2 4h0m3 1h0m0-1h0m1-3h0m0-3h0m2 5h0m0-2h0m1 4h0m3-2h0m1 2h0m2-7h0m0 5h0m4-3h0m1 3h0m1-3h0m0 4h0m0-6h0m3 5h0m1-2h0m0 1h0m0-4h0m1 0h0m4 3h0m0 2h0m1-3h0m0-1h0m2 3h0m1-1h0m0 2h0m2-2h0m4 2h0m1-2h0m2 1h0m2-4h0m1 6h0m1-6h0m1 6h0m0-5h0m2-1h0m1 3h0m2-1h0m1 4h0m0-3h0m1 2h0m4-1h0m2-3h0m1-1h0m1 4h0m1 0h0m1-3h0m1-1h0m1 2h0m1 3h0m1-4h0m2 4h0m5-5h0m1 5h0m0-1h0m1 2h0m0-3h0m0 4h0m1-6h0m0 4h0m1-4h0m0 3h0m1-1h0m1-3h0m0 2h0m0-1h0m1-1h0m0 2h0m1 3h0m1 0h0m1-3h0m0 3h0m1-5h0m0 2h0m0 1h0m1-3h0m1 0h0m1 5h0m0 2h0m0-7h0m4 6h0m1 1h0m1-6h0m1 3h0m2-1h0m2 2h0m1-5h0m1 2h0m0 4h0m0-1h0m2-4h0m1 1h0m0 2h0m1-1h0m0 2h0m0-1h0m3 3h0m2-6h0m1 2h0m2-3h0m0 5h0m2-1h0m4-3h0m3 2h0m0 4h0m5 0h0m0-6h0m6 5h0m6-5h0m1 3h0m14-3h0m16 5h0m6-3h0m8 0h0m4-3h0m17 0h0m4 2h0m1 1h0m11-2h0m0 2h0m-228 9h0m0 3h0m1-5h0m1 0h0m1-2h0m0 1h0m3-1h0m0 3h0m1 0h0m2 1h0m0-1h0m0 2h0m0 2h0m1-4h0m0 3h0m1-2h0m0 1h0m1-4h0m7 2h0m0 4h0m1-5h0m0 1h0m1-2h0m1 2h0m0 4h0m0-1h0m2-1h0m3-1h0m2 3h0m1-4h0m5 4h0m2-2h0m2 2h0m1-7h0m1 4h0m1 0h0m0 2h0m0-6h0m1 7h0m0-5h0m2 1h0m0 3h0m1 1h0m1-2h0m2 0h0m0 2h0m0-5h0m1 2h0m2-2h0m0-1h0m2 0h0m0 6h0m3-4h0m1 3h0m0 1h0m1 0h0m1-2h0m1-3h0m1 4h0m3-6h0m2 2h0m2-2h0m0 7h0m1-3h0m1 1h0m2-1h0m1 2h0m2-5h0m1 3h0m2 0h0m2-4h0m0 2h0m0 2h0m0 2h0m0-1h0m1-5h0m0 4h0m1 1h0m0 2h0m1-2h0m1-1h0m1-3h0m0-1h0m0 3h0m1 2h0m1-3h0m1 4h0m1 1h0m1-5h0m0 4h0m2-1h0m0-5h0m0 4h0m1 2h0m3-4h0m0 2h0m1-1h0m1-3h0m0 5h0m1-5h0m0 2h0m1 2h0m1-4h0m0 4h0m1 1h0m1 0h0m0-5h0m1 7h0m1-4h0m5-3h0m0 3h0m2 2h0m1-2h0m2-1h0m1 2h0m0 3h0m8-2h0m1-3h0m12-2h0m4 2h0m14 3h0m12 0h0m3-5h0m5 4h0m6-1h0m2 1h0m-188 10h0m1 0h0m2-1h0m2-1h0m1-3h0m0-1h0m6 5h0m0-4h0m0 3h0m2-3h0m0 2h0m1-2h0m0 3h0m1-1h0m0 3h0m1-2h0m3-1h0m0 1h0m3 0h0m2-2h0m1 1h0m3 4h0m2-3h0m3 1h0m3-1h0m0-3h0m1 6h0m1-4h0m1 0h0m1 2h0m1-4h0m1 6h0m2-3h0m1 0h0m0 2h0m0-4h0m1 0h0m3 4h0m1-4h0m0 3h0m1 2h0m2 0h0m1-5h0m3 0h0m2-2h0m4 0h0m0 3h0m4-1h0m0-2h0m2 2h0m2-1h0m1 2h0m1 1h0m1-3h0m0 2h0m2 3h0m1 0h0m3-3h0m0 2h0m0 2h0m1 0h0m1-3h0m1-3h0m1 4h0m0-1h0m0-4h0m1 2h0m0 3h0m0-1h0m2-3h0m2 2h0m0 1h0m0-2h0m1 3h0m0 1h0m1-3h0m0 1h0m1 0h0m1-3h0m0 2h0m1-3h0m1 4h0m1-4h0m0 1h0m2 6h0m1 0h0m1-2h0m0-1h0m1 2h0m1-2h0m1-2h0m2 0h0m2 1h0m2 2h0m3-1h0m1-4h0m1 5h0m1-3h0m1 0h0m11 1h0m2-1h0m19 0h0m4 1h0m3 4h0m39-3h0m-194 7h0m0 2h0m1 2h0m1 0h0m0-1h0m1-6h0m1 1h0m0 2h0m1-3h0m1 7h0m2-7h0m1 0h0m0 2h0m0 2h0m0 1h0m3-2h0m1 3h0m1 0h0m2-6h0m1 0h0m1 5h0m1-5h0m3 3h0m3-1h0m0 3h0m1 2h0m1-6h0m2 6h0m1-7h0m0 7h0m1 0h0m1-4h0m0 2h0m0 2h0m1-5h0m0-1h0m0 5h0m1-4h0m1-1h0m0 4h0m1-1h0m2 1h0m1-5h0m0 2h0m1 4h0m0-2h0m4 3h0m0-1h0m1-6h0m0 7h0m2-2h0m1 0h0m0-5h0m0 2h0m1 2h0m1-2h0m2 4h0m3 1h0m1-3h0m3-2h0m0 2h0m2-4h0m0 3h0m1 0h0m2-3h0m0 2h0m3 5h0m0-5h0m1 5h0m1 0h0m1-7h0m2 5h0m4 0h0m0-1h0m0-1h0m2-2h0m1 0h0m1 0h0m1 0h0m0-1h0m1 1h0m1 1h0m0-1h0m0 6h0m2 0h0m1-7h0m0 4h0m1-1h0m1 0h0m1-2h0m0-1h0m2 0h0m0 5h0m1-5h0m0 1h0m0 3h0m1 2h0m1-5h0m0 4h0m1-4h0m0 2h0m0 2h0m0-3h0m1 4h0m1-5h0m1 4h0m0-5h0m1 2h0m0 3h0m1 1h0m0-4h0m0-1h0m1 1h0m0 2h0m3 3h0m1-4h0m2-2h0m2 6h0m3-5h0m1 1h0m7 2h0m4-2h0m14-2h0m5 6h0m-143 7h0m3-2h0m2-3h0m2 4h0m2 0h0m1 0h0m1 1h0m1-2h0m1-3h0m1 5h0m0-5h0m2 0h0m1 0h0m3 3h0m2-3h0m0 1h0m1 0h0m0 4h0m2-3h0m2-1h0m0 4h0m1-6h0m0 5h0m0-4h0m2 2h0m1 1h0m0-3h0m1-1h0m2 5h0m1 1h0m0-2h0m3-4h0m1 3h0m0 1h0m1-4h0m0 2h0m3 4h0m1 1h0m1-7h0m0 4h0m0 3h0m2-4h0m0-2h0m3 2h0m3 0h0m3 0h0m1-3h0m1 6h0m1-4h0m0 3h0m1 2h0m4-4h0m1 2h0m1-5h0m0 3h0m1 4h0m0-7h0m0 4h0m1 1h0m2 0h0m2-4h0m0 4h0m1-3h0m0 4h0m1 0h0m1-3h0m2-3h0m0 2h0m0 3h0m1 0h0m1 0h0m2-3h0m4 5h0m0-5h0m1 4h0m1 1h0m1 0h0m1-2h0m1-2h0m0-1h0m0 3h0m1-1h0m2 3h0m1-6h0m1 0h0m0 3h0m1 1h0m2-4h0m0 2h0m1-3h0m1 1h0m3 6h0m1-1h0m2 0h0m1-2h0m7-1h0m0 2h0m6-1h0m3-1h0m6-2h0m1 2h0m9 4h0m-140 4h0m2 4h0m2 0h0m2-6h0m4 0h0m0 4h0m0 1h0m1-3h0m1-2h0m1 6h0m1-3h0m0 2h0m2-6h0m0 5h0m1 0h0m2-4h0m1 4h0m1-3h0m0 3h0m1-4h0m0 5h0m1-1h0m0-5h0m1 7h0m0-7h0m1 1h0m0 4h0m1-2h0m1-2h0m1 3h0m2-2h0m0 3h0m1-5h0m1 3h0m2 1h0m10-4h0m1 4h0m0-3h0m3 3h0m0-1h0m1 0h0m1 4h0m1-1h0m1-4h0m1 3h0m1-3h0m2-1h0m1 0h0m3 0h0m0 2h0m2 4h0m1-6h0m1 5h0m1 0h0m2-2h0m1 1h0m1-2h0m0 3h0m1-5h0m1 1h0m0 3h0m1-2h0m1 4h0m1-2h0m1-2h0m1 1h0m0-4h0m3 4h0m0-4h0m3 2h0m1-1h0m0 2h0m1 4h0m2-1h0m0-4h0m0 2h0m0 1h0m1-4h0m0 3h0m0 2h0m1-3h0m1-2h0m0 6h0m0-5h0m1 0h0m0-1h0m0 3h0m1-1h0m0 2h0m2-4h0m1 3h0m1-4h0m1 2h0m1 5h0m1 0h0m3-4h0m1-2h0m0 4h0m0 1h0m1-2h0m3 3h0m1-7h0m6 6h0m11-5h0m10-1h0m-134 13h0m1-1h0m0 2h0m1-6h0m2 6h0m0-4h0m1 1h0m1-1h0m2 2h0m0-4h0m2 5h0m0 2h0m1-4h0m1-2h0m0 6h0m1-1h0m1-5h0m1 6h0m2-1h0m3 1h0m1-3h0m3 3h0m0-6h0m1 6h0m1-5h0m3 3h0m4-5h0m0 4h0m0-1h0m1 2h0m1-3h0m0-1h0m0 6h0m1-7h0m0 4h0m5 1h0m1-5h0m0 7h0m1-5h0m1 1h0m1 0h0m1-1h0m1 4h0m2-6h0m1 3h0m2 2h0m1-4h0m1 0h0m2 1h0m1 2h0m2-3h0m2-1h0m0 3h0m4 4h0m1-3h0m0 2h0m1-6h0m2 2h0m0 5h0m1-2h0m0-5h0m1 4h0m0-4h0m2 2h0m1 4h0m2-2h0m0 2h0m2-4h0m2-2h0m0 1h0m0 6h0m1-1h0m1-2h0m1-4h0m1 2h0m2 4h0m0-1h0m1-1h0m1-4h0m2 0h0m2 2h0m0 3h0m4-2h0m1 0h0m23-2h0m1 2h0m-122 8h0m3-2h0m0-1h0m2 1h0m0 3h0m1-3h0m2 6h0m0-4h0m1 2h0m0 2h0m0-3h0m0 2h0m2-3h0m2 2h0m0 2h0m1-1h0m0 1h0m1-3h0m1-1h0m1 0h0m4-1h0m0 2h0m3 2h0m1-2h0m1 1h0m2 2h0m0-6h0m1 0h0m0 2h0m0 3h0m0-1h0m1-4h0m0 4h0m0 2h0m1-7h0m0 2h0m1 1h0m1-2h0m0-1h0m0 5h0m1-1h0m0 3h0m1-4h0m1-2h0m0 4h0m1-5h0m2 1h0m0 1h0m0 4h0m1-2h0m2 3h0m1-1h0m2-4h0m1 1h0m2 2h0m4-1h0m1 1h0m0 1h0m1-4h0m0 2h0m0-4h0m1 3h0m4-3h0m2 3h0m1-3h0m1 2h0m0 5h0m1-3h0m0 1h0m0-5h0m1 1h0m0 4h0m3-3h0m0-1h0m1 6h0m1-2h0m0-1h0m1-3h0m0 1h0m1 5h0m0-4h0m0-1h0m1-1h0m0-1h0m0 2h0m0 2h0m1 2h0m2-5h0m0 4h0m1 0h0m1-3h0m1 0h0m0 4h0m0-6h0m1 6h0m1 0h0m1-5h0m0 1h0m0 4h0m1-6h0m1 5h0m1-1h0m1 0h0m2 3h0m0-6h0m0 3h0m1 1h0m1-2h0m0-1h0m0 3h0m1-4h0m4 5h0m1-4h0m1 4h0m2-5h0m1 0h0m-100 8h0m0 5h0m1 1h0m2-6h0m6 4h0m6-1h0m1-2h0m4-2h0m0 3h0m0 1h0m3-3h0m1 1h0m0-1h0m3 5h0m0-5h0m4 5h0m0-6h0m1 4h0m1 0h0m0-1h0m1 4h0m0-3h0m1 0h0m1 2h0m0-3h0m1 2h0m1-5h0m0 5h0m1-3h0m0 3h0m1 2h0m2-5h0m1 3h0m2-2h0m0-3h0m0 1h0m1 5h0m3 0h0m3-6h0m0 5h0m1-1h0m1 3h0m0-2h0m1-5h0m0 1h0m2 4h0m1-3h0m3 2h0m1-3h0m1 6h0m0-7h0m1 4h0m0 2h0m3-2h0m1-2h0m0-1h0m1 3h0m1 1h0m1-4h0m0 5h0m1-2h0m1-3h0m1 2h0m0 2h0m0 2h0m1-2h0m2-3h0m2-2h0m1 0h0m1 6h0m0-4h0m1 4h0m0-6h0m1 0h0m0 1h0m0 2h0m1 4h0m0-5h0m1-1h0m2 3h0m1 1h0m1 2h0m2-3h0m0-1h0m1-3h0m3 4h0m0-4h0m0 2h0m0-1h0m-95 9h0m2-2h0m0 1h0m1 2h0m2-2h0m2 5h0m0-1h0m1-4h0m2 3h0m1-3h0m1 3h0m1 1h0m0-3h0m1-2h0m0 2h0m1-1h0m0 1h0m1-1h0m0 3h0m0 2h0m1-2h0m1 3h0m1 0h0m2-7h0m2 2h0m0-1h0m0 2h0m2 2h0m1-2h0m1-3h0m0 3h0m2 4h0m0-3h0m0-1h0m1-1h0m2 0h0m2-2h0m0 1h0m2 1h0m1 1h0m0 3h0m1 0h0m0-4h0m1 5h0m3-1h0m0 1h0m1-5h0m0-1h0m0 3h0m1-3h0m0 2h0m2-2h0m0 1h0m3 5h0m0-6h0m2 0h0m0 3h0m1-2h0m3 1h0m1 1h0m0-1h0m1 1h0m0 1h0m1 0h0m0 2h0m1-3h0m0 2h0m1-3h0m0-2h0m1 1h0m0 5h0m1-1h0m1 0h0m0-6h0m2 7h0m0-1h0m1-6h0m1 3h0m0 4h0m4-5h0m0 5h0m1-1h0m1-6h0m3 6h0m0-1h0m1-3h0m0 2h0m1 2h0m1 1h0m0-7h0m0 2h0m0 2h0m1 0h0m0 2h0m1-3h0m2 1h0m4-4h0m1 0h0m1 3h0m-85 6h0m0-1h0m0 6h0m1-4h0m3-2h0m1 3h0m2-2h0m0 4h0m1-1h0m2-3h0m1 2h0m2 3h0m0-5h0m1-1h0m1 2h0m0-2h0m1 2h0m1 4h0m0 1h0m1-7h0m1 4h0m0-4h0m1 6h0m0-5h0m0 2h0m1 4h0m2-4h0m1 1h0m1 1h0m0-1h0m1-4h0m2 5h0m0-1h0m4 3h0m1-4h0m1-3h0m3 3h0m1 3h0m1-3h0m1 1h0m0 2h0m7-5h0m1 0h0m1 2h0m0 2h0m0 2h0m0-6h0m1 0h0m0 3h0m1 0h0m2-2h0m1 5h0m1-5h0m0 2h0m1 2h0m1 0h0m3-6h0m1 4h0m1-1h0m1 0h0m0-3h0m1 4h0m0 2h0m1-1h0m1-1h0m1 2h0m0 1h0m0-7h0m0 2h0m1 3h0m0-4h0m2 0h0m1 4h0m0-5h0m2 4h0m4-1h0m0-1h0m0 5h0m2-1h0m2-4h0m0 2h0m2-2h0m0-1h0m-82 8h0m2 0h0m0 4h0m2-2h0m0 2h0m1-5h0m2 5h0m4-1h0m0 2h0m2-3h0m1 4h0m0-1h0m0-3h0m1 3h0m2-2h0m1-3h0m1 4h0m1-3h0m0-1h0m1 0h0m2 1h0m0 3h0m0 2h0m3-2h0m2-4h0m0 3h0m1-2h0m1 2h0m1-3h0m1 4h0m0 2h0m0-1h0m0-4h0m0 2h0m1-1h0m0 2h0m1-4h0m0 4h0m2-3h0m2-1h0m1 0h0m1 5h0m3-6h0m1 3h0m1 3h0m1 1h0m0-5h0m1 4h0m1-5h0m2 2h0m0 4h0m1-7h0m0 1h0m1 1h0m0 1h0m1-1h0m0-1h0m0 2h0m0 4h0m1-4h0m1-3h0m0 5h0m0 1h0m1-6h0m2 0h0m0 4h0m2-4h0m2 6h0m2 1h0m1-2h0m0-3h0m1 1h0m1-2h0m0 3h0m0 1h0m2-3h0m0 4h0m1-1h0m1 0h0m1-2h0m1-1h0m3 0h0m-74 8h0m0 1h0m0 2h0m0-4h0m1 1h0m0 4h0m1-4h0m0 3h0m1-4h0m2 2h0m1 1h0m1 3h0m0-7h0m1 4h0m2 0h0m1 3h0m1-1h0m0 1h0m2-2h0m0 1h0m1-2h0m0 3h0m1-4h0m3 4h0m1-4h0m0 4h0m0-6h0m2 4h0m3-1h0m2 2h0m1-2h0m1-4h0m0 5h0m1-4h0m3 3h0m2-3h0m1 4h0m4-2h0m1-2h0m0 3h0m1 2h0m2-1h0m0 2h0m0-1h0m1-5h0m0 2h0m1 4h0m1-5h0m1-2h0m2 4h0m0 2h0m2 1h0m1-7h0m2 3h0m2 2h0m1-2h0m1 4h0m1-4h0m1-2h0m1 2h0m1 0h0m0 2h0m1 0h0m1-4h0m1 0h0m0 4h0m2-5h0m0 5h0m1-1h0m0-2h0m2-1h0m0 4h0m-67 3h0m0 1h0m2-1h0m0 1h0m0 4h0m0-1h0m1-4h0m4 0h0m0 1h0m0 6h0m2-7h0m1 5h0m0-1h0m1-4h0m3 2h0m2 0h0m1-2h0m1 2h0m2 1h0m2-1h0m2 3h0m0 2h0m0-1h0m1-4h0m0 4h0m3-2h0m1-4h0m1 0h0m1 2h0m1 0h0m2-1h0m1 0h0m0 4h0m0 2h0m1-4h0m2 3h0m3 1h0m3-4h0m0 1h0m0-4h0m0 1h0m2 0h0m1 4h0m2-4h0m1 6h0m0-5h0m1-2h0m0 2h0m0 5h0m1-4h0m1-3h0m1 5h0m1-5h0m1 3h0m0 3h0m1-6h0m1 1h0m0 5h0m1-6h0m0 4h0m0 2h0m1-3h0m0 4h0m2 0h0m-59 5h0m2-2h0m0 2h0m0-1h0m1-1h0m2 2h0m1 3h0m0-7h0m1 3h0m1 1h0m1-3h0m1 6h0m0-7h0m0 3h0m1 2h0m1-4h0m0 3h0m1-4h0m1 6h0m2-6h0m2 4h0m0-1h0m0 4h0m5-5h0m0-1h0m1 1h0m0 3h0m2-2h0m0 3h0m1-4h0m2 4h0m1 1h0m0-6h0m0 5h0m2-5h0m0 2h0m3-2h0m4 2h0m0 3h0m0 1h0m1 0h0m2-2h0m0-1h0m1-4h0m0 1h0m2 3h0m1-2h0m0 3h0m2-5h0m1 0h0m0 4h0m1-1h0m0 3h0m0-6h0m0 2h0m1 3h0m1 2h0m1-5h0m0-1h0m0 2h0m0-3h0m1 3h0m1-2h0m-54 7h0m2 2h0m1-2h0m5 1h0m0 5h0m2-2h0m2 2h0m0-5h0m1 1h0m3 4h0m2 1h0m3-2h0m1-5h0m1 3h0m1 3h0m4-1h0m0 2h0m2 0h0m3-2h0m0 2h0m2-6h0m1 3h0m2 2h0m0-3h0m2 1h0m0 3h0m2-1h0m4 0h0m1-3h0m0 4h0m1-3h0m1-4h0m1 3h0m1-1h0m2 2h0m0-4h0m0 2h0m-45 8h0m2 3h0m1-5h0m1 1h0m0 2h0m1-2h0m1 6h0m0-4h0m1-1h0m2 4h0m0-2h0m2 3h0m1-5h0m1-2h0m0 3h0m0 2h0m7-3h0m2-2h0m0 5h0m2-2h0m2 3h0m3-3h0m0 2h0m1-1h0m0 3h0m2-3h0m0 2h0m1-5h0m1 1h0m1-1h0m3 3h0m1-4h0m1 6h0m3-3h0m-38 5h0m1 0h0m0 1h0m1-1h0m1 0h0m0 4h0m1-1h0m1 3h0m2 0h0m1-5h0m4 2h0m1-3h0m0 4h0m1-4h0m1 3h0m0 3h0m2-3h0m1 2h0m1 2h0m0-5h0m1-1h0m2 1h0m0-1h0m1 0h0m0 1h0m0 1h0m1 0h0m0-2h0m2-1h0m0 3h0m1-2h0m2 5h0m2-3h0m2 4h0m0-7h0m2 1h0m0 2h0m-30 5h0m4 2h0m0-2h0m1 7h0m0-7h0m0 3h0m0 1h0m1 2h0m0 1h0m1-4h0m4-3h0m1 4h0m0 2h0m1-5h0m0 3h0m1 2h0m2-3h0m0 2h0m1-3h0m1 4h0m5-6h0m3 5h0m0-1h0m1-3h0m0 1h0m2 0h0m-20 8h0m2 2h0m1-4h0m1 5h0m4-3h0m0 3h0m1-5h0m1 4h0m1-4h0m0 2h0m4 4h0m1-5h0m-5 9h0m2-1h0m1 2h0m0-2h0m1-1h0" stroke="#ff0000" stroke-width="7.20" stroke-linecap="round"/><path d="M328 1404h0m30 9h0m6 2h0m-30 6h0m1 0h0m-9 5h0m16 0h0m2 0h0m25 1h0m-24 6h0m26 0h0m-20 13h0m5-3h0m29 2h0m3 1h0m-17 4h0m33-2h0m-122 11h0m78 0h0m-81 7h0m46 1h0m8 0h0m42 3h0m7-6h0m31 5h0m-72 8h0m23-3h0m3 5h0m47-7h0m1 7h0m8-2h0m13 6h0m7 4h0m-109 8h0m69-2h0m-123 8h0m21-2h0m14-3h0m96 5h0m59 0h0m7 1h0m-183 2h0m12 0h0m23 3h0m85 4h0m20-5h0m10-1h0m19 1h0m-247 13h0m60-7h0m34 1h0m55 3h0m32-2h0m5 1h0m32 4h0m22-5h0m3 2h0m-124 10h0m11 1h0m84-3h0m5 0h0m1-2h0m-237 12h0m87 0h0m49-1h0m35-2h0m10 4h0m41-7h0m-122 12h0m2-3h0m35 6h0m44-6h0m9 0h0m16 2h0m16 4h0m60-2h0m-212 7h0m48 2h0m35-4h0m120 1h0m16-2h0m-177 13h0m27 1h0m10-2h0m13 2h0m56-2h0m4 0h0m15 0h0m17 1h0m12-3h0m5 1h0m10-4h0m6 0h0m-180 15h0m11-6h0m14 4h0m4-3h0m4 0h0m43 2h0m19 2h0m7-6h0m3 4h0m0 2h0m1-3h0m12 3h0m8-1h0m11-3h0m1 4h0m17-2h0m-271 7h0m32-2h0m125 5h0m17 1h0m1-2h0m10 2h0m3 0h0m3-2h0m17 2h0m50-3h0m4-4h0m-230 10h0m70-1h0m37 3h0m2-4h0m10 0h0m6 5h0m0-5h0m32 3h0m9 1h0m1-2h0m12-1h0m5 2h0m14 1h0m-125 7h0m19-1h0m36 0h0m5-2h0m18 7h0m5 0h0m8-3h0m12-3h0m18 1h0m-191 12h0m80-3h0m7-3h0m8 1h0m7 0h0m18-1h0m3 1h0m29 4h0m10-1h0m-58 5h0m-169 20h0m36-3h0m9 60h0m11 4h0m-53 7h0m49 0h0m-26 36h0m3 5h0" stroke="#0000ff" stroke-width="7.20" stroke-linecap="round"/><path d="M187 1554h0m-5 12h0m-5 6h0m-7 9h0m5-1h0m10-1h0m-21 5h0m5 0h0m-9 8h0m20 1h0m-17 11h0m16 2h0m-22 6h0m3-2h0m-6 7h0m12 3h0m17-2h0m-30 11h0m1-4h0m9 2h0m-1 8h0m13-2h0m-13 8h0m1 3h0m-5 9h0m1-4h0m1 9h0m1-2h0m17 4h0m-19 7h0m15 9h0m11 2h0m-16 7h0m1-1h0m14 7h0m3-1h0m-20 12h0m8-6h0m-8 9h0m1 2h0m12 3h0m10 27h0m2 4h0" stroke="#ffffff" stroke-width="5.76" stroke-linecap="round"/></g>
<g fill="none" transform="scale(0.25)"><path d="M1045 1388h0m-5 9h0m13 2h0m-31 7h0m5 1h0m-2 6h0m5 1h0m3 1h0m17-1h0m-51 5h0m6 4h0m26-7h0m19 4h0m1 0h0m35-4h0m5 3h0m-82 10h0m6-4h0m6 6h0m21-7h0m2 7h0m8-5h0m-54 8h0m3 2h0m12-4h0m16 7h0m14-1h0m-60 8h0m0-5h0m7 1h0m0-2h0m2 7h0m13-3h0m0-2h0m2-1h0m6 1h0m3-1h0m1 4h0m1-3h0m10 4h0m0-3h0m1 1h0m83-1h0m-128 10h0m16 2h0m1 0h0m14-5h0m2-2h0m0 4h0m6 3h0m5 0h0m7-2h0m6-2h0m1-1h0m10 4h0m-98 3h0m37 2h0m12 4h0m5-4h0m5 2h0m26-5h0m50 3h0m-143 12h0m17 0h0m8-3h0m25-2h0m5-2h0m13 5h0m0 2h0m10-7h0m19 4h0m-105 4h0m21 4h0m3-2h0m32 5h0m17-5h0m42 0h0m0 3h0m105-1h0m-224 8h0m7 0h0m11-2h0m70 4h0m26 0h0m17-1h0m71-2h0m57 3h0m-252 3h0m5 2h0m0 4h0m25-5h0m4 4h0m31-5h0m-87 12h0m1-1h0m3 1h0m5-2h0m36 0h0m7-2h0m19 0h0m2 6h0m18-5h0m2 1h0m0 1h0m215 1h0m-295 6h0m181 1h0m104 3h0m-301 2h0m3-1h0m8 4h0m111 0h0m42-1h0m118 4h0m19-3h0m1 3h0m11 0h0m6-2h0m0-5h0m5 6h0m-330 8h0m10 1h0m30-2h0m22-5h0m38 1h0m113 3h0m65-4h0m10 1h0m24 4h0m0 2h0m16-4h0m1-1h0m1 4h0m7-1h0m-349 6h0m5 1h0m55 0h0m19-1h0m73 2h0m82 1h0m29-3h0m36-3h0m7 4h0m16 1h0m4 1h0m4-1h0m-328 7h0m16-1h0m29-1h0m122 2h0m116 2h0m16-3h0m16 4h0m2 0h0m14-6h0m8 3h0m6 2h0m7-3h0m-340 6h0m91-1h0m21 0h0m64 3h0m11-3h0m82 2h0m4 0h0m12 5h0m11-3h0m3-2h0m4 3h0m1 1h0m6-3h0m2 1h0m3 1h0m3 2h0m3-2h0m3-5h0m0 3h0m7-3h0m3 2h0m3 1h0m-363 8h0m3 2h0m11-5h0m9 2h0m18 2h0m8 2h0m31 1h0m121-2h0m26-3h0m18 5h0m8-4h0m43 4h0m4-7h0m0 4h0m5 3h0m2-6h0m1 0h0m5-1h0m1 1h0m12 0h0m16 4h0m5-3h0m2 4h0m10-5h0m-361 14h0m7-6h0m6 4h0m19-1h0m47 0h0m2-1h0m28-3h0m115 3h0m14 2h0m15 2h0m13-6h0m10 2h0m22 2h0m-307 9h0m7-3h0m1-3h0m16 6h0m38 1h0m12-2h0m14 1h0m13-1h0m2 1h0m14-1h0m74-5h0m8 0h0m11 5h0m71-2h0m14 3h0m5-5h0m6 0h0m6 4h0m2-5h0m13 0h0m9 4h0m-335 7h0m13 1h0m12-2h0m30 5h0m37-2h0m56-4h0m49 3h0m12 1h0m35-4h0m4 5h0m7-1h0m0-1h0m20 3h0m6-7h0m16 1h0m3 5h0m37-4h0m4 3h0m11 2h0m7-2h0m-351 4h0m9 2h0m44-2h0m32 3h0m2-4h0m107 6h0m7 1h0m6-2h0m9-3h0m6 0h0m21 5h0m8 0h0m7-6h0m6 5h0m60 0h0m9 0h0m-355 4h0m13 2h0m2-2h0m32 2h0m3 0h0m12 3h0m25-5h0m2-1h0m13 1h0m4 2h0m4-1h0m6 0h0m7 3h0m4-5h0m38 6h0m61-3h0m4 2h0m18-3h0m10-1h0m4 0h0m8-1h0m10 2h0m40 0h0m-304 9h0m6 2h0m36-1h0m12-4h0m24-1h0m2 2h0m2 5h0m17-2h0m11-2h0m11 0h0m2 1h0m16 1h0m4 2h0m18-7h0m19 4h0m43-4h0m1 3h0m1 4h0m5-2h0m2 2h0m4-6h0m5 4h0m0-1h0m36 2h0m33-6h0m-297 10h0m45 5h0m80-2h0m3-5h0m2 3h0m8-1h0m9 1h0m1-1h0m0-1h0m1 5h0m18-5h0m7 0h0m38 3h0m9-1h0m2-3h0m3 2h0m3-1h0m27-1h0m16 7h0m-305 5h0m47-4h0m21 5h0m35-3h0m2 2h0m6 0h0m12 1h0m8-2h0m15-2h0m4 3h0m18 0h0m6-4h0m52 5h0m2 1h0m15-4h0m8 0h0m5 4h0m12-1h0m12-2h0m-281 5h0m5 0h0m85 2h0m62 4h0m8-4h0m6-1h0m17 4h0m1 0h0m6-1h0m22-1h0m4-2h0m12 0h0m7 2h0m7 2h0m16-3h0m8 4h0m6-1h0m-273 3h0m1 0h0m1 2h0m7-2h0m41 1h0m19 6h0m21-3h0m12-2h0m6-1h0m10 4h0m28-4h0m3 6h0m8-1h0m14-5h0m10 2h0m4 4h0m9-4h0m12-3h0m56 0h0m26 3h0m-285 11h0m19-1h0m36-3h0m28 0h0m15-1h0m5 3h0m1-4h0m1 6h0m7 0h0m9-6h0m8 0h0m21 4h0m4-4h0m7 5h0m2-5h0m7 1h0m10 3h0m13 0h0m1-4h0m32 1h0m15 0h0m45 3h0m72-1h0m-361 8h0m7 2h0m114 1h0m9 0h0m1-1h0m12-3h0m10 2h0m18-3h0m5 4h0m4-4h0m0 4h0m1-3h0m21-2h0m2 6h0m5-2h0m11 1h0m48-2h0m7-2h0m-286 10h0m1-3h0m20 3h0m26-3h0m32 7h0m2-5h0m1-2h0m11 3h0m20-2h0m8 6h0m3-4h0m11 4h0m4-1h0m13-1h0m4 2h0m1 0h0m4-2h0m6-3h0m7 3h0m5-3h0m13 4h0m9-6h0m31 2h0m49 1h0m27 2h0m23-2h0m23 1h0m-341 8h0m0-4h0m99 0h0m11 7h0m3-2h0m3-3h0m17 0h0m40 3h0m0 2h0m1-4h0m13 4h0m36-1h0m104-2h0m56 1h0m-389 3h0m7 2h0m1-2h0m19 7h0m56-1h0m0-1h0m3-5h0m2 2h0m2-2h0m3 4h0m12 1h0m6-2h0m10 4h0m4 0h0m1-6h0m15 6h0m1-7h0m17 2h0m3 1h0m11 2h0m3 1h0m4-1h0m3-5h0m2 7h0m45-4h0m9 4h0m2-4h0m64 4h0m38 0h0m5-2h0m-347 4h0m10-1h0m63 6h0m3-2h0m5 1h0m2-4h0m19 5h0m5-5h0m1 2h0m9 2h0m14-5h0m1 3h0m5-3h0m2 2h0m4 2h0m2-1h0m25 3h0m8-4h0m28-1h0m11 3h0m64-1h0m-289 8h0m3 0h0m1 4h0m29-2h0m16-3h0m13 2h0m18 3h0m5-6h0m6 2h0m11 0h0m3 0h0m4 4h0m19 0h0m5-5h0m7-2h0m4 2h0m5 0h0m0 2h0m29-4h0m3 2h0m14 2h0m60 3h0m-254 7h0m4-1h0m12-4h0m38 3h0m25-4h0m3 2h0m7-2h0m12 7h0m14-1h0m21-1h0m1 2h0m1-2h0m6 2h0m0-6h0m4 1h0m24 0h0m11 5h0m21-3h0m1-2h0m16 3h0m16 2h0m19-4h0m11-3h0m9 7h0m-272 3h0m1 4h0m40 0h0m1-2h0m35-1h0m11 1h0m2 3h0m6-2h0m1 2h0m8-3h0m18 3h0m2-7h0m56 7h0m23-6h0m19 6h0m20-7h0m-233 9h0m41 5h0m12-5h0m17 5h0m1-3h0m3 1h0m1 3h0m6-1h0m24 0h0m6-6h0m12 5h0m20 2h0m2-6h0m66 4h0m1 1h0m62-1h0m9-4h0m13-1h0m-311 13h0m13-3h0m83 5h0m21-4h0m17-1h0m29-1h0m29 4h0m2-4h0m4 3h0m11-2h0m10 1h0m4-2h0m28 2h0m3 4h0m50-2h0m61-5h0m-360 9h0m16-1h0m70 0h0m5 3h0m0-3h0m5 1h0m1 2h0m1 1h0m16 3h0m3-5h0m13 1h0m0 4h0m27-3h0m7-1h0m9-3h0m9 5h0m3 2h0m6-1h0m12 0h0m40 0h0m49 1h0m13-1h0m16-3h0m15 3h0m-339 3h0m17-1h0m1 1h0m13 4h0m37-3h0m5 4h0m22-4h0m34-2h0m46 0h0m38 2h0m-215 10h0m7-2h0m3 1h0m39-3h0m13 4h0m16-1h0m2 1h0m21 0h0m17-4h0m18 3h0m3-3h0m4 0h0m7 2h0m12 5h0m27-7h0m10 6h0m5 1h0m3-1h0m11 1h0m8-4h0m2 4h0m13-1h0m1-6h0m19 5h0m7 2h0m2-4h0m27 0h0m64-1h0m-360 13h0m7-3h0m0 3h0m1-7h0m1 7h0m7-3h0m16-3h0m1 1h0m4 0h0m4 4h0m23-6h0m2 0h0m16 7h0m57-1h0m6-1h0m8 1h0m64-2h0m9-4h0m33 7h0m0-5h0m6-2h0m36 2h0m50 5h0m8-2h0m-348 3h0m3 1h0m9 4h0m36-4h0m3 1h0m9-1h0m8-1h0m46 6h0m36-4h0m11 2h0m23 0h0m13 1h0m16 0h0m28-3h0m13-1h0m5-1h0m10 2h0m5-1h0m9 4h0m26-5h0m7 6h0m2-4h0m24 0h0m3 5h0m5-7h0m4 3h0m5-1h0m-339 9h0m5-2h0m2 5h0m9-5h0m29 5h0m9 0h0m0-2h0m60 1h0m9 1h0m4-5h0m52 3h0m12 1h0m6-5h0m5 3h0m13-3h0m23 2h0m25 4h0m6-2h0m14-2h0m12 2h0m13 2h0m2-4h0m24 3h0m6 1h0m8 1h0m2-7h0m-382 8h0m36 6h0m0-4h0m34 1h0m23 2h0m6-3h0m2-1h0m34 4h0m21-5h0m19 7h0m8 0h0m16-6h0m16 5h0m20-4h0m1 1h0m32-3h0m8 2h0m4 0h0m22 2h0m8 3h0m19-1h0m12-1h0m14-1h0m2 1h0m17-3h0m3 5h0m2-1h0m7-3h0m4 2h0m3 1h0m-341 6h0m43-4h0m50 7h0m51-5h0m6 2h0m20-4h0m23 5h0m20-5h0m5 7h0m36 0h0m20-3h0m8-2h0m1 4h0m47-1h0m5-5h0m18 4h0m-329 4h0m14 3h0m51 0h0m11 1h0m115-2h0m17 1h0m28 0h0m31 4h0m16-5h0m22 1h0m1-2h0m1 4h0m1 0h0m1-4h0m3 2h0m2 4h0m2-3h0m4-1h0m6 3h0m1-5h0m3 5h0m-326 4h0m62 1h0m7 1h0m192 0h0m22-1h0m28 3h0m-160 5h0m30-3h0m125 0h0m-239 13h0m66 2h0m44 0h0m122-1h0m-243 9h0m87-4h0m-96 6h0m60 4h0m30-2h0m50 0h0m-123 7h0m87 0h0m-22 17h0m-24 15h0" stroke="#0000ff" stroke-width="7.20" stroke-linecap="round"/><path d="M1038 1391h0m4-3h0m6 4h0m3 7h0m-37 7h0m6-1h0m0 2h0m11-3h0m2 3h0m1-2h0m2-4h0m0 1h0m2 5h0m14-6h0m0 2h0m4-3h0m16 3h0m-62 12h0m1-2h0m5-4h0m3 6h0m5-6h0m1-1h0m0 5h0m4 2h0m3-4h0m0 1h0m0 3h0m12-2h0m11 2h0m6-1h0m13-3h0m-68 12h0m2-6h0m3 3h0m8 2h0m1-6h0m5 5h0m2 1h0m1-6h0m2 6h0m1 1h0m5-4h0m9 3h0m2-5h0m24 5h0m-82 8h0m9-4h0m3-2h0m5 3h0m0 1h0m2-4h0m7 7h0m0-6h0m3 5h0m3-3h0m5 3h0m0-6h0m1 3h0m1 3h0m1-3h0m6-2h0m1 6h0m1-5h0m3-1h0m6 1h0m2-2h0m-58 9h0m6 4h0m4-4h0m4 5h0m4-4h0m5 4h0m3 1h0m6-4h0m2-3h0m8 7h0m8-5h0m4 2h0m1-1h0m18 0h0m-74 11h0m16 1h0m1-5h0m16 2h0m5 2h0m2 1h0m28-4h0m45 4h0m-145 3h0m37 3h0m9-5h0m17 4h0m9 0h0m3-3h0m2 5h0m4-2h0m5 3h0m11-3h0m41-4h0m-146 11h0m43-3h0m4 1h0m2 2h0m4 4h0m7 0h0m5-7h0m10 5h0m-66 4h0m4-1h0m10 7h0m8-6h0m6 4h0m13-4h0m8 1h0m5-1h0m0 6h0m1 0h0m5-7h0m1 4h0m2 2h0m2-5h0m6 1h0m4 2h0m2-4h0m1 6h0m7-6h0m13 2h0m27 4h0m-145 4h0m6 2h0m14-3h0m10 5h0m14-4h0m12 2h0m32-3h0m1 6h0m5-6h0m7-1h0m14 4h0m4 3h0m-123 2h0m2-1h0m2 3h0m3-3h0m5 1h0m1 6h0m8-4h0m15 4h0m2-4h0m12-1h0m3 3h0m41 0h0m0 1h0m90-5h0m-190 13h0m2-1h0m1-2h0m3 3h0m14-4h0m24-2h0m61 0h0m144 7h0m37 0h0m-281 8h0m3-5h0m9-2h0m2 1h0m4 0h0m32-1h0m12 2h0m10 1h0m2 1h0m18-1h0m3-2h0m27 2h0m47 0h0m16 1h0m52-2h0m56 5h0m1-1h0m-306 4h0m4 4h0m26-4h0m3 3h0m24 0h0m31 1h0m25-5h0m129-1h0m34 6h0m6-1h0m12-4h0m12-1h0m9 2h0m-324 12h0m21-5h0m40 3h0m12 2h0m48-3h0m83-3h0m85 3h0m0 3h0m7-4h0m12 3h0m0 2h0m4-4h0m13-1h0m2 5h0m0-7h0m1 7h0m11 0h0m-331 7h0m6-3h0m4-1h0m16 4h0m4-6h0m136 7h0m59-2h0m42-1h0m6 1h0m29-5h0m4 1h0m2 4h0m4-5h0m0 5h0m2-3h0m8-2h0m0 4h0m2 3h0m0-5h0m7 2h0m-292 5h0m6 2h0m48-3h0m139 5h0m8 0h0m33-3h0m10 1h0m5-3h0m7 5h0m1 0h0m2-1h0m2 3h0m2-3h0m5-2h0m1 4h0m1 1h0m11 0h0m2-6h0m1 6h0m9-7h0m-355 15h0m68-1h0m2-4h0m9 3h0m37 2h0m73-6h0m36 0h0m48 5h0m3-2h0m5 3h0m3-4h0m12-2h0m6-1h0m1 6h0m8-5h0m1 2h0m5 1h0m1-1h0m1 0h0m0-2h0m1 0h0m1 0h0m2 2h0m3 2h0m0 1h0m2-1h0m9 1h0m9 0h0m2 1h0m1-7h0m-353 12h0m10 0h0m27-3h0m33 5h0m2 0h0m56-1h0m88-4h0m49 3h0m12 1h0m9-1h0m2 2h0m3-5h0m14 1h0m0 2h0m1-2h0m5 3h0m9-5h0m4 1h0m2 5h0m1-4h0m2 0h0m10 0h0m0-1h0m8 3h0m-350 6h0m78 0h0m91 3h0m72-3h0m6 2h0m7-2h0m9-1h0m8-1h0m6 1h0m4 3h0m4-2h0m3 1h0m17-2h0m0 4h0m1 2h0m1 0h0m2 0h0m1-5h0m1 1h0m2-1h0m2 0h0m1 4h0m10-5h0m9 2h0m10-2h0m11 1h0m-370 11h0m7-4h0m49 4h0m46 0h0m63 0h0m2-5h0m81 6h0m12-4h0m11 3h0m2-1h0m2 0h0m11-4h0m7 1h0m6 3h0m7-1h0m1 1h0m8 2h0m1-4h0m4 0h0m2 4h0m0-4h0m6 1h0m3-3h0m19 4h0m3-4h0m-342 14h0m12 0h0m13 0h0m7-4h0m13 0h0m1 2h0m12 3h0m167-5h0m34 3h0m3-3h0m1 0h0m4 5h0m4 0h0m2-4h0m26 2h0m2-2h0m12 2h0m8-1h0m1-4h0m7 6h0m2-6h0m16 1h0m-356 11h0m3 0h0m21 2h0m19-6h0m40 5h0m3-2h0m14 0h0m10 2h0m129 2h0m13 0h0m2-4h0m0 4h0m1-4h0m0 2h0m9-1h0m15 2h0m1-5h0m19 3h0m5 3h0m18 0h0m11-4h0m5 4h0m13-2h0m-355 5h0m9 2h0m26-4h0m1 6h0m50-4h0m17 1h0m5 3h0m4 1h0m40-1h0m45-1h0m3 0h0m2-2h0m5-1h0m2-1h0m9 1h0m19 1h0m9 1h0m1 0h0m11 2h0m3 1h0m14-1h0m1-1h0m2-5h0m3 1h0m11 6h0m2-6h0m18 0h0m3-1h0m48 7h0m9-5h0m-377 6h0m28 0h0m33 0h0m31 6h0m9-3h0m6-2h0m56 3h0m4-2h0m15 5h0m20-7h0m5 5h0m6 1h0m18-1h0m5-4h0m3 4h0m27 0h0m14 0h0m9-4h0m4 3h0m7-3h0m0 5h0m-312 4h0m15-1h0m0 5h0m6-2h0m16 0h0m17-4h0m0 5h0m1-4h0m6 4h0m13-5h0m16 4h0m6-3h0m23 3h0m6 2h0m3-1h0m0-1h0m9 2h0m4-2h0m15-1h0m26 0h0m4 4h0m21-2h0m12-2h0m6-1h0m21 2h0m1-2h0m9 3h0m7-4h0m10 0h0m17 1h0m8 0h0m2 2h0m4-1h0m8-3h0m53 1h0m-364 14h0m11-4h0m43 1h0m23 3h0m5-4h0m9-1h0m3-1h0m28 4h0m3 1h0m22 1h0m5-3h0m13 1h0m6 0h0m2-5h0m15 2h0m8 3h0m12-4h0m2-1h0m13 3h0m4 1h0m2-4h0m0 1h0m5-1h0m1 5h0m2-5h0m6 6h0m17-1h0m3 1h0m20-1h0m-277 7h0m51 0h0m33 3h0m2-2h0m9-4h0m16 1h0m5-2h0m1 0h0m5 5h0m11-1h0m5 1h0m5-5h0m2 3h0m3-1h0m5 2h0m9 0h0m20-4h0m8 2h0m10 1h0m24 2h0m0 2h0m3-2h0m14-2h0m4 2h0m5-3h0m14 3h0m35-5h0m-305 12h0m3 3h0m13-5h0m5 3h0m25-3h0m8-1h0m20 1h0m7 5h0m2-4h0m5 2h0m27 2h0m3-4h0m17-3h0m28 6h0m10-6h0m2 3h0m3-1h0m0 1h0m0 3h0m11-4h0m6 3h0m11-3h0m2-1h0m7-1h0m9 0h0m1 3h0m7 0h0m23-2h0m5-1h0m2 5h0m0 2h0m14-5h0m2-2h0m1 2h0m6 5h0m-292 3h0m19 1h0m0 2h0m43-2h0m14 3h0m0-1h0m4-5h0m11 3h0m10 4h0m1 0h0m4-7h0m16 3h0m1 4h0m3-1h0m3-4h0m1 2h0m19-3h0m6 1h0m34 2h0m1 1h0m10 1h0m6-1h0m4 2h0m0-6h0m6 4h0m13 1h0m12-2h0m5-1h0m4 3h0m26-1h0m-278 6h0m8 2h0m2 0h0m14 2h0m0-6h0m63 6h0m21-5h0m10 2h0m2-4h0m5 4h0m23-1h0m6 0h0m8 0h0m6 2h0m1-4h0m11 0h0m1 6h0m7-1h0m3 1h0m10-2h0m14 1h0m4-6h0m8 2h0m0 4h0m1-3h0m13-1h0m5-1h0m8 0h0m15 6h0m25-4h0m36 0h0m-323 6h0m21 4h0m4-4h0m12 2h0m12 3h0m8-1h0m2-1h0m22-1h0m3 2h0m17 2h0m6-6h0m29 5h0m5 1h0m13-6h0m9 2h0m8 0h0m19 0h0m2-1h0m7 4h0m4-6h0m8 1h0m3 0h0m-221 11h0m7-3h0m9 4h0m4 1h0m30-3h0m9 2h0m26-2h0m2 0h0m2 1h0m0 3h0m4-3h0m10 1h0m5 2h0m2-5h0m0 3h0m6-4h0m6-1h0m3 0h0m6 3h0m5 2h0m2-5h0m1 4h0m13-3h0m4 1h0m11 1h0m3 4h0m6-7h0m4 6h0m4 0h0m12-6h0m1 7h0m1-6h0m11 4h0m5-2h0m17-3h0m32 1h0m58 2h0m6 2h0m69 1h0m-399 9h0m14-4h0m29 4h0m15-4h0m21 2h0m12-3h0m14 0h0m1-2h0m1 5h0m5-4h0m3 5h0m1-2h0m5 0h0m11-4h0m1 6h0m12-5h0m18 3h0m31-1h0m2-2h0m13 1h0m22 3h0m9-2h0m5 4h0m8-2h0m-252 4h0m9 5h0m3-3h0m11-1h0m34 2h0m7-4h0m1 6h0m3-2h0m25-2h0m5 1h0m6 4h0m4-4h0m1-1h0m1 5h0m4-5h0m4-2h0m4 0h0m13 1h0m3 4h0m0 2h0m1-3h0m4-4h0m2 0h0m2 7h0m1-5h0m3 0h0m5 1h0m1 0h0m3-3h0m1 1h0m4 0h0m5 2h0m0 1h0m4 1h0m1-2h0m6 1h0m3-3h0m0-1h0m0 6h0m3-2h0m7 2h0m2-6h0m19 1h0m4 4h0m22-4h0m-201 12h0m3-5h0m0 7h0m3-2h0m7-4h0m21 3h0m7-4h0m8 1h0m8 2h0m19-3h0m9 2h0m9 2h0m3-2h0m4 4h0m0-2h0m1-4h0m5 2h0m1-2h0m1 1h0m1 0h0m3 4h0m0-1h0m10-1h0m1-2h0m2-1h0m16 0h0m12 3h0m5 3h0m14 1h0m18 0h0m1-6h0m42 0h0m80-1h0m-344 14h0m11-3h0m3-3h0m4 0h0m1 4h0m5 3h0m16-4h0m1 2h0m2-4h0m10 1h0m4 5h0m1-5h0m1 3h0m1-2h0m3-2h0m7 2h0m2 3h0m10 0h0m6 1h0m1-1h0m4-1h0m1 2h0m0-7h0m5 1h0m1 1h0m1 0h0m2 3h0m0 1h0m0-6h0m2 5h0m0 2h0m7-2h0m0 2h0m5-3h0m0 1h0m2-4h0m3 5h0m11-1h0m0-3h0m3 5h0m1 0h0m6-3h0m10 2h0m8-3h0m5 1h0m5-1h0m13 1h0m6-3h0m25 4h0m19 2h0m15 0h0m44-1h0m3-4h0m35-2h0m42 6h0m7 1h0m-380 2h0m11 0h0m0 5h0m3 1h0m1-6h0m25 6h0m6-5h0m1 5h0m4-6h0m3 3h0m0 2h0m12 0h0m2-4h0m1 1h0m5 1h0m7-2h0m0 5h0m1-4h0m0-1h0m0 4h0m2-1h0m6-4h0m1 3h0m3 0h0m4-2h0m0 3h0m3 2h0m1-2h0m1-4h0m4 4h0m1 2h0m3-4h0m2 1h0m1 1h0m2 0h0m2 1h0m3-4h0m3-2h0m2 0h0m1 7h0m4-7h0m1 7h0m1-7h0m8 2h0m1-2h0m46 7h0m9-2h0m14-5h0m0 1h0m52 4h0m28-4h0m80 2h0m-377 10h0m2-4h0m22 6h0m17 0h0m6-6h0m2 4h0m8 1h0m0-1h0m3-2h0m0 4h0m7 0h0m2-5h0m0-1h0m3 3h0m1-4h0m5 6h0m1-1h0m3-2h0m1 2h0m2 2h0m1-2h0m0-1h0m1-2h0m0 3h0m1-1h0m1-1h0m1-2h0m3 3h0m0-3h0m2-1h0m0 4h0m0 3h0m3 0h0m1-4h0m0 1h0m2 3h0m1-1h0m0-6h0m0 2h0m1-1h0m0 3h0m2 3h0m3 0h0m0-1h0m3-5h0m1 4h0m2-1h0m0-4h0m5 1h0m5 4h0m4-3h0m4 2h0m2-3h0m2 0h0m10 5h0m35 1h0m1-7h0m52 7h0m19-1h0m80 0h0m30-6h0m-362 15h0m8-5h0m3-1h0m0 2h0m5-3h0m9 4h0m2 3h0m0-7h0m9 5h0m1 1h0m5-2h0m3 0h0m16-3h0m1 0h0m1 0h0m1 0h0m7 6h0m3-5h0m8 2h0m1 1h0m1-5h0m8 3h0m3 4h0m4-7h0m0 2h0m1-2h0m0 5h0m3-1h0m4-3h0m5-1h0m13 2h0m3 0h0m5-2h0m9 3h0m4 4h0m4-7h0m23 4h0m12-1h0m7-3h0m21 6h0m9-4h0m29 0h0m-259 7h0m8 0h0m11-1h0m2 7h0m2-6h0m1 1h0m18 3h0m1-4h0m0-1h0m4 3h0m0 2h0m1-1h0m2-4h0m1 1h0m2 4h0m1-4h0m2 4h0m3 0h0m7 1h0m0-6h0m1 5h0m6-5h0m0 6h0m10-2h0m3 0h0m2-4h0m0 2h0m10-1h0m1 2h0m9 3h0m1-5h0m0 1h0m1 1h0m1-1h0m3-1h0m4 0h0m5-1h0m2 2h0m5 4h0m3-3h0m19 0h0m1 2h0m13-2h0m8 4h0m13-5h0m1 5h0m7-1h0m6 0h0m6-1h0m5-3h0m16 3h0m6-4h0m8 4h0m54 1h0m73-6h0m-368 11h0m12-2h0m4 4h0m0 2h0m11-5h0m3 3h0m1-3h0m17 3h0m4-1h0m0 3h0m6-6h0m5-1h0m2 7h0m6-6h0m0-1h0m5 6h0m8-6h0m3 4h0m0 1h0m1-1h0m3 3h0m2 0h0m0-1h0m3-3h0m3-1h0m1 1h0m1 0h0m3 1h0m4-2h0m4 5h0m5-1h0m1-4h0m6-2h0m7 2h0m2 1h0m5 1h0m5-2h0m7-2h0m15 4h0m3 2h0m5-6h0m6 3h0m11-1h0m25 4h0m6 0h0m13-4h0m9 1h0m15 1h0m42-2h0m2 0h0m4 3h0m-308 8h0m3-4h0m2 3h0m6 3h0m2 0h0m2-7h0m7 2h0m5 5h0m11-4h0m0 2h0m11 1h0m5-1h0m0 1h0m9-4h0m4-2h0m3 2h0m5 5h0m2-1h0m1 0h0m5 0h0m8 1h0m3-7h0m4 7h0m4-7h0m5 1h0m7-1h0m1 0h0m1 6h0m38-3h0m3 0h0m8 2h0m17-2h0m0 4h0m14-3h0m8-4h0m16 0h0m18 2h0m73-2h0m68 4h0m-379 5h0m23 6h0m0-5h0m8 4h0m15-4h0m4 2h0m9-3h0m2-1h0m1 0h0m7 7h0m7-1h0m2-3h0m8 3h0m7 1h0m15-1h0m0-1h0m18-5h0m5 0h0m8 7h0m2-6h0m0 4h0m7 1h0m11-4h0m0 1h0m3 2h0m4 1h0m38-3h0m3 3h0m10-2h0m26 3h0m15 0h0m15-4h0m22 3h0m69-2h0m-357 10h0m5-6h0m10 6h0m8 0h0m0-2h0m8 2h0m10-1h0m1-3h0m8 2h0m4 2h0m5-5h0m2 0h0m2 0h0m4 5h0m2-4h0m4 2h0m3-3h0m3 0h0m2 2h0m0 3h0m3-5h0m2 5h0m4 0h0m7-1h0m6-4h0m5 0h0m1 4h0m15-1h0m6 3h0m3 0h0m8-4h0m2 2h0m13 0h0m9-4h0m29 2h0m6-2h0m11 6h0m0-7h0m2 0h0m0 3h0m39-2h0m3 1h0m9-2h0m48 1h0m43 6h0m7 0h0m2 0h0m6-5h0m15 3h0m6-1h0m-402 7h0m9 1h0m6-2h0m1 4h0m10-5h0m6 3h0m1-3h0m11 0h0m1 4h0m13-2h0m5-2h0m2-1h0m39 2h0m5-2h0m45 0h0m17 1h0m15 6h0m2-2h0m3-2h0m1-2h0m1 6h0m25-5h0m8 2h0m29-1h0m4 0h0m20-1h0m3 3h0m18 2h0m22-4h0m29 3h0m23-5h0m6 1h0m11-2h0m1 7h0m-381 5h0m12-1h0m24 1h0m20-3h0m16 1h0m1 2h0m9-4h0m66 4h0m5 0h0m5-2h0m23 1h0m6-3h0m16 0h0m6 6h0m21-2h0m13 0h0m1-1h0m39 3h0m2-5h0m6 6h0m3-7h0m30 5h0m6 2h0m5-2h0m3 0h0m2-3h0m4 2h0m1 1h0m13-3h0m4 4h0m1-5h0m4 6h0m2-3h0m4 1h0m11 1h0m0-1h0m2-1h0m1-1h0m-386 5h0m3 3h0m0 4h0m3-3h0m57-4h0m47 7h0m3-5h0m17 4h0m11 1h0m0-5h0m13 1h0m9 2h0m5-1h0m46 3h0m8-2h0m11 2h0m12 0h0m36-3h0m6-1h0m1 1h0m4 0h0m8-3h0m1-1h0m9 3h0m19 2h0m1-2h0m9 0h0m0 2h0m1-4h0m11 5h0m1-1h0m4-1h0m3-4h0m4 4h0m2 0h0m6-3h0m3 3h0m1-2h0m2 3h0m2-4h0m2 1h0m14-2h0m-398 14h0m41-2h0m19 0h0m4-2h0m39 3h0m47-1h0m2 3h0m16 0h0m23-2h0m5-2h0m20 1h0m19-2h0m33 2h0m10 1h0m1 0h0m2-3h0m3-2h0m6 2h0m3 3h0m4 2h0m16-4h0m31-2h0m10 5h0m3-3h0m2 4h0m2-5h0m6 5h0m8-2h0m1 1h0m1 0h0m-369 4h0m97 3h0m5 2h0m2-3h0m3-4h0m42 0h0m70 2h0m102 0h0m9-2h0m7 6h0m22-3h0m6 0h0m1-2h0m2 5h0m4-3h0m6 0h0m16-3h0m-338 15h0m109-2h0m55 2h0m10-7h0m36 6h0m24-3h0m2 2h0m23 2h0m1-5h0m6 3h0m38-1h0m1-4h0m4 5h0m10-5h0m3 4h0m11 0h0m4-1h0m-297 9h0m63 3h0m30-1h0m53-5h0m108 0h0m26 3h0m9 0h0m-269 9h0m26 0h0m118-2h0m-80 9h0m32 2h0m97 1h0m-159 1h0m22 0h0m42 4h0m42-3h0m51 5h0m-133 16h0m75-5h0m-77 12h0m-9 8h0m29 4h0" stroke="#ff0000" stroke-width="7.20" stroke-linecap="round"/><path d="M1053 1394h0m-31 12h0m17-4h0m9 1h0m5-3h0m3 2h0m-52 13h0m25-1h0m25-1h0m3-3h0m-31 9h0m7-1h0m3 0h0m13 5h0m10-7h0m-66 15h0m9-5h0m4 1h0m1 2h0m10 2h0m10-5h0m11 2h0m3-3h0m5 6h0m1 0h0m53-7h0m-119 15h0m4-7h0m10 0h0m23 6h0m2 1h0m99-1h0m-119 4h0m5 5h0m0-2h0m5-2h0m21 1h0m7 0h0m-48 8h0m1 0h0m5-1h0m18 3h0m8-3h0m6 0h0m7 1h0m4-2h0m4 3h0m7 2h0m17-4h0m-77 5h0m8 5h0m8-3h0m122 0h0m-144 6h0m30 6h0m11-1h0m5-2h0m-86 8h0m12 3h0m10-4h0m35 1h0m29 1h0m-73 5h0m20 0h0m10 5h0m15-6h0m51 1h0m73 1h0m-200 7h0m3 0h0m68 4h0m6 1h0m11-4h0m5 2h0m50 0h0m-148 8h0m18-1h0m0 3h0m50-6h0m3 3h0m1 0h0m230 1h0m-183 11h0m188-4h0m9 4h0m-321 8h0m4 0h0m8-3h0m2-1h0m22 2h0m12-3h0m44 0h0m19 0h0m118 2h0m88 2h0m1-5h0m-306 11h0m8-4h0m58 2h0m32-2h0m96 7h0m11-3h0m19 1h0m67-5h0m27 1h0m-311 10h0m234-3h0m32 6h0m22-1h0m14 1h0m10 1h0m-347 4h0m51-2h0m33-1h0m167 0h0m7 4h0m37 1h0m7-5h0m15 6h0m12 0h0m1-1h0m-338 8h0m7-4h0m91 4h0m40 1h0m49-5h0m93 5h0m2-6h0m5 3h0m9 1h0m7 2h0m3-4h0m4-2h0m1 5h0m12-4h0m0 4h0m7 0h0m9-2h0m1 0h0m7 1h0m-342 10h0m44-4h0m11 4h0m29-1h0m70-5h0m116 3h0m0 3h0m1-3h0m1 2h0m9-3h0m0 2h0m9 2h0m1-6h0m7 3h0m5 2h0m11 2h0m9 0h0m-342 5h0m32 0h0m14-2h0m92 0h0m1 0h0m87 2h0m26 0h0m40 3h0m8 0h0m7-6h0m9 2h0m5 1h0m7 2h0m9-1h0m15 2h0m-355 7h0m2-5h0m0 3h0m2 0h0m54-1h0m59-1h0m26 2h0m66-1h0m43 4h0m13-6h0m26 0h0m24 3h0m1 2h0m19-4h0m0 2h0m2-1h0m11 1h0m1-4h0m3 3h0m-362 10h0m2-2h0m8 1h0m86 0h0m18 3h0m1-2h0m4-1h0m8-2h0m11-1h0m10 4h0m5-2h0m44-2h0m16 5h0m36-2h0m4 0h0m6-4h0m1 0h0m10 1h0m9 0h0m36 4h0m7-5h0m38 2h0m-297 9h0m16 1h0m5 3h0m36-7h0m24 0h0m38 4h0m53 0h0m10 2h0m23-5h0m7 0h0m8 6h0m18-2h0m55-5h0m25 4h0m-384 11h0m9-6h0m4 2h0m66 3h0m61 0h0m2-3h0m36 4h0m4 0h0m18-3h0m20 0h0m19-1h0m15 4h0m8-1h0m5-6h0m31 6h0m-300 3h0m50 2h0m25 0h0m23-1h0m25-1h0m3 5h0m2-4h0m16 3h0m4 1h0m72-1h0m37 1h0m6-1h0m17-4h0m53-1h0m-340 14h0m9 1h0m2 0h0m6-5h0m37-1h0m25 6h0m46-2h0m11 0h0m29-5h0m1 7h0m2-4h0m46 1h0m9 2h0m30 1h0m12-6h0m3 1h0m16 5h0m7-2h0m104 2h0m-339 1h0m16 0h0m18 0h0m11 4h0m38 2h0m11-4h0m26 0h0m3-1h0m5 5h0m7-2h0m1 1h0m7-2h0m9 3h0m3 0h0m16-1h0m35-5h0m5 2h0m2 0h0m44 5h0m-240 2h0m43 6h0m7-3h0m9-4h0m1 6h0m54 1h0m22-4h0m3 1h0m2-3h0m9 0h0m3 5h0m20-4h0m1 2h0m17-3h0m9-1h0m8 2h0m60-1h0m-323 7h0m22 3h0m5 1h0m82 1h0m13 0h0m59-2h0m4 2h0m10-5h0m9 5h0m12-3h0m9 1h0m6 0h0m29-3h0m-269 10h0m70 1h0m7 0h0m68 4h0m2-3h0m2 2h0m36 0h0m3-4h0m8 0h0m29-2h0m142 0h0m-373 15h0m2-6h0m45 1h0m17 5h0m6-2h0m27-2h0m2 4h0m21-4h0m0 4h0m14-5h0m20 3h0m22 1h0m9 1h0m3-4h0m6 1h0m11 2h0m4-6h0m3 4h0m23 3h0m32-2h0m56-2h0m-326 11h0m1 0h0m5-2h0m0 2h0m2-2h0m21-4h0m14 3h0m24-3h0m49 5h0m4-1h0m2 2h0m14-6h0m4 1h0m9 1h0m6 3h0m13-4h0m4 5h0m7-4h0m13-1h0m30 2h0m166 2h0m-387 6h0m7 2h0m11-1h0m53 3h0m9-6h0m20 2h0m5-2h0m2 4h0m3 2h0m4-4h0m25 1h0m4-4h0m5 0h0m6 7h0m7-3h0m1-4h0m1 3h0m7 0h0m3 2h0m17-1h0m98-1h0m30 3h0m-260 8h0m8 0h0m8-3h0m11-2h0m13 0h0m26 3h0m15-1h0m12 2h0m28-3h0m1 1h0m6-3h0m44 5h0m27-4h0m24 3h0m-287 5h0m90 1h0m20-1h0m1 6h0m17-1h0m1 0h0m8 0h0m3 0h0m47-5h0m8-1h0m18 4h0m13-1h0m34-1h0m13 4h0m45 0h0m25-2h0m-327 7h0m73-3h0m6 3h0m0-1h0m10 3h0m1 2h0m1-4h0m9 0h0m3 4h0m6-5h0m65 0h0m0 2h0m2-2h0m9-1h0m8 6h0m3-6h0m120 2h0m-267 5h0m9 5h0m11-5h0m12 2h0m5 3h0m18-3h0m3 1h0m3 3h0m28-3h0m9 3h0m12-4h0m106 2h0m-282 10h0m8 1h0m5-3h0m45 2h0m5-1h0m21 2h0m2-3h0m6-2h0m3 3h0m6-4h0m4 4h0m6 2h0m30-1h0m20-4h0m8 3h0m26-2h0m18 3h0m7-5h0m132 2h0m41-3h0m-385 14h0m11-2h0m17 2h0m1-3h0m4 2h0m10-1h0m6 0h0m24 3h0m3-7h0m24 6h0m10 1h0m11-3h0m59-2h0m4 2h0m27-1h0m5 3h0m2-3h0m2 2h0m17-2h0m23 0h0m35 4h0m91-6h0m-381 12h0m2 0h0m43-3h0m2 1h0m11 2h0m18-2h0m5 1h0m2-4h0m37 0h0m11 0h0m2 3h0m10 3h0m74-5h0m19 6h0m9-4h0m20-1h0m-271 10h0m9-4h0m27 3h0m10-2h0m18 6h0m3-7h0m6 0h0m6 0h0m10 2h0m37 2h0m35 0h0m18 0h0m29 1h0m9-2h0m3-2h0m4 5h0m-207 4h0m57 1h0m88 1h0m3-1h0m6-1h0m8 4h0m46-1h0m46-5h0m28 1h0m11-1h0m3 1h0m3 5h0m-315 4h0m3-1h0m1 6h0m15-4h0m2 4h0m3-7h0m30 2h0m20 1h0m12-3h0m15 7h0m48-3h0m19 0h0m31 3h0m9-1h0m4-2h0m19 0h0m13-4h0m25 1h0m38 2h0m6-1h0m15 0h0m46-1h0m-388 14h0m16-4h0m18 3h0m21 0h0m11-6h0m40 0h0m31 1h0m5 5h0m15-3h0m17 4h0m31-6h0m5 0h0m8 2h0m3-2h0m64 4h0m2 1h0m17-1h0m40 0h0m57 2h0m-400 3h0m16 0h0m24-2h0m8 1h0m1 0h0m20-1h0m39 6h0m1 1h0m37-2h0m3-2h0m10 1h0m29-1h0m44-2h0m5 5h0m0-1h0m55 2h0m4-1h0m69-2h0m8-3h0m20 4h0m3 1h0m-391 2h0m22 0h0m8 6h0m5-2h0m18 3h0m23-5h0m35 4h0m11-5h0m29-1h0m12 5h0m7 2h0m17-6h0m18 2h0m5 4h0m15-7h0m5 2h0m17-2h0m23 0h0m12 5h0m20-3h0m0 1h0m1 3h0m6 1h0m19-3h0m6 2h0m7-2h0m0-1h0m2 2h0m4-3h0m3-1h0m1 5h0m27 0h0m3-3h0m-385 7h0m28 5h0m27-6h0m6 3h0m94-3h0m9-1h0m57 0h0m98 4h0m9-2h0m3-1h0m23 0h0m14 5h0m8 1h0m2-4h0m18-2h0m9 2h0m-361 7h0m71 0h0m33 1h0m5 0h0m53 2h0m62-3h0m2-1h0m31 0h0m10-1h0m12 6h0m39-6h0m6 3h0m13-2h0m15 1h0m0 4h0m8-6h0m-335 10h0m84 4h0m5-2h0m21-1h0m28 0h0m6-1h0m46 3h0m16-5h0m1 7h0m31-5h0m96-1h0m-335 12h0m251-4h0m26 6h0m24-7h0m14 4h0m10-2h0m-324 6h0m183 7h0m95-3h0m61-4h0m-283 8h0m90 1h0m69-1h0m-124 11h0m-2 9h0m16 3h0m17 1h0m9 35h0" stroke="#0000ff" stroke-width="7.20" stroke-linecap="round"/><path d="M1031 1393h0m17 5h0m1-1h0m1-1h0m8 3h0m-46 6h0m13-1h0m11-3h0m1 6h0m1 0h0m6-3h0m-16 4h0m0 6h0m1-2h0m32-4h0m23 1h0m-82 9h0m13-1h0m6 2h0m1 1h0m10-4h0m3 5h0m14 2h0m7-5h0m-43 10h0m4-2h0m3 2h0m3 1h0m3-1h0m2 0h0m2-3h0m1 6h0m4-6h0m-53 7h0m15 6h0m21-1h0m8-1h0m2-1h0m2-3h0m4 1h0m0-1h0m10 3h0m13-2h0m-87 10h0m6 1h0m35 3h0m2-2h0m5-1h0m3-1h0m3 3h0m17-4h0m2-1h0m-65 12h0m1-3h0m23 4h0m6 0h0m0 1h0m6-4h0m2-3h0m2 3h0m3 2h0m5-3h0m8 1h0m0 3h0m25-4h0m16 0h0m1-1h0m-121 7h0m11 1h0m31 6h0m5-3h0m2 3h0m5-2h0m2 0h0m0-5h0m5 5h0m3 1h0m21-6h0m5 1h0m-102 14h0m6-2h0m12-1h0m4 1h0m23-3h0m7 0h0m3-1h0m24 1h0m2 1h0m11 0h0m2-1h0m4 1h0m1-2h0m14 0h0m88 1h0m-202 12h0m24-2h0m27-3h0m10 0h0m6 0h0m11 2h0m6-2h0m5 0h0m4-1h0m17 2h0m-91 8h0m20 2h0m4 2h0m3-5h0m5 2h0m14 2h0m10-5h0m1 5h0m7-4h0m13 6h0m7-4h0m16-1h0m-133 9h0m8-2h0m18 2h0m29-3h0m3 5h0m11 0h0m3-4h0m3 6h0m4-3h0m14 2h0m9 0h0m11-4h0m39 5h0m97-2h0m-232 6h0m20-3h0m34 2h0m5 1h0m11-1h0m1 1h0m12 2h0m17 0h0m14-5h0m-139 11h0m49-3h0m10 7h0m11-2h0m22 0h0m2-3h0m20 0h0m15 5h0m140-1h0m6-2h0m12 3h0m26-5h0m2 5h0m-227 1h0m46 5h0m133-4h0m15-1h0m8 5h0m8-3h0m1 5h0m5-1h0m14 1h0m2-3h0m1-2h0m7 5h0m-341 4h0m88 4h0m7-5h0m4 3h0m146-4h0m29 0h0m0 4h0m21 1h0m15-5h0m8 0h0m5 6h0m4-4h0m1-1h0m4 5h0m2-3h0m0 3h0m-325 3h0m1 5h0m7-6h0m4 0h0m58 4h0m34-4h0m16 6h0m17 0h0m116-6h0m11-1h0m6 4h0m20 0h0m1-1h0m5-1h0m0-1h0m3 2h0m6 3h0m4 0h0m10 0h0m3-6h0m0 3h0m1 0h0m2 3h0m1-4h0m2-2h0m4 2h0m0-1h0m-345 8h0m10 2h0m24-1h0m0 3h0m37-2h0m19 1h0m33-3h0m146 2h0m16 2h0m5 1h0m1-2h0m30-1h0m2 3h0m1-6h0m5 6h0m4 0h0m3 1h0m2-7h0m4 5h0m-353 3h0m70 1h0m5 3h0m48-1h0m10-2h0m138-1h0m20 3h0m0 3h0m19-6h0m1 5h0m6-4h0m8 1h0m1-1h0m13 5h0m5-4h0m1 1h0m9 4h0m-356 4h0m3-3h0m17 3h0m13-3h0m27 6h0m27-1h0m31 2h0m155-4h0m1 4h0m32-2h0m2 2h0m3-1h0m4-5h0m0 5h0m16 0h0m2-5h0m2 4h0m10-3h0m7 2h0m4-2h0m-369 10h0m1-1h0m4 1h0m83-4h0m1 6h0m21-3h0m70-3h0m68 7h0m27-6h0m15 0h0m8 5h0m5 1h0m4-2h0m1-3h0m1 3h0m15 2h0m7-2h0m3 0h0m4-5h0m1 3h0m6-1h0m24 4h0m-369 9h0m6-2h0m122-5h0m95 5h0m11 1h0m37-3h0m5 3h0m11-5h0m2-1h0m1 3h0m1 1h0m2-3h0m4 6h0m25-3h0m6-2h0m4-2h0m3 6h0m22 0h0m-337 8h0m31-3h0m12-3h0m8 6h0m1 0h0m2 0h0m23-4h0m42-2h0m72 2h0m28 5h0m2-5h0m15 4h0m13-3h0m1 3h0m16 0h0m10-6h0m3 3h0m28 0h0m6 1h0m35 0h0m-383 8h0m23-2h0m4 2h0m31-4h0m11 7h0m2-4h0m27-3h0m25 6h0m2 1h0m7 0h0m20-4h0m28 0h0m21-2h0m20 0h0m14-1h0m14 5h0m4 2h0m4-2h0m11-5h0m1 0h0m0 7h0m3-2h0m0 2h0m2-5h0m22-2h0m2 7h0m-298 2h0m13 0h0m23 5h0m19-3h0m10 1h0m39 0h0m3 3h0m40-1h0m5-1h0m37 1h0m48 0h0m5-3h0m9 3h0m5 0h0m3-1h0m34 0h0m12-3h0m5-1h0m25-1h0m-319 11h0m80 0h0m7 2h0m21-4h0m25-1h0m10 4h0m49 3h0m17 0h0m15-4h0m15 1h0m1 1h0m11-4h0m16 0h0m98 1h0m-387 9h0m25 2h0m50-4h0m7 0h0m5 0h0m30 4h0m7-2h0m59 3h0m15 0h0m2 0h0m4-1h0m12 1h0m16-6h0m5 5h0m5-2h0m7-2h0m13 1h0m17-1h0m9-1h0m8 0h0m-285 15h0m27-2h0m27-1h0m24-3h0m22 3h0m1 1h0m5 2h0m47-4h0m2 0h0m2 2h0m9-3h0m9 3h0m5-2h0m5 2h0m1-2h0m10 3h0m12-5h0m1 4h0m0 2h0m0-1h0m7-4h0m2 0h0m6 1h0m2-3h0m28 0h0m27 0h0m-292 9h0m11 3h0m14 3h0m20-5h0m16 2h0m0-1h0m54 4h0m9-4h0m4 0h0m28 4h0m5-5h0m7 1h0m8-1h0m5 2h0m5 2h0m3-2h0m9 1h0m9-2h0m7 1h0m6 2h0m4-6h0m3 6h0m24-6h0m0 2h0m12-1h0m62 2h0m4 3h0m55-1h0m-389 7h0m9 0h0m1-3h0m4 1h0m52 5h0m18-7h0m4 3h0m46 2h0m2-2h0m10-1h0m4 3h0m8-5h0m9 7h0m0-3h0m4 3h0m2-1h0m6-1h0m3-4h0m7 0h0m11 1h0m0 1h0m13 1h0m25-1h0m1 1h0m16-2h0m44-1h0m-291 10h0m44-2h0m50 1h0m23-1h0m1 0h0m13 6h0m10-5h0m2-2h0m2 4h0m6 0h0m6-1h0m5 3h0m5-3h0m6 1h0m0 3h0m2-1h0m0-5h0m11 3h0m8 3h0m6-3h0m14 1h0m7-2h0m5-1h0m10 3h0m-241 6h0m3-3h0m8 6h0m5-2h0m64-2h0m9 1h0m22 0h0m19 3h0m2-4h0m9-1h0m6 5h0m1-4h0m1 1h0m5 3h0m2-4h0m7 4h0m4-6h0m0 4h0m8-2h0m8 5h0m22-6h0m1 5h0m21-4h0m67 1h0m6-2h0m56 3h0m-353 6h0m10 3h0m62-5h0m25 6h0m2-4h0m20 4h0m3 0h0m4-2h0m2 2h0m5-3h0m6 2h0m24-5h0m1 6h0m2 1h0m9-7h0m6 2h0m9 0h0m23 0h0m3-2h0m1 2h0m36 2h0m-249 7h0m15 1h0m27 3h0m13-4h0m9 3h0m2-4h0m11 2h0m4 1h0m1-1h0m6 3h0m6-4h0m12 0h0m1 1h0m5 0h0m1 1h0m5 2h0m8-3h0m2 3h0m7 0h0m1-4h0m3-3h0m2 1h0m15 2h0m3-3h0m8 6h0m11-2h0m5 1h0m5 2h0m6-3h0m10-2h0m58 0h0m86 3h0m18-4h0m-374 11h0m39-1h0m5-1h0m16 3h0m9 2h0m13-4h0m3-3h0m19 1h0m4 4h0m12-1h0m6-3h0m1 6h0m2-1h0m1-1h0m9 0h0m0 2h0m9-4h0m0 4h0m7-7h0m2 5h0m2-3h0m3 3h0m5 1h0m6-6h0m1 1h0m6 0h0m7 6h0m4-5h0m10 5h0m41-6h0m2 4h0m8-5h0m54 2h0m55 4h0m-370 3h0m6 3h0m1 1h0m8 0h0m6-2h0m25-3h0m17 7h0m5-2h0m16-5h0m0 3h0m5 0h0m2 1h0m6 2h0m3-6h0m2 0h0m1 3h0m3 0h0m1 1h0m1 2h0m4-2h0m1 1h0m17 1h0m5-2h0m3 0h0m5-2h0m2 5h0m0-7h0m8 0h0m12 4h0m10 2h0m11-1h0m15 2h0m1 0h0m4-6h0m2 6h0m4-2h0m11 1h0m19 0h0m105-2h0m2-2h0m15 5h0m-361 7h0m2 0h0m10-6h0m21 6h0m3-6h0m2 2h0m3 5h0m8-6h0m12 1h0m4 4h0m0-6h0m3 3h0m1 4h0m1-1h0m2-6h0m2 2h0m4 1h0m1 1h0m9-3h0m1-1h0m6 1h0m3-1h0m4 2h0m6 1h0m4 1h0m1 1h0m3-1h0m7-1h0m1 0h0m2 1h0m1 2h0m3-4h0m0 3h0m7 1h0m7-5h0m5 6h0m2-1h0m8-6h0m10 6h0m14-4h0m2-2h0m22 6h0m5-5h0m1 6h0m8-1h0m25 1h0m148-3h0m-391 4h0m25 7h0m4 0h0m23-2h0m10 0h0m1 0h0m9 0h0m0-1h0m1-2h0m7 0h0m0-2h0m1 4h0m1 3h0m1-5h0m1 2h0m3-2h0m0 4h0m2-2h0m2 3h0m0-2h0m7-1h0m2 0h0m5 3h0m2-1h0m16-5h0m1 1h0m2-1h0m4 1h0m2 1h0m7 3h0m4 0h0m4-2h0m3-1h0m2 1h0m10-4h0m48 1h0m5 4h0m12-5h0m3 0h0m129 2h0m-354 11h0m3 0h0m2-1h0m0-1h0m25 3h0m9 1h0m6 0h0m14-7h0m14 5h0m3-3h0m3 3h0m3 1h0m9 0h0m4-4h0m3 1h0m1 1h0m1-4h0m9 5h0m10-4h0m3 0h0m1 0h0m3 3h0m2 2h0m0-4h0m3 3h0m14-4h0m6 1h0m12-1h0m15 3h0m2-3h0m6 2h0m13 2h0m1-5h0m7 7h0m140 0h0m-358 2h0m0-1h0m10 4h0m22 3h0m3 0h0m0-5h0m11 0h0m0 5h0m14 0h0m1-7h0m1 6h0m0-3h0m7-3h0m0 4h0m6 2h0m4-2h0m2 3h0m2-1h0m12-2h0m3 3h0m3-6h0m2 1h0m2 5h0m0-2h0m1-3h0m1-1h0m2 2h0m2-1h0m5-1h0m6 3h0m5 0h0m1 3h0m12-7h0m5 2h0m0 4h0m0-5h0m9 6h0m15-5h0m34 4h0m3-6h0m5 2h0m93-1h0m-305 10h0m3 3h0m3-5h0m11 3h0m2-4h0m3 0h0m3 3h0m2 3h0m2-5h0m5 5h0m2-2h0m2-1h0m0 4h0m1-1h0m1 0h0m1-6h0m7 4h0m4-1h0m1-2h0m7 0h0m5 4h0m2 2h0m3-2h0m1 1h0m11-3h0m1-2h0m2-1h0m2 1h0m1 6h0m4-6h0m3 5h0m3 1h0m0-1h0m0-1h0m6 0h0m0-2h0m9 1h0m6 0h0m0-2h0m8 5h0m2-4h0m2 2h0m1-3h0m1-2h0m8 5h0m12 0h0m12-5h0m17 0h0m2 1h0m8 5h0m18-4h0m30 1h0m2 1h0m15-4h0m5 2h0m22 3h0m-278 5h0m2-2h0m6 0h0m1 5h0m3-4h0m1 4h0m9-4h0m16 5h0m5-2h0m10 1h0m6-4h0m4 4h0m0-5h0m1 2h0m2 4h0m3-1h0m1 2h0m0-4h0m3 0h0m1-3h0m0 2h0m10-2h0m10 0h0m7 0h0m1 5h0m5-2h0m1-2h0m13 0h0m2 1h0m2 2h0m3-3h0m17 2h0m10-1h0m1 4h0m1-4h0m10 3h0m8-1h0m5 1h0m33-4h0m2 1h0m2 4h0m5 0h0m9-6h0m8 5h0m1 2h0m14-4h0m3 4h0m3 0h0m-267 8h0m0-7h0m31 4h0m1-4h0m5 5h0m8-1h0m3-1h0m5-3h0m15 2h0m0-2h0m1 5h0m6 2h0m2-5h0m6 5h0m1-4h0m13-3h0m1 5h0m2 2h0m10 0h0m8-6h0m2 6h0m2 0h0m3-6h0m6 1h0m9 0h0m4 1h0m12-2h0m11-1h0m35 0h0m10 3h0m6-3h0m24 7h0m35-5h0m59 2h0m-324 6h0m15 4h0m8-3h0m11-3h0m2 4h0m11 0h0m4 1h0m2-1h0m9 1h0m1 2h0m21-5h0m7 2h0m2 1h0m38-3h0m4 1h0m1-1h0m15 4h0m6-4h0m5-1h0m4 0h0m1 4h0m3 2h0m1-6h0m3 6h0m12 0h0m1-6h0m26 5h0m28-4h0m65-2h0m20 5h0m-338 3h0m7 1h0m6 2h0m6 1h0m1 3h0m7-7h0m10 2h0m15 4h0m7-5h0m1-1h0m5 2h0m1 0h0m2-1h0m2 5h0m6 1h0m42-7h0m1 3h0m11 0h0m22-3h0m1 1h0m10 2h0m27 2h0m18-2h0m5 2h0m8 2h0m1-3h0m11-1h0m17 0h0m11 1h0m6 2h0m75 1h0m-344 6h0m2 1h0m12-1h0m4-2h0m8-3h0m7 5h0m2-2h0m9-2h0m6 4h0m4-5h0m28 4h0m18-3h0m1 3h0m3 0h0m2-3h0m2 6h0m13-6h0m15 1h0m14 0h0m4-2h0m4 3h0m48 4h0m3 0h0m31-5h0m14 1h0m11 2h0m11-2h0m8 4h0m15-2h0m13-5h0m0 7h0m16 0h0m19-7h0m24 0h0m2 2h0m1-2h0m12 7h0m3-7h0m3 5h0m-402 6h0m70 1h0m28-4h0m6 4h0m15 0h0m1 2h0m4-5h0m19 1h0m1-1h0m12-1h0m2 1h0m0-1h0m22 0h0m1 3h0m19 0h0m13 3h0m37 0h0m23-6h0m15 7h0m6-1h0m12-5h0m43-1h0m17 4h0m38-3h0m3 6h0m-382 6h0m10-1h0m6-4h0m27 0h0m12 1h0m32 0h0m99 5h0m17 1h0m81-5h0m30 2h0m13 0h0m9 1h0m5-2h0m7 1h0m25-2h0m6 3h0m1-1h0m-348 8h0m10-3h0m155 6h0m3 0h0m56 0h0m21-5h0m48 3h0m8-3h0m0 4h0m16 0h0m6-2h0m3-2h0m3 5h0m3-6h0m1 0h0m1 6h0m5-7h0m1 7h0m3-3h0m16-2h0m0-2h0m4 0h0m1 6h0m-324 4h0m13 3h0m45-1h0m49-2h0m37 4h0m45-1h0m23-4h0m56 4h0m5-4h0m1 2h0m1 0h0m0-3h0m2 5h0m11 2h0m2-1h0m14-6h0m0 3h0m2-1h0m8 4h0m0-2h0m1 3h0m-153 7h0m48-1h0m29-2h0m5-2h0m34 4h0m1-4h0m15 0h0m5-1h0m12 0h0m10 2h0m-276 10h0m48-2h0m112 0h0m79-2h0m6 4h0m9-4h0m10 1h0m-67 13h0m37 0h0m4-3h0m-237 12h0m26-3h0m32-4h0m21 0h0m-54 10h0m113 8h0" stroke="#ff0000" stroke-width="7.20" stroke-linecap="round"/></g>
<g fill="none" transform="scale(0.25)"><path d="M1826 1384h0m27 4h0m-31 9h0m10 1h0m4-3h0m-38 6h0m36 1h0m11 5h0m-50 3h0m8 2h0m0-1h0m4-2h0m21 0h0m52 3h0m2 1h0m-107 6h0m16 2h0m5 0h0m22 1h0m32-6h0m-77 9h0m11 4h0m12-3h0m7 5h0m6-3h0m2 3h0m3-4h0m7 4h0m2-3h0m60-2h0m-131 9h0m4-1h0m35 5h0m1-1h0m21 0h0m1-5h0m2 3h0m3-4h0m21 7h0m41-2h0m-120 7h0m1-1h0m16 4h0m2-5h0m2-2h0m0 4h0m0 1h0m14 2h0m13-6h0m1 3h0m6-4h0m14 2h0m6 1h0m-90 12h0m52 0h0m5-4h0m12-2h0m6-1h0m58 6h0m43 0h0m-132 5h0m0 4h0m4-6h0m3-1h0m17 5h0m8 0h0m11-1h0m5 3h0m-111 4h0m4 3h0m2-3h0m1 1h0m11 2h0m3 1h0m27-5h0m15 5h0m11-2h0m0-1h0m4-4h0m18 0h0m17 0h0m12 3h0m-129 12h0m10-5h0m31 5h0m19-3h0m11-3h0m16 2h0m7 0h0m-106 11h0m11 0h0m9-2h0m5-1h0m3-3h0m5 5h0m11-4h0m0 2h0m88 4h0m115-4h0m13 1h0m-269 11h0m12 0h0m2-3h0m6-2h0m31 3h0m16-4h0m4-1h0m23 0h0m14 0h0m41 6h0m13 0h0m33-2h0m-186 7h0m1 1h0m34-1h0m21-3h0m10 5h0m8-4h0m9 2h0m14 3h0m158 1h0m28-1h0m-287 7h0m8-3h0m25 3h0m14-1h0m4 1h0m7-1h0m33 1h0m9-5h0m1 5h0m54 1h0m8-2h0m106-3h0m18 6h0m21-4h0m22 1h0m-343 7h0m12-1h0m38 0h0m0 2h0m10-1h0m7-2h0m9 1h0m21 5h0m19-1h0m15-6h0m11 6h0m119 1h0m24-4h0m7-3h0m14 1h0m10 2h0m11-1h0m2 2h0m8 2h0m-342 8h0m6-6h0m49 3h0m0-1h0m4-1h0m2 1h0m1-1h0m25 0h0m5 2h0m10-2h0m18-1h0m3 6h0m8 1h0m1-1h0m21-1h0m131 2h0m22-4h0m2 1h0m4 2h0m1 1h0m6-4h0m1-1h0m0 3h0m9-2h0m5-2h0m15 0h0m-362 14h0m8-5h0m4-1h0m2 1h0m23 3h0m11-4h0m15 1h0m14 2h0m46-3h0m9 1h0m8 0h0m27 5h0m28-3h0m10 1h0m28-1h0m5-3h0m28-1h0m13 5h0m45-1h0m8-2h0m9 0h0m-329 7h0m32-1h0m6 2h0m14-2h0m34 5h0m17-3h0m14-1h0m39 2h0m8 3h0m6 1h0m28 0h0m47-1h0m35-2h0m1 2h0m24-1h0m21-5h0m9 0h0m6 4h0m3-2h0m-362 12h0m3-1h0m9 1h0m13-4h0m15-1h0m12 3h0m34 3h0m5-4h0m4-3h0m18 1h0m5 1h0m9-1h0m8 2h0m14-3h0m38 5h0m0 2h0m25-7h0m26 2h0m39-1h0m5 3h0m8 1h0m4 1h0m17-3h0m14-2h0m5 2h0m11 3h0m17-6h0m-357 15h0m4-1h0m16-2h0m24-1h0m36-2h0m5 4h0m13-5h0m4 7h0m8 0h0m24-2h0m27 1h0m9-1h0m34 1h0m22-3h0m46-2h0m1 4h0m19-3h0m24-2h0m19 1h0m2 0h0m-345 13h0m9-2h0m37-3h0m4 6h0m13-1h0m8-2h0m25-2h0m3 2h0m29 0h0m24-4h0m11 7h0m0-5h0m78 5h0m2-4h0m5-1h0m23 3h0m1-3h0m7-2h0m18 0h0m9 4h0m9-3h0m12-1h0m31 6h0m-357 8h0m74-5h0m10 3h0m28 2h0m20-5h0m4 4h0m1 2h0m11-2h0m3 1h0m3-1h0m2 0h0m13-4h0m8-1h0m10 5h0m17 1h0m2 1h0m1 0h0m36 0h0m3-1h0m14-5h0m4 0h0m1 1h0m1-1h0m1 3h0m52 1h0m-334 5h0m17-2h0m7 4h0m52-1h0m10 2h0m1 1h0m15 1h0m2-2h0m8 0h0m2-3h0m11 4h0m9-1h0m5-2h0m0-1h0m14 4h0m11-4h0m7 1h0m24 4h0m22-1h0m0-6h0m11 0h0m17 7h0m8-7h0m17 7h0m1-6h0m2 0h0m15 6h0m1-7h0m12 4h0m18-4h0m35 1h0m-359 9h0m12 5h0m7-2h0m7-2h0m31 4h0m35 0h0m31-1h0m38-3h0m28 3h0m6-2h0m29-4h0m11 6h0m5 0h0m55-5h0m11 4h0m1-4h0m4-1h0m16 2h0m7 2h0m13 3h0m4-3h0m3-1h0m8-3h0m-353 10h0m8 4h0m22 1h0m0-5h0m29-1h0m9 5h0m11-4h0m8 2h0m11 2h0m5 1h0m11-3h0m1-1h0m4 4h0m5-2h0m16 2h0m17-7h0m26 3h0m4 0h0m33 0h0m1 0h0m1 4h0m10-6h0m8 3h0m24 3h0m37-2h0m-311 8h0m8-5h0m8 2h0m2 2h0m60-3h0m32 2h0m9 1h0m5 2h0m1-6h0m23 5h0m16 0h0m26 1h0m2-1h0m6-1h0m2 3h0m8-5h0m10 5h0m26-2h0m0-2h0m3 4h0m6-4h0m9 3h0m26-5h0m5 6h0m4 0h0m19-1h0m-307 7h0m12 2h0m1-4h0m4-3h0m16 5h0m13-2h0m2 3h0m22-6h0m11 2h0m8 1h0m30-2h0m18 2h0m43-2h0m11 0h0m3 4h0m0-2h0m3-2h0m0 4h0m2 0h0m10-3h0m13 3h0m78-2h0m52 4h0m-367 4h0m1 4h0m3-5h0m15 1h0m31 0h0m6 2h0m7-2h0m15 4h0m1-6h0m9 5h0m7-6h0m67 1h0m10 5h0m10-5h0m15 3h0m13 0h0m3 1h0m35-2h0m49 0h0m5 0h0m34 0h0m-324 7h0m6 3h0m3 2h0m1-1h0m6-4h0m61-2h0m13 5h0m3-5h0m26 1h0m13 2h0m42-2h0m9 5h0m24 0h0m18-6h0m5 5h0m0-1h0m8 3h0m5 0h0m12-1h0m21-6h0m3 4h0m8 3h0m-278 5h0m4 1h0m6 0h0m10-5h0m17 5h0m21-5h0m27 3h0m7-1h0m15 3h0m32-5h0m19 6h0m26-1h0m2-4h0m21 5h0m3 1h0m14-4h0m6 4h0m38-6h0m2-1h0m20 2h0m3 5h0m56-1h0m-328 9h0m52-2h0m35-1h0m5-3h0m2 1h0m7-1h0m17 4h0m4 1h0m1-2h0m6 2h0m3 1h0m3-2h0m22-3h0m3 5h0m13-7h0m20 3h0m34 0h0m12 2h0m37 2h0m46-1h0m11-3h0m0-1h0m-315 10h0m14 2h0m28-5h0m14 4h0m3 1h0m5 1h0m11-2h0m17 1h0m44-1h0m23 2h0m0-5h0m8-1h0m7 3h0m15 2h0m13-5h0m41 0h0m19 4h0m58-5h0m12 1h0m-391 7h0m15 6h0m29-1h0m3-3h0m17-2h0m2 2h0m6 4h0m13-5h0m10 4h0m20-1h0m12-3h0m5 1h0m2 1h0m4-2h0m8 2h0m1 1h0m4 3h0m23-6h0m1 6h0m7-1h0m59-2h0m0 1h0m-248 6h0m93-2h0m10 3h0m33-3h0m15-1h0m38 0h0m20 0h0m24 1h0m11 5h0m25-4h0m2 1h0m15 1h0m54 3h0m27 0h0m-356 5h0m41 3h0m4-2h0m31-5h0m0 4h0m20-1h0m0-2h0m23 2h0m2 1h0m20 2h0m3 0h0m5-4h0m42-2h0m43 7h0m0-6h0m39 2h0m8 3h0m21-6h0m6 1h0m5 4h0m3-3h0m8 3h0m11 2h0m-334 2h0m63 5h0m4-1h0m26 0h0m13-1h0m9-2h0m1-2h0m66 7h0m64-7h0m3 3h0m3 4h0m3-7h0m19 7h0m102-3h0m-384 6h0m3-1h0m7 2h0m67 3h0m3 1h0m10 0h0m9-4h0m2-2h0m2-1h0m10 2h0m9 4h0m10-3h0m5 0h0m2-3h0m11 7h0m0-6h0m5 3h0m3-4h0m101 3h0m79 3h0m26 0h0m21-4h0m-390 12h0m27-6h0m2 4h0m29 0h0m2-2h0m55 4h0m15-1h0m18 0h0m130-2h0m-277 9h0m7-4h0m0 2h0m4 4h0m19-4h0m19-1h0m8 1h0m1 1h0m13-1h0m31 2h0m13 0h0m0 2h0m13-2h0m14 2h0m1-5h0m53 6h0m11-4h0m7-3h0m21 7h0m76-7h0m64 0h0m-372 8h0m7 5h0m1-1h0m1-1h0m2 0h0m29 0h0m22 3h0m48 0h0m15-3h0m22-3h0m44 3h0m43-3h0m15 2h0m106 4h0m-362 6h0m9-3h0m22 6h0m24-7h0m45 3h0m0 2h0m4 0h0m10-5h0m1 0h0m15 5h0m3 0h0m0-5h0m11 4h0m11 0h0m55-2h0m-205 13h0m10-7h0m58 5h0m5-2h0m42-1h0m115 1h0m39-2h0m25 3h0m88 1h0m-382 9h0m14 0h0m3-3h0m4-1h0m10 4h0m25-4h0m2 4h0m7-6h0m3 0h0m86 0h0m8 0h0m2 4h0m12 2h0m1-3h0m24-1h0m9-2h0m10 4h0m53 3h0m18-4h0m4-2h0m24 0h0m-312 10h0m2-3h0m50 4h0m1-1h0m17-1h0m28-2h0m0 7h0m56-4h0m11 4h0m15-2h0m49 1h0m17-5h0m63 3h0m-323 9h0m35-4h0m30 5h0m2 1h0m39-7h0m4 5h0m22-3h0m1 0h0m39 5h0m7-4h0m2 0h0m4 2h0m39-5h0m3 5h0m2 0h0m64 1h0m6-4h0m55 0h0m2 3h0m9-3h0m-274 13h0m13-1h0m13-6h0m16 4h0m5 3h0m12-5h0m21 1h0m6 4h0m12-5h0m116 0h0m28 0h0m25 2h0m16 2h0m12 1h0m2-1h0m3-5h0m3 1h0m-357 7h0m16-1h0m76 0h0m16 5h0m10-1h0m1 1h0m15 0h0m4 1h0m7-3h0m76 0h0m2 4h0m27-4h0m3 4h0m28-4h0m7 0h0m19 3h0m7 1h0m1-2h0m6-4h0m13 0h0m19-1h0m2 5h0m18 2h0m-398 4h0m8 2h0m14-1h0m18 2h0m5-5h0m71 2h0m14 3h0m4-6h0m28 6h0m17-3h0m17 3h0m33-6h0m19 5h0m1-2h0m19-2h0m38-1h0m8 2h0m15 3h0m13 0h0m3 1h0m1-1h0m3 0h0m4 0h0m-327 3h0m25 5h0m1-5h0m19 1h0m82 6h0m1-1h0m114-6h0m6 6h0m13 1h0m18-3h0m37-3h0m5 3h0m4-1h0m1-3h0m14 0h0m23 1h0m6 6h0m-354 1h0m6 2h0m3 5h0m17-4h0m20-1h0m103 2h0m57 2h0m9-4h0m31 5h0m4-6h0m10-1h0m16 3h0m53-1h0m-320 7h0m6 4h0m6-3h0m16 0h0m172-1h0m22 2h0m82 4h0m40-1h0m3-1h0m-112 6h0m82 0h0m-327 5h0m26 2h0m18-1h0m66 4h0m140 2h0m-119 14h0m6 0h0m2-4h0m-60 15h0m92 6h0m23 4h0m-36 6h0" stroke="#0000ff" stroke-width="7.20" stroke-linecap="round"/><path d="M1828 1383h0m10-4h0m-19 16h0m2 1h0m1 2h0m7-1h0m2 2h0m9-4h0m8 2h0m-51 3h0m2 4h0m5 0h0m1 0h0m4-2h0m2 3h0m3 1h0m5-1h0m3 1h0m16-4h0m2 2h0m24-2h0m4 0h0m4 0h0m-92 11h0m5-1h0m10-2h0m0 4h0m2-6h0m3 3h0m2 0h0m6 3h0m18-2h0m15 2h0m-67 9h0m7-3h0m2 1h0m15-1h0m2 3h0m3-4h0m2-3h0m2 1h0m2 4h0m3 2h0m4-1h0m7-2h0m3-3h0m0 1h0m4 3h0m13 2h0m-86 8h0m22-6h0m6 3h0m7-4h0m10 2h0m2 1h0m5 3h0m2-5h0m4 5h0m3-3h0m6 2h0m3-1h0m4 1h0m0 1h0m-73 4h0m10 0h0m4 1h0m1 2h0m9-5h0m1 1h0m2 0h0m2 4h0m14-1h0m3 1h0m0 1h0m1-6h0m1 0h0m0 1h0m4 5h0m1 1h0m15-3h0m3-2h0m2-1h0m6-1h0m2 3h0m3-1h0m22-1h0m-113 12h0m2-1h0m0-1h0m19 3h0m6 0h0m3-3h0m5 2h0m6 0h0m4-3h0m7-2h0m4 3h0m12-2h0m0 4h0m1-5h0m6 3h0m4 1h0m8 2h0m-102 8h0m4 1h0m20-3h0m5 3h0m9-2h0m3 2h0m8-2h0m4-3h0m0 2h0m10 1h0m1-3h0m2 3h0m1-4h0m10 5h0m5-1h0m6 1h0m46-2h0m1-1h0m-134 8h0m5 0h0m6 3h0m17-6h0m5 2h0m1 2h0m7 3h0m9-2h0m0 1h0m4 0h0m5-6h0m7 1h0m5 3h0m14-2h0m3 0h0m12-1h0m7 2h0m1-3h0m105 5h0m-211 9h0m27-1h0m21 1h0m5-4h0m1 5h0m8-1h0m8-6h0m3 6h0m8-6h0m0 4h0m27-1h0m30 1h0m59-4h0m-218 8h0m4 2h0m11-1h0m7 3h0m11 2h0m3-4h0m12 3h0m25 0h0m0 2h0m7-4h0m1-2h0m3 4h0m12-1h0m19 0h0m5 3h0m4-6h0m17-1h0m9 5h0m2-3h0m85-1h0m-239 11h0m5-1h0m1-3h0m26 4h0m13 0h0m2 3h0m3-3h0m13 3h0m5-7h0m7 6h0m3 0h0m3-5h0m0 3h0m24 1h0m12-1h0m0 2h0m33 0h0m8-4h0m-167 13h0m3-6h0m30 4h0m15-1h0m4-2h0m11-1h0m6 4h0m1-2h0m5-1h0m7 1h0m26-2h0m1 1h0m1-1h0m9 5h0m30-2h0m85 0h0m47 0h0m15 2h0m-302 9h0m14-2h0m74-3h0m28-1h0m0 2h0m7-3h0m112 2h0m48 4h0m19 0h0m10-3h0m-319 10h0m14 0h0m4-5h0m10 2h0m24 1h0m14-3h0m26 6h0m5 0h0m6 0h0m7 0h0m5-1h0m20-2h0m6-1h0m47 5h0m30-7h0m56 0h0m12 1h0m6 3h0m9 2h0m4-2h0m8-3h0m7 1h0m7 2h0m6 0h0m11 1h0m-342 10h0m17-7h0m4 1h0m1 0h0m18 6h0m30-7h0m17 4h0m7-2h0m13 4h0m4-3h0m31-1h0m6 4h0m1 0h0m1-3h0m14 3h0m87-3h0m17-1h0m7 0h0m6 5h0m4-4h0m3 1h0m1-1h0m6-3h0m9 5h0m1 0h0m6-3h0m1 1h0m4-1h0m1 1h0m12 4h0m12-3h0m-353 10h0m19-6h0m25 4h0m9-3h0m5-1h0m7 0h0m5 2h0m44 4h0m1 1h0m9-1h0m5-6h0m2 6h0m5-1h0m18 1h0m9-1h0m0-5h0m11 2h0m8 4h0m17-1h0m40 0h0m3-2h0m49 3h0m5-5h0m2 5h0m0-3h0m2 0h0m2 2h0m8-4h0m1 0h0m3 4h0m5-5h0m0 4h0m4-1h0m0 2h0m3 2h0m1 0h0m3-7h0m15 7h0m0-7h0m4 6h0m-347 8h0m2 1h0m14-4h0m13-2h0m20 0h0m7 3h0m8-4h0m0 1h0m1-1h0m5 2h0m17-2h0m15 4h0m13-1h0m9-3h0m6 3h0m53-2h0m2-1h0m89 0h0m5 5h0m4-1h0m4-3h0m2 4h0m4-1h0m10 3h0m10-7h0m0 3h0m0 3h0m11 1h0m3-4h0m7-1h0m4-2h0m2 4h0m0-1h0m6 4h0m6-3h0m-362 7h0m6 0h0m5-2h0m4 6h0m3-1h0m3-6h0m11 3h0m24-2h0m7-1h0m36 2h0m10 4h0m2-1h0m27 0h0m9-4h0m35 5h0m46-3h0m26 1h0m2 1h0m5 2h0m21-2h0m8-1h0m3-3h0m9-1h0m10 6h0m1 1h0m0-5h0m1 3h0m1-4h0m1 0h0m6 0h0m2-1h0m1 2h0m1 1h0m15 3h0m3-1h0m-341 3h0m16 2h0m3 4h0m40-1h0m24-2h0m16 0h0m13-2h0m9 1h0m15 3h0m19-1h0m21-1h0m43 2h0m62-4h0m12 3h0m4 1h0m11 2h0m3-2h0m6-5h0m5 1h0m5 0h0m3-1h0m1 3h0m2 4h0m0-1h0m10-2h0m-350 11h0m6-4h0m35 3h0m12-4h0m3-1h0m0 1h0m1-1h0m2 4h0m0-5h0m1 6h0m14-2h0m2 2h0m28-5h0m4 1h0m1 3h0m4 1h0m8-1h0m4-2h0m25 1h0m1 2h0m20 0h0m59-1h0m26-1h0m0 1h0m30 1h0m5 0h0m6 1h0m0-5h0m3 2h0m9 1h0m9 2h0m2-4h0m12-3h0m1 7h0m2-4h0m16-3h0m-362 14h0m3-5h0m6 2h0m0-1h0m7 1h0m12 2h0m19-4h0m11 0h0m2 4h0m3 2h0m5-7h0m2 7h0m10-4h0m6 1h0m3-3h0m0 2h0m8-3h0m2 7h0m9-6h0m10-1h0m10 3h0m5-3h0m6 5h0m7-1h0m3-4h0m10 0h0m6 2h0m11 3h0m18-5h0m9 6h0m41-1h0m13-3h0m9 5h0m2-4h0m11 0h0m1 3h0m9-2h0m4-3h0m4 2h0m0-1h0m8-2h0m2 5h0m3-3h0m18 2h0m17-4h0m2 6h0m2-1h0m-357 8h0m2-1h0m57 0h0m22 3h0m31-7h0m1 0h0m25 4h0m14 3h0m13-1h0m4-3h0m1 4h0m1 0h0m5-1h0m23-2h0m47 0h0m3-1h0m22 4h0m7-3h0m3-4h0m6 2h0m2 1h0m26 4h0m2-2h0m9-4h0m14 1h0m5 1h0m5-2h0m2-1h0m2 3h0m20 3h0m7 1h0m-385 6h0m10-2h0m12 0h0m17 2h0m44-5h0m1 0h0m13 2h0m4 5h0m3-4h0m7 3h0m9 1h0m1-1h0m9 0h0m1-4h0m2-1h0m1 6h0m16-6h0m9 5h0m26-6h0m8 0h0m2 2h0m17-1h0m2 3h0m12-2h0m10 5h0m3-7h0m10 5h0m5-5h0m6 6h0m3-4h0m19 0h0m46-2h0m10 2h0m7 4h0m-340 3h0m4-1h0m5 7h0m0-7h0m12 2h0m18-2h0m13 7h0m3-1h0m12-3h0m22 1h0m7 1h0m6-1h0m3-3h0m9 2h0m2-3h0m4 2h0m4 3h0m20-4h0m9 5h0m35-4h0m26 3h0m8-2h0m4 4h0m23 0h0m5-2h0m5-3h0m1 0h0m2 2h0m7-1h0m2 0h0m2 2h0m0-3h0m3-2h0m17 4h0m17-1h0m12-1h0m4 4h0m12-1h0m10-4h0m15 3h0m3 0h0m-372 10h0m19-3h0m19-1h0m56-1h0m5-1h0m16 0h0m4 7h0m9-3h0m2 2h0m2 1h0m8-5h0m8-2h0m20 0h0m6 4h0m7-2h0m7-1h0m13 4h0m4-2h0m2 4h0m15 0h0m11-7h0m1 4h0m4 2h0m1-6h0m2 5h0m9-5h0m2 2h0m7-1h0m5 4h0m7-5h0m1 4h0m5 3h0m13-3h0m1-2h0m25 0h0m1 1h0m8 1h0m0-4h0m28 7h0m6-6h0m-358 8h0m1 6h0m13-7h0m63 2h0m5 0h0m35-2h0m1 0h0m3 5h0m21-5h0m1 4h0m19 2h0m5-3h0m3 4h0m2-3h0m6-3h0m4 6h0m5-1h0m3-4h0m1-1h0m20 3h0m8-4h0m9 1h0m8 3h0m9-2h0m12-1h0m1 0h0m2 2h0m7 2h0m40 1h0m6 0h0m26-5h0m-341 14h0m9-2h0m5-3h0m0 2h0m0 3h0m2-3h0m55-4h0m1 7h0m6-2h0m16-2h0m0 3h0m2-2h0m7 0h0m10 1h0m2 2h0m4-5h0m29-2h0m2 5h0m1 1h0m7-1h0m12-3h0m9-1h0m10-1h0m1 7h0m5-3h0m22-2h0m8-2h0m7 5h0m1-3h0m6-1h0m16 6h0m0-2h0m4 1h0m18 1h0m42-7h0m45 6h0m4-4h0m-359 11h0m4-3h0m17 1h0m2 2h0m29 2h0m3 0h0m25 0h0m44-3h0m18 3h0m1-4h0m9 4h0m7 0h0m0-4h0m7 0h0m4 4h0m8-1h0m1-6h0m10 2h0m2 2h0m7 2h0m3 0h0m7-2h0m1-2h0m2-2h0m32 3h0m36 3h0m7-1h0m9-4h0m30 5h0m2-5h0m-348 14h0m25 0h0m23-5h0m2-2h0m5 0h0m24 2h0m24 4h0m6-4h0m4 3h0m9 0h0m2 0h0m14-1h0m23 2h0m3-2h0m3-3h0m7-1h0m1 6h0m19 0h0m2 1h0m2-4h0m14 3h0m5-1h0m7-1h0m18-4h0m11 6h0m24-2h0m25 1h0m1-4h0m2 6h0m23-2h0m52 0h0m20 1h0m-399 8h0m11-1h0m6 1h0m14-3h0m18 2h0m17-1h0m7 1h0m11-2h0m8 3h0m9 0h0m8-5h0m20 6h0m5-3h0m0-1h0m1-2h0m10 0h0m1 4h0m14-3h0m6-2h0m2 1h0m0 5h0m1-3h0m32 3h0m17-6h0m15 5h0m0 2h0m9 0h0m5-1h0m1-4h0m28 1h0m7 2h0m3 1h0m17-6h0m11 6h0m42-1h0m4-3h0m-361 9h0m1 0h0m7-3h0m15 4h0m3-2h0m24-1h0m3-1h0m0 3h0m1 2h0m13-3h0m7 1h0m2-2h0m5 6h0m8-5h0m3 5h0m25-1h0m30-4h0m20 2h0m6-2h0m1 0h0m14 3h0m25-3h0m7 0h0m12-1h0m22 4h0m11-1h0m101 3h0m11-1h0m-376 2h0m6 4h0m1-3h0m7 2h0m18-1h0m29-2h0m5 0h0m7 4h0m5-2h0m12 2h0m0-3h0m8 3h0m4 3h0m2-3h0m2-4h0m7 4h0m4 2h0m16-5h0m9 0h0m9 1h0m15 4h0m9-5h0m5 0h0m12 5h0m10-2h0m1 3h0m3-5h0m7 3h0m10-1h0m1-1h0m41 1h0m17 2h0m5 1h0m9-5h0m7-2h0m13 6h0m17-3h0m28 4h0m4-3h0m1-1h0m8-1h0m-375 7h0m5-1h0m9 3h0m11-3h0m33 5h0m3 1h0m14-2h0m1-3h0m27 0h0m2 0h0m0 3h0m3-1h0m2-3h0m3 4h0m3-1h0m2 1h0m12-2h0m8 2h0m1 2h0m0 1h0m14-2h0m5 0h0m5-4h0m16 1h0m0 3h0m1 2h0m7 0h0m18-2h0m10-3h0m64 5h0m22-2h0m2-3h0m13 1h0m15-3h0m8 5h0m-329 8h0m13-1h0m54-1h0m12-2h0m2-1h0m6 6h0m3-6h0m12 3h0m4-3h0m7 7h0m1-5h0m1 3h0m6 1h0m2-3h0m0 3h0m2-1h0m11 2h0m11-6h0m13 0h0m9 2h0m1 3h0m6-4h0m12 1h0m11-1h0m2 2h0m6-2h0m25 3h0m89-3h0m3-1h0m6 1h0m16 2h0m11-3h0m13 5h0m-367 3h0m6 6h0m6-5h0m19 4h0m5-1h0m11-4h0m5 4h0m3-4h0m2 1h0m6 5h0m5-6h0m2 2h0m1-2h0m1 2h0m6-1h0m10 2h0m4 3h0m13 0h0m7-3h0m1-1h0m4 2h0m1-2h0m8-3h0m0 4h0m2-1h0m0-2h0m10-1h0m2 4h0m9 1h0m7-1h0m2 1h0m43-3h0m30 2h0m10-3h0m12 5h0m130-4h0m-391 6h0m3 4h0m3-3h0m2-1h0m3 7h0m17-5h0m8 3h0m0 2h0m24-7h0m0 2h0m5 2h0m0-1h0m22 3h0m0-5h0m1 5h0m4-6h0m8 7h0m5-3h0m5 0h0m2 3h0m1 0h0m3-1h0m1 1h0m6-7h0m5 7h0m3-4h0m1-2h0m6-1h0m8 5h0m8 2h0m6-4h0m6 4h0m2-7h0m2 1h0m8 0h0m4 6h0m52-7h0m54 5h0m1 0h0m17-1h0m14 2h0m42 0h0m16 0h0m-389 6h0m5-3h0m1 2h0m10-2h0m5 2h0m1 3h0m3-5h0m7-1h0m17 2h0m4 0h0m6 0h0m1-1h0m3 6h0m2-2h0m13 0h0m2 1h0m9 1h0m2-1h0m1-6h0m2 0h0m6 1h0m4 0h0m9 0h0m6 0h0m9 1h0m2-2h0m5 6h0m12-4h0m5-1h0m11 5h0m11-5h0m26-1h0m17 5h0m51-1h0m69-1h0m22-1h0m-360 7h0m10 3h0m6 3h0m0-1h0m12-2h0m5-4h0m1 5h0m6 1h0m2-2h0m3-1h0m6 3h0m18-1h0m3 1h0m5-4h0m0 1h0m0 3h0m6 1h0m8-5h0m4 5h0m0-1h0m2-3h0m7 4h0m2-5h0m1-1h0m4 4h0m3-3h0m1-1h0m0 4h0m4-1h0m1-4h0m12 2h0m9 0h0m6 0h0m15 2h0m0 2h0m14-4h0m74-2h0m10 3h0m57 2h0m8-5h0m29 2h0m-353 6h0m7 6h0m15-6h0m10 4h0m2-2h0m3 3h0m0-5h0m10 2h0m2 2h0m7-1h0m7 4h0m5 0h0m1-1h0m11-5h0m2 0h0m5 6h0m8 0h0m2-6h0m3-1h0m4 1h0m2 0h0m2-1h0m0 2h0m1-2h0m0 7h0m3-7h0m3 2h0m2 2h0m4-4h0m1 4h0m5 3h0m5-4h0m3-3h0m11 5h0m2-4h0m23 1h0m25 0h0m10 5h0m40-4h0m21 0h0m43 1h0m24 2h0m27-5h0m-362 11h0m3 2h0m3-5h0m2-1h0m8 3h0m4-1h0m8 0h0m2 5h0m4-4h0m4 2h0m5 2h0m3-2h0m4-1h0m12 2h0m1 0h0m14-4h0m3 3h0m10-3h0m3 0h0m1 1h0m0 2h0m3 2h0m1-3h0m2-4h0m1 5h0m0-1h0m3-2h0m3-1h0m1 5h0m6-5h0m4 5h0m0-2h0m23 0h0m3 2h0m6 1h0m8-6h0m-154 7h0m2 6h0m2-5h0m10 4h0m0 2h0m5-1h0m7-6h0m2 5h0m6 2h0m9-1h0m1-6h0m0 3h0m2-1h0m2 0h0m6-1h0m6 0h0m2 5h0m3-1h0m19 2h0m5 0h0m1 0h0m0-6h0m1 6h0m13-7h0m6 0h0m4 5h0m26 1h0m3-4h0m17 4h0m3-1h0m9-5h0m33 2h0m62 4h0m1 1h0m69-4h0m-338 6h0m1 6h0m9-7h0m1 0h0m6 7h0m10-6h0m3 2h0m4-3h0m5 4h0m2-3h0m3 1h0m3 1h0m7 0h0m8 3h0m1-5h0m8 1h0m2 1h0m0 2h0m1 2h0m1-6h0m0 5h0m5-1h0m9-5h0m2 0h0m1 5h0m7-4h0m4-1h0m2 1h0m5 5h0m8-4h0m5 0h0m5 4h0m8 0h0m6-1h0m3 1h0m1-6h0m2 2h0m15 4h0m6-6h0m13 6h0m64-6h0m2 7h0m34 0h0m-283 5h0m2-1h0m3 2h0m1-4h0m9 0h0m6 6h0m8 0h0m9-6h0m1 5h0m1-1h0m11-4h0m2 5h0m2-6h0m3 7h0m17-1h0m3-5h0m17 2h0m30-2h0m39 4h0m6-4h0m7 1h0m45 3h0m25-5h0m16 4h0m36-1h0m54 2h0m31-5h0m-383 14h0m15-3h0m15 1h0m7 3h0m13-7h0m2 1h0m9 4h0m2 0h0m5-5h0m4 1h0m9 3h0m1-2h0m9 0h0m16-2h0m20 2h0m7 4h0m4-2h0m12-3h0m8 4h0m37-3h0m5 2h0m23 1h0m9-3h0m6 2h0m30 0h0m4-2h0m5 1h0m15-2h0m22 4h0m54 2h0m-322 1h0m9 0h0m3 5h0m10-5h0m13 2h0m6-1h0m8 4h0m7-4h0m1 4h0m14 1h0m47-4h0m0 3h0m22-1h0m47 0h0m15 3h0m9-2h0m21-2h0m3-1h0m34-2h0m2 0h0m8 3h0m72 2h0m-407 5h0m17 4h0m4 0h0m19-6h0m13 3h0m3-3h0m5 6h0m1-1h0m2 2h0m7-6h0m21 5h0m0-5h0m80 5h0m17-2h0m38-2h0m46 0h0m18 5h0m28-6h0m20 3h0m7 0h0m3 3h0m23-2h0m3 0h0m3 2h0m0-3h0m3-3h0m2 5h0m2-5h0m2 6h0m2 0h0m6-6h0m2 2h0m-402 12h0m50-4h0m6 0h0m1-2h0m27 4h0m4-4h0m1 6h0m4-6h0m25-1h0m44 4h0m55-4h0m8 4h0m22-4h0m13 7h0m0-3h0m1 1h0m15-1h0m2-1h0m8 2h0m17-5h0m21 4h0m13-3h0m7 3h0m24-3h0m11 5h0m10 0h0m3 1h0m6-5h0m4 1h0m0-3h0m8 4h0m1-1h0m-380 10h0m56-4h0m14 2h0m15 0h0m5-3h0m12 1h0m44 5h0m6-3h0m4-3h0m7 3h0m13 3h0m56-2h0m26-1h0m4-2h0m30 3h0m1-2h0m35 1h0m1 0h0m2 4h0m5-3h0m1 3h0m5-1h0m2-6h0m8 5h0m3 0h0m1-1h0m0 2h0m4-4h0m30-1h0m-376 10h0m73 0h0m42-2h0m62 1h0m19 3h0m26-3h0m26 1h0m1 0h0m9 4h0m34-2h0m4-3h0m3 0h0m7-1h0m8 6h0m12-4h0m3-2h0m9 5h0m12-1h0m10-4h0m1 5h0m4-2h0m5 2h0m-338 9h0m64-6h0m1 5h0m40-3h0m62-2h0m77-1h0m42 6h0m3-6h0m10 7h0m24-5h0m18 1h0m-314 6h0m88 6h0m58-6h0m35 5h0m37-3h0m49-1h0m9 4h0m19-3h0m10 4h0m9-2h0m-274 3h0m86 3h0m37 2h0m8 2h0m79-2h0m34 2h0m-196 3h0m125 0h0m66-2h0m-170 11h0m37 4h0m24-4h0m15-2h0m-9 8h0m30 4h0m-77 8h0m-40 13h0m29 0h0m12 7h0" stroke="#ff0000" stroke-width="7.20" stroke-linecap="round"/><path d="M1810 1402h0m3 3h0m6-2h0m6 2h0m5 2h0m0-6h0m1 2h0m35 3h0m-77 7h0m21-1h0m17-1h0m1 2h0m-58 10h0m17 0h0m4-6h0m14 0h0m1 1h0m8-2h0m21 6h0m15 0h0m10 0h0m-65 4h0m3 3h0m3-4h0m7-1h0m26 2h0m-85 13h0m12-3h0m15 1h0m2 0h0m1-1h0m5-4h0m20 2h0m22 5h0m17-3h0m0 2h0m17-1h0m14-5h0m-127 13h0m44-3h0m6 4h0m11-2h0m3-4h0m12 0h0m1 6h0m2-3h0m-82 9h0m61 2h0m10 0h0m2 0h0m1-5h0m13 0h0m55 4h0m-157 6h0m2-1h0m2 3h0m8 2h0m4-6h0m1 6h0m23-6h0m15 5h0m24-3h0m3 0h0m7-2h0m-95 11h0m3 3h0m24 0h0m2-5h0m36 3h0m6-5h0m1 6h0m8-5h0m68 3h0m78 3h0m-236 8h0m7-2h0m20 2h0m44-6h0m2 0h0m2 0h0m8 6h0m5-3h0m17-1h0m60 1h0m95 0h0m-235 6h0m22 2h0m41-4h0m24 4h0m150 1h0m22 0h0m-294 8h0m56-3h0m21 2h0m18-3h0m16-1h0m54 5h0m103-4h0m24 5h0m-288 5h0m16-3h0m3 1h0m23-1h0m52 5h0m36-4h0m169 3h0m-296 4h0m1 1h0m2 5h0m7-1h0m44 1h0m27 0h0m11 1h0m39-6h0m100 4h0m17 0h0m53 2h0m-323 7h0m53-1h0m20-4h0m1 6h0m9-6h0m11 0h0m3 6h0m6-3h0m97-3h0m83 4h0m31-5h0m2 5h0m1-2h0m9 3h0m10-1h0m-334 4h0m7 5h0m6 0h0m19-1h0m11-3h0m15 5h0m8-6h0m9 0h0m16 0h0m9 4h0m28 1h0m2 0h0m41-2h0m16 1h0m12 0h0m5 2h0m96 0h0m5-7h0m11 1h0m10 6h0m2-4h0m-279 5h0m14 6h0m10-5h0m49 2h0m26-1h0m13 0h0m25 0h0m7-1h0m64 5h0m27-4h0m1 2h0m3 0h0m25-2h0m5 0h0m2 1h0m9 3h0m-346 8h0m6-3h0m83-2h0m3 6h0m4-2h0m21-2h0m74 3h0m26-3h0m23 1h0m44 1h0m14-5h0m4 1h0m7 5h0m-294 8h0m2-5h0m3 6h0m11-6h0m20 5h0m14 1h0m24-4h0m12-3h0m11 6h0m37-3h0m6-1h0m3 5h0m45-4h0m20-1h0m73 4h0m28 0h0m9-3h0m-335 9h0m11 3h0m1-6h0m6 1h0m50 4h0m32-6h0m13 2h0m9 2h0m1 2h0m24-6h0m10 3h0m39 4h0m75-5h0m42 2h0m-322 8h0m0-2h0m11-2h0m0 1h0m2-1h0m1 4h0m3 3h0m41-3h0m1 3h0m4-7h0m29 5h0m9 2h0m17-1h0m3-5h0m27 3h0m58-4h0m17 4h0m13-2h0m1 4h0m10-6h0m32 3h0m7 3h0m7-4h0m9-1h0m6 3h0m0-3h0m20 4h0m20-5h0m3 4h0m16 0h0m-357 8h0m46 0h0m42 0h0m13-4h0m16 3h0m12 3h0m19-6h0m0 4h0m5 1h0m8-3h0m1 0h0m54 4h0m17-3h0m34 1h0m44 0h0m2-1h0m12-2h0m24 0h0m-372 9h0m14 5h0m1-3h0m17-1h0m1-1h0m30 4h0m1-4h0m2 1h0m5 0h0m2-2h0m17 1h0m8-2h0m8 6h0m11-5h0m6 4h0m6-4h0m32 0h0m22 1h0m5 4h0m4-2h0m2 1h0m7-1h0m18-4h0m30 5h0m11 0h0m2 0h0m5-2h0m21 0h0m2 2h0m6-4h0m1 3h0m11 0h0m-305 10h0m40-1h0m50 0h0m27-4h0m37 6h0m2-2h0m96-2h0m10 3h0m4-1h0m4-2h0m5-2h0m1 6h0m88-6h0m-282 8h0m23 5h0m54-1h0m3-4h0m9-1h0m18 1h0m22 3h0m7 2h0m0-2h0m13 0h0m1-4h0m6 4h0m30 2h0m24 0h0m-239 9h0m8-2h0m1-1h0m11 1h0m21-3h0m0 4h0m35-4h0m60 5h0m43-7h0m8 7h0m7-1h0m11-5h0m27 4h0m59-4h0m3 4h0m-349 4h0m6 0h0m2 2h0m39-2h0m11 3h0m6 2h0m30-6h0m10 3h0m56 3h0m18-1h0m8 2h0m11-7h0m3 6h0m18-2h0m21-4h0m20 4h0m89 2h0m13-6h0m-363 10h0m6 4h0m83-2h0m30 1h0m9 0h0m22-5h0m6 1h0m51 4h0m7 1h0m9-4h0m13 3h0m4 0h0m6 2h0m10-2h0m9-5h0m12 0h0m82 1h0m19 4h0m-372 10h0m43-5h0m10 5h0m16-1h0m67 1h0m8-1h0m1 1h0m21-3h0m3-2h0m10 2h0m1-1h0m13-1h0m5 0h0m5 4h0m9-4h0m87-1h0m8 1h0m-328 6h0m77 0h0m53 1h0m9 6h0m9 0h0m28 0h0m5 0h0m42-4h0m9-3h0m23 2h0m11-1h0m20 5h0m-284 6h0m14 0h0m42-3h0m52-1h0m42 5h0m16-2h0m4 4h0m3-2h0m9-2h0m25 1h0m17 2h0m14 1h0m12-2h0m42-3h0m28 5h0m13-4h0m15 0h0m-332 8h0m14-3h0m11 4h0m10-4h0m53 3h0m26 2h0m2 2h0m39-4h0m1 2h0m2 2h0m10-4h0m2 3h0m21-1h0m17 0h0m3 2h0m11-4h0m44 0h0m-257 11h0m21 1h0m53-3h0m68 2h0m20-6h0m52 1h0m35 0h0m23-1h0m-220 15h0m21-4h0m7 0h0m1 3h0m2-5h0m17 1h0m13 4h0m5-1h0m31-3h0m16-1h0m28 5h0m100-6h0m-323 12h0m9 2h0m2-5h0m48 1h0m5 3h0m22-1h0m21 2h0m8-4h0m18 2h0m4 0h0m1-3h0m21 0h0m10 6h0m36-7h0m22 7h0m3-5h0m41-2h0m26 1h0m61 6h0m27-4h0m-382 9h0m13 2h0m5-5h0m9 5h0m7-3h0m1-2h0m46 0h0m33-1h0m9 1h0m21-1h0m5 5h0m29-3h0m4 0h0m36 3h0m0-2h0m55 3h0m37-3h0m45 4h0m-357 7h0m11 0h0m58 1h0m8-7h0m6 6h0m15 1h0m0-5h0m30 3h0m12 0h0m9-2h0m9-1h0m95 1h0m21-2h0m37 6h0m80-5h0m-380 8h0m6 1h0m69 2h0m0 2h0m6-2h0m16 0h0m4 2h0m0-2h0m5-2h0m25-2h0m24 2h0m16 3h0m55-4h0m54 1h0m35 2h0m28-2h0m-347 5h0m5 0h0m0 4h0m7 0h0m4-4h0m6 1h0m9 1h0m16-1h0m19 0h0m3 4h0m21-2h0m10-3h0m13 4h0m17 3h0m0-1h0m2-6h0m7 7h0m28-6h0m83 4h0m2-1h0m66 2h0m-321 7h0m24-4h0m15 6h0m27 0h0m50-4h0m4-2h0m48 2h0m10-2h0m172 5h0m-337 2h0m3 7h0m1-6h0m33 3h0m48-2h0m13-1h0m27 0h0m81 5h0m56-3h0m-259 9h0m7-3h0m31 1h0m4 1h0m15 2h0m2 1h0m25-5h0m96 4h0m58-3h0m8 5h0m52 0h0m33 0h0m29-2h0m-318 8h0m39 1h0m39-2h0m16 3h0m25-7h0m15 2h0m6 3h0m3-1h0m25 2h0m83 0h0m-314 5h0m1 3h0m41-4h0m102 1h0m8 1h0m63-3h0m57 0h0m40 4h0m18 1h0m27 1h0m13-2h0m17-3h0m-385 8h0m3 0h0m15 1h0m79 3h0m10-3h0m34 2h0m5 2h0m13-6h0m16-1h0m52 6h0m27-2h0m21 1h0m2 1h0m17 0h0m46-3h0m8-2h0m9 2h0m2 2h0m-342 9h0m1-6h0m5 2h0m12 3h0m80-5h0m102 1h0m20 5h0m12-2h0m24-2h0m26-2h0m20 3h0m14 4h0m13-3h0m24-2h0m21-2h0m9 1h0m-390 12h0m8-1h0m17 1h0m18-4h0m17 5h0m1-2h0m20-2h0m13 5h0m30-7h0m3 4h0m36-2h0m17 1h0m38 4h0m2-3h0m10-1h0m83-2h0m2 2h0m4 1h0m36 2h0m8-3h0m3 1h0m1 3h0m1-1h0m10-2h0m0-1h0m-372 8h0m39 3h0m5-3h0m33 3h0m11 1h0m17 0h0m32-7h0m21 6h0m4-6h0m4 1h0m15 4h0m57-4h0m79 0h0m12 5h0m19 1h0m4-6h0m-289 7h0m35 0h0m62 2h0m50 0h0m69 4h0m24-6h0m1 5h0m15-5h0m58 5h0m-302 9h0m28-3h0m28 3h0m3-6h0m90 4h0m33-1h0m86-3h0m34 6h0m-319 6h0m82-2h0m5 4h0m67 1h0m91-6h0m62 4h0m21-4h0m-319 12h0m107-2h0m58-3h0m105 1h0m4 3h0m-193 4h0m142 3h0m30-1h0m-126 11h0m24-3h0m15 3h0m27-5h0m-72 8h0m22 7h0m-1 10h0m25 2h0m-52 13h0" stroke="#0000ff" stroke-width="7.20" stroke-linecap="round"/><path d="M1827 1381h0m1 8h0m10 0h0m3-2h0m6 2h0m-46 6h0m2 3h0m4 1h0m7-6h0m2 5h0m2-3h0m4 1h0m1 0h0m2-1h0m2-2h0m11 3h0m1-1h0m-44 7h0m4-2h0m12 2h0m3 4h0m5-1h0m2-1h0m0 2h0m8-3h0m15 2h0m1-5h0m6 5h0m-57 9h0m2-4h0m8 2h0m1 2h0m13-2h0m11-2h0m17 4h0m2-3h0m3-2h0m15 6h0m-98 8h0m9-1h0m8-3h0m6 2h0m3-1h0m2 1h0m9-4h0m6 0h0m1 3h0m10-4h0m13 1h0m7 6h0m-64 6h0m10-5h0m19 2h0m4-1h0m1 6h0m1-2h0m3-2h0m6-2h0m6 6h0m30-7h0m-94 12h0m8 2h0m1-3h0m9-3h0m2 6h0m6 1h0m5-4h0m8 0h0m5 2h0m0 2h0m3 0h0m11-2h0m12-2h0m-85 10h0m10-2h0m2 0h0m11 3h0m2-3h0m6-2h0m1 5h0m23-4h0m1 5h0m1-5h0m14 4h0m1-3h0m1-3h0m0 2h0m2-1h0m2 3h0m7-2h0m3-2h0m0 6h0m7 0h0m33-5h0m29-1h0m-156 15h0m26-3h0m1 1h0m2-3h0m1 3h0m1 0h0m13 2h0m5 0h0m1-4h0m5 3h0m2-3h0m9 2h0m1-3h0m5 2h0m8 3h0m12-4h0m9 2h0m15 1h0m-132 4h0m1 3h0m1-5h0m8 6h0m10-5h0m11 0h0m7-1h0m3 4h0m15-3h0m9 6h0m5-4h0m1-1h0m2 2h0m4-3h0m3 4h0m40 1h0m9 1h0m-131 2h0m0-1h0m3 7h0m22-7h0m18 5h0m2-4h0m8 3h0m3-2h0m11 0h0m3 2h0m3 1h0m10-2h0m7 2h0m-105 8h0m5 0h0m12 0h0m3-4h0m22 6h0m9-2h0m0-1h0m4 3h0m2-1h0m9 1h0m13-7h0m8 0h0m18 5h0m52 1h0m58-1h0m-190 7h0m24 3h0m2-2h0m7-2h0m11 4h0m10-5h0m1-1h0m2 2h0m16 4h0m108 0h0m73 0h0m-292 8h0m6-2h0m4-2h0m28-1h0m6 5h0m1-7h0m39 4h0m1 2h0m1 0h0m1-1h0m20-1h0m3 3h0m7-3h0m-117 9h0m13-1h0m14-1h0m7 2h0m19-5h0m28 7h0m12-3h0m12 0h0m31-4h0m129 1h0m30-1h0m22 2h0m-317 7h0m2 5h0m1-5h0m1 4h0m1-4h0m1 1h0m2-1h0m5 3h0m56-3h0m3 6h0m7 0h0m31 0h0m10-5h0m20 0h0m2 3h0m25-4h0m78 5h0m14-2h0m9-1h0m14 4h0m14-3h0m8 3h0m13 0h0m2 0h0m6 0h0m2-3h0m2-3h0m-344 12h0m3-5h0m6 6h0m7-2h0m19-2h0m7-1h0m17 6h0m1 0h0m40-3h0m5-2h0m4 0h0m24-1h0m5 5h0m1 1h0m5 0h0m7-1h0m112-3h0m5-2h0m18 2h0m5-3h0m4 5h0m2-4h0m1 1h0m4-2h0m10 5h0m1-5h0m3 3h0m3 3h0m0-3h0m15 2h0m1 1h0m0-1h0m4-5h0m0 3h0m4 4h0m1-2h0m-341 6h0m12 1h0m29-1h0m3 3h0m4-1h0m1 1h0m32-5h0m1 6h0m1-3h0m4-4h0m17 7h0m2-6h0m19 3h0m7-2h0m7 0h0m7-1h0m13 3h0m27-1h0m7 0h0m65-1h0m2 3h0m6-1h0m13 0h0m4-2h0m2 5h0m11-7h0m3 7h0m1 0h0m6-7h0m4 0h0m1 7h0m2-7h0m2 4h0m8 3h0m1 0h0m8-5h0m2 0h0m1 0h0m4-1h0m1 2h0m7 1h0m-352 4h0m1 0h0m0 5h0m37 1h0m18 1h0m3-2h0m21-2h0m2 1h0m0-1h0m26 4h0m8-7h0m0 3h0m12-1h0m7-2h0m13 2h0m12 1h0m15 2h0m93-1h0m15-2h0m5 5h0m8-2h0m1-3h0m0-1h0m5 4h0m1 1h0m2-1h0m0-5h0m15 7h0m5-7h0m10 6h0m-307 3h0m40 5h0m0-1h0m5 0h0m43 1h0m5-5h0m16 1h0m18-1h0m22 1h0m57 4h0m7 1h0m3-2h0m32-3h0m3-1h0m3 3h0m0 3h0m4-5h0m6 2h0m17-4h0m10 6h0m0-5h0m14 5h0m1-5h0m6 2h0m3-2h0m-361 9h0m3 3h0m3-3h0m11 3h0m9-1h0m3 0h0m16 1h0m16-2h0m21 2h0m25-4h0m9 2h0m9 3h0m4-2h0m22 0h0m32-4h0m2 6h0m55-1h0m45-2h0m2 3h0m5-1h0m6-3h0m14 5h0m6 0h0m0-5h0m13 0h0m3-1h0m-334 11h0m0-3h0m1 4h0m3-3h0m18-1h0m31 0h0m15 3h0m30-3h0m5 4h0m6 1h0m4-5h0m9-1h0m18 0h0m9 6h0m40-1h0m4 2h0m3 0h0m17-7h0m23 7h0m5-3h0m24 2h0m10-2h0m5 2h0m6-6h0m2 2h0m13 2h0m6-4h0m12 0h0m13 5h0m5 0h0m1 1h0m30-2h0m-356 6h0m0 5h0m3-5h0m2 5h0m10-1h0m3 1h0m9-1h0m14 1h0m1-6h0m16 2h0m0 2h0m12-5h0m1 7h0m4-4h0m6 2h0m11-3h0m17-1h0m6 4h0m3-3h0m27-2h0m2 6h0m0-6h0m20 7h0m7-6h0m52 1h0m15-2h0m1 4h0m18 3h0m7 0h0m4-7h0m21 0h0m63 3h0m-371 12h0m7-3h0m7-4h0m19 7h0m2-4h0m19 0h0m17 3h0m4-2h0m3 1h0m14-2h0m8-2h0m1-1h0m7 6h0m35-1h0m8-4h0m7 2h0m75-3h0m16 1h0m5 2h0m5-2h0m25 3h0m6-3h0m15-1h0m9 1h0m11 0h0m16 6h0m18-6h0m-368 14h0m3 0h0m3-1h0m14 1h0m59-1h0m2-3h0m18-1h0m9-2h0m2 3h0m10-2h0m0 1h0m14 1h0m2 1h0m9 1h0m13-5h0m20 0h0m35 4h0m21-1h0m1-1h0m30 1h0m6 3h0m2 0h0m11-1h0m10-5h0m15 6h0m11-2h0m27 2h0m-358 9h0m20-1h0m21 1h0m49 0h0m30-1h0m17-2h0m1 1h0m23 0h0m1-3h0m8 0h0m19 3h0m1-5h0m11 1h0m3 3h0m5-1h0m9-2h0m7-1h0m24 1h0m0 3h0m4-2h0m4 5h0m17-5h0m19 0h0m29 1h0m15-2h0m8-1h0m29 4h0m-365 6h0m25 1h0m2-1h0m32-2h0m10 0h0m8 7h0m5-2h0m8 1h0m7-1h0m13 0h0m15-2h0m7 1h0m21-1h0m10-3h0m18 4h0m9 1h0m6 1h0m37 0h0m11-1h0m11 1h0m0-4h0m18-2h0m20 2h0m3-2h0m31 1h0m-334 7h0m27 6h0m7 1h0m1-4h0m55 3h0m0-6h0m4 4h0m9 1h0m11-3h0m24-2h0m2 6h0m2 0h0m19-1h0m13-5h0m19 0h0m6 7h0m6-1h0m2-1h0m16-2h0m2-3h0m2 0h0m6 5h0m1-2h0m3 2h0m7-5h0m1 2h0m9 4h0m6-4h0m4 3h0m16-3h0m22 2h0m13 3h0m14-2h0m21-5h0m-348 8h0m1 5h0m1 1h0m21-5h0m17 4h0m27-4h0m14 0h0m9 3h0m96 0h0m7 1h0m6-5h0m2 2h0m3 5h0m20-6h0m25 1h0m33 1h0m12 2h0m7-3h0m25 0h0m7-1h0m5 6h0m-338 1h0m0 4h0m101 3h0m54-3h0m2-4h0m41 0h0m7 7h0m5-4h0m3 1h0m19-4h0m18 6h0m2-1h0m21-1h0m15 1h0m3-3h0m2 2h0m1-4h0m10 3h0m26-2h0m-240 7h0m11 0h0m1 1h0m11 5h0m35-3h0m17-2h0m1 1h0m37-1h0m5 4h0m15 1h0m0 1h0m15-2h0m7-3h0m30-2h0m68 2h0m13 4h0m2-1h0m-262 9h0m26-6h0m42 3h0m7-3h0m7 2h0m9 2h0m19-2h0m7-1h0m0 1h0m18 1h0m6 3h0m47-6h0m13 3h0m-219 10h0m19 1h0m30 0h0m1 0h0m15-6h0m22 1h0m2 3h0m8 0h0m29-1h0m7 0h0m6-1h0m10 1h0m9-1h0m16 4h0m21 0h0m60 0h0m38-1h0m-371 10h0m0-2h0m40-3h0m4-1h0m35 3h0m22 1h0m0 1h0m0-2h0m5-2h0m16 4h0m1-2h0m1 1h0m21-3h0m11 5h0m6-4h0m2 3h0m2-5h0m1 6h0m2-6h0m6 1h0m13 0h0m15 1h0m16-1h0m56-1h0m23 4h0m4 1h0m29 0h0m7 1h0m12 0h0m24-6h0m-382 10h0m1 4h0m13-3h0m2 3h0m28 0h0m16 0h0m9-5h0m1 5h0m3-4h0m32 0h0m5 2h0m3-4h0m0-1h0m1 0h0m8 0h0m3 5h0m12-4h0m4 5h0m12-1h0m6 1h0m8-4h0m3 1h0m4-2h0m5 1h0m0 4h0m7-6h0m27 1h0m3 2h0m8-3h0m19 4h0m32-2h0m50-2h0m71 3h0m-396 12h0m4-6h0m4 5h0m18-3h0m2-3h0m19 7h0m1-3h0m5-4h0m7 7h0m5-1h0m3 1h0m16-6h0m4 4h0m5 2h0m12-1h0m2 1h0m4-4h0m6-1h0m3 3h0m11-1h0m1 3h0m1-7h0m8 4h0m8-2h0m1 0h0m14 2h0m141-4h0m14 5h0m-286 10h0m5 0h0m16-3h0m3 0h0m2 1h0m5 0h0m8-5h0m12 6h0m1-2h0m8-4h0m0 1h0m2 4h0m0-3h0m3 1h0m2 2h0m3-3h0m4 2h0m5-2h0m5-1h0m1 2h0m7 3h0m2-2h0m2-1h0m0 4h0m5-2h0m2-1h0m17-1h0m17-2h0m21 5h0m24-4h0m27 5h0m9-7h0m10 0h0m45 3h0m13-1h0m22-2h0m27 1h0m-342 12h0m5-3h0m5-2h0m0 3h0m11 3h0m1-6h0m1 0h0m2 0h0m11 5h0m2-3h0m2-2h0m6 4h0m3 3h0m2-5h0m3-2h0m3 1h0m1 0h0m1 5h0m4-6h0m5 2h0m4 3h0m0-4h0m6 4h0m9-2h0m1 1h0m3 0h0m4 3h0m2-6h0m4 0h0m0 3h0m4 0h0m7-2h0m1 1h0m5-1h0m5-2h0m24 1h0m37 5h0m4-6h0m45 0h0m8 2h0m6-2h0m-270 8h0m0 4h0m1 2h0m9 1h0m2-3h0m6-4h0m4 4h0m1 1h0m10-2h0m0 2h0m4-1h0m9 2h0m4-4h0m17 5h0m1-1h0m3-2h0m1-2h0m1-2h0m3 6h0m1-3h0m3 3h0m10-5h0m7-1h0m1 6h0m5-1h0m2 1h0m6-3h0m1-1h0m21 5h0m11-3h0m6-3h0m24 3h0m18 1h0m6-4h0m160 6h0m16-1h0m-388 2h0m2 5h0m6 1h0m4-2h0m4 0h0m6-2h0m8 0h0m14-1h0m2 0h0m16-1h0m8 6h0m6-1h0m4 2h0m2-4h0m0 4h0m3-4h0m1 1h0m2-2h0m3-2h0m10 2h0m1 4h0m8-5h0m20 4h0m1 2h0m2 0h0m3-7h0m5 7h0m4-1h0m3-2h0m7-1h0m6 1h0m4-3h0m9 3h0m3 0h0m30-4h0m2 2h0m63 0h0m21 0h0m-289 13h0m2-5h0m1 1h0m6 1h0m22-3h0m3 3h0m16-4h0m5 7h0m1-2h0m1-4h0m6 1h0m4 3h0m5-5h0m0 7h0m1-2h0m7 0h0m0-5h0m3 1h0m2 5h0m0-2h0m5 2h0m3 1h0m0-4h0m1-3h0m4 7h0m4 0h0m4-5h0m15 4h0m5-4h0m0 3h0m12 2h0m6 0h0m9-7h0m0 1h0m3-1h0m2 4h0m7-1h0m1-3h0m208 2h0m-379 8h0m12 5h0m8-7h0m2 3h0m4 3h0m1-4h0m2 1h0m12 0h0m0 4h0m5 0h0m11-3h0m12-3h0m1-1h0m9 6h0m5-6h0m1 5h0m2 1h0m5 0h0m4-2h0m0-1h0m13 3h0m5-4h0m33 0h0m41 4h0m-175 4h0m3 4h0m20-3h0m2-1h0m2 1h0m7 1h0m8 2h0m6-6h0m2 4h0m8 2h0m3 1h0m3-7h0m1 5h0m1 2h0m3-1h0m10 0h0m11-1h0m1 1h0m7-2h0m0 1h0m1 1h0m4-5h0m3 4h0m10-5h0m16 0h0m15 1h0m92 2h0m73 0h0m41 1h0m12 1h0m-361 6h0m3 0h0m8-3h0m2 2h0m16-2h0m5 7h0m11-5h0m1 4h0m5-1h0m4-5h0m1 7h0m0-5h0m18 4h0m10 0h0m19-3h0m13-2h0m3-1h0m13 7h0m8-3h0m42 3h0m25-1h0m14 1h0m24-5h0m85 1h0m-335 7h0m2 4h0m3 1h0m0-7h0m11 3h0m1-3h0m1 1h0m11 3h0m27-1h0m18 1h0m6 0h0m11-2h0m23 3h0m0-1h0m6 1h0m1-4h0m2 4h0m9 1h0m49-3h0m95 1h0m5 3h0m4-5h0m96 5h0m-383 3h0m1 5h0m3-3h0m5 3h0m12-2h0m21-4h0m12 1h0m12 3h0m6-2h0m5 2h0m15-3h0m3-2h0m10 3h0m10-1h0m42 4h0m19-6h0m16 7h0m22-1h0m34-4h0m5 3h0m28-2h0m9 2h0m24 0h0m19-4h0m13 2h0m20-3h0m-376 13h0m5 1h0m12 1h0m2-2h0m9-1h0m49 3h0m9 0h0m24-4h0m30-2h0m12 0h0m6 6h0m10-1h0m29-1h0m12-3h0m17 2h0m24-4h0m21 6h0m27-4h0m4 5h0m36-2h0m0 2h0m25-3h0m5 2h0m2 0h0m3-6h0m1 3h0m18 0h0m16 3h0m-397 5h0m49-2h0m0 4h0m33-1h0m9-3h0m9 6h0m49 0h0m3-7h0m85 3h0m12 0h0m21 1h0m26-3h0m18 4h0m9 1h0m28-2h0m5 2h0m24 0h0m10-1h0m-404 7h0m2 1h0m100 0h0m17 0h0m14-1h0m27 3h0m36-7h0m19 4h0m37-2h0m79-1h0m21 6h0m0-5h0m12-2h0m12 0h0m2 0h0m6 3h0m15 1h0m4 1h0m2-1h0m-372 6h0m15 1h0m25-1h0m1-2h0m5 5h0m22-4h0m26 0h0m3 2h0m16 3h0m12-4h0m3 4h0m24-2h0m13-4h0m39 7h0m9-4h0m5-3h0m23 5h0m46 0h0m6-3h0m10 5h0m5-7h0m8 0h0m2 0h0m3 1h0m15 1h0m9 5h0m3-5h0m1 3h0m0 2h0m2-7h0m1 0h0m0 2h0m0 4h0m8-5h0m4 0h0m1 0h0m3 3h0m2 1h0m-350 9h0m77-2h0m11-4h0m14 1h0m6 4h0m30-3h0m15 5h0m42-7h0m43 2h0m8 3h0m43-2h0m38-1h0m5-2h0m6 4h0m7-1h0m12 3h0m-395 2h0m4 2h0m52 5h0m19-7h0m24 0h0m28 2h0m11 0h0m17 3h0m41 1h0m27-6h0m20 4h0m32-2h0m96 0h0m24 2h0m-329 5h0m19 5h0m55-6h0m77 0h0m30 0h0m62 0h0m51 7h0m32-6h0m-249 8h0m5 3h0m35-2h0m138 2h0m1 2h0m-225 4h0m55-1h0m60 3h0m44 0h0m17-3h0m61 1h0m-234 10h0m3-1h0m68 1h0m-98 7h0m115 0h0m-86 5h0m81 0h0m3 14h0m10-1h0" stroke="#ff0000" stroke-width="7.20" stroke-linecap="round"/></g>
<text transform="translate(21.80 62.60) scale(0.885 1)" y="2.20" font-size="6.10" text-anchor="end" fill="#333">100</text>
<text transform="translate(21.80 73.20) scale(0.885 1)" y="2.20" font-size="6.10" text-anchor="end" fill="#333">80</text>
<text transform="translate(21.80 84.20) scale(0.885 1)" y="2.20" font-size="6.10" text-anchor="end" fill="#333">60</text>
<text transform="translate(21.80 95.10) scale(0.885 1)" y="2.20" font-size="6.10" text-anchor="end" fill="#333">40</text>
<text transform="translate(21.80 106.00) scale(0.885 1)" y="2.20" font-size="6.10" text-anchor="end" fill="#333">20</text>
<text transform="translate(23.60 131.50) scale(0.885 1)" y="2.20" font-size="6.10" text-anchor="middle" fill="#333">150</text>
<text transform="translate(40.90 143.60) scale(0.885 1)" y="2.20" font-size="6.10" text-anchor="middle" fill="#333">100</text>
<text transform="translate(57.30 156.60) scale(0.885 1)" y="2.20" font-size="6.10" text-anchor="middle" fill="#333">50</text>
<text transform="translate(107.00 160.50) scale(0.885 1)" y="2.20" font-size="6.10" text-anchor="middle" fill="#333">50</text>
<text transform="translate(129.20 150.70) scale(0.885 1)" y="2.20" font-size="6.10" text-anchor="middle" fill="#333">100</text>
<text transform="translate(150.00 140.50) scale(0.885 1)" y="2.20" font-size="6.10" text-anchor="middle" fill="#333">150</text>
<text transform="translate(170.20 131.50) scale(0.885 1)" y="2.20" font-size="6.10" text-anchor="middle" fill="#333">200</text>
<path d="M25.70 62.30l-1.44 0.69M25.70 72.90l-1.44 0.69M25.70 83.90l-1.44 0.69M25.70 94.80l-1.44 0.69M25.70 105.70l-1.44 0.69M34.31 126.41l-1.44 0.69M49.93 139.30l-1.44 0.69M65.92 152.50l-1.44 0.69M99.52 154.33l1.23 1.02M121.14 144.04l1.23 1.02M142.17 134.04l1.23 1.02M161.91 124.65l1.23 1.02" stroke="#6a6a6a" stroke-width="0.75" fill="none"/>
<text transform="translate(8.30 87.30) rotate(-90) scale(1 0.9)" x="0" y="2.34" font-size="6.50" text-anchor="middle" fill="#333" style="font-stretch:normal">S (short)</text>
<text transform="translate(33.40 166.40) scale(0.943 1)" y="2.19" font-size="6.10" text-anchor="middle" fill="#333">M (medium)</text>
<text transform="translate(127.60 167.80) scale(0.943 1)" y="2.19" font-size="6.10" text-anchor="middle" fill="#333">L (long)</text>
<text x="94.50" y="11.53" font-size="6.20" font-weight="bold" text-anchor="middle" fill="#000" textLength="89.0" lengthAdjust="spacingAndGlyphs">LMS response (no adaptation)</text>
<text transform="translate(201.00 62.80) scale(0.885 1)" y="2.20" font-size="6.10" text-anchor="end" fill="#333">100</text>
<text transform="translate(201.00 73.50) scale(0.885 1)" y="2.20" font-size="6.10" text-anchor="end" fill="#333">80</text>
<text transform="translate(201.00 84.40) scale(0.885 1)" y="2.20" font-size="6.10" text-anchor="end" fill="#333">60</text>
<text transform="translate(201.00 95.30) scale(0.885 1)" y="2.20" font-size="6.10" text-anchor="end" fill="#333">40</text>
<text transform="translate(201.00 106.20) scale(0.885 1)" y="2.20" font-size="6.10" text-anchor="end" fill="#333">20</text>
<text transform="translate(203.60 132.40) scale(0.885 1)" y="2.20" font-size="6.10" text-anchor="middle" fill="#333">150</text>
<text transform="translate(219.60 144.50) scale(0.885 1)" y="2.20" font-size="6.10" text-anchor="middle" fill="#333">100</text>
<text transform="translate(236.70 157.30) scale(0.885 1)" y="2.20" font-size="6.10" text-anchor="middle" fill="#333">50</text>
<text transform="translate(286.00 160.90) scale(0.885 1)" y="2.20" font-size="6.10" text-anchor="middle" fill="#333">50</text>
<text transform="translate(308.70 151.50) scale(0.885 1)" y="2.20" font-size="6.10" text-anchor="middle" fill="#333">100</text>
<text transform="translate(329.10 141.80) scale(0.885 1)" y="2.20" font-size="6.10" text-anchor="middle" fill="#333">150</text>
<text transform="translate(349.60 132.40) scale(0.885 1)" y="2.20" font-size="6.10" text-anchor="middle" fill="#333">200</text>
<path d="M204.20 62.83l-1.45 0.69M204.20 73.53l-1.45 0.69M204.20 84.43l-1.45 0.69M204.20 95.33l-1.45 0.69M204.20 106.23l-1.45 0.69M213.91 127.51l-1.45 0.69M229.19 139.95l-1.45 0.69M245.42 153.16l-1.45 0.69M278.73 154.98l1.24 1.01M300.37 144.72l1.24 1.01M320.78 135.03l1.24 1.01M341.03 125.42l1.24 1.01" stroke="#6a6a6a" stroke-width="0.75" fill="none"/>
<text transform="translate(186.90 87.60) rotate(-90) scale(1 0.9)" x="0" y="2.34" font-size="6.50" text-anchor="middle" fill="#333" style="font-stretch:normal">S</text>
<text transform="translate(226.40 167.30) scale(0.943 1)" y="2.19" font-size="6.10" text-anchor="middle" fill="#333">M</text>
<text transform="translate(297.30 168.50) scale(0.943 1)" y="2.19" font-size="6.10" text-anchor="middle" fill="#333">L</text>
<text x="273.60" y="11.53" font-size="6.20" font-weight="bold" text-anchor="middle" fill="#000" textLength="110.8" lengthAdjust="spacingAndGlyphs">LMS response (Von-Kries adaptation)</text>
<text transform="translate(391.80 62.30) scale(0.885 1)" y="2.20" font-size="6.10" text-anchor="end" fill="#333">100</text>
<text transform="translate(391.80 73.20) scale(0.885 1)" y="2.20" font-size="6.10" text-anchor="end" fill="#333">80</text>
<text transform="translate(391.80 84.10) scale(0.885 1)" y="2.20" font-size="6.10" text-anchor="end" fill="#333">60</text>
<text transform="translate(391.80 95.00) scale(0.885 1)" y="2.20" font-size="6.10" text-anchor="end" fill="#333">40</text>
<text transform="translate(391.80 105.90) scale(0.885 1)" y="2.20" font-size="6.10" text-anchor="end" fill="#333">20</text>
<text transform="translate(394.90 130.90) scale(0.885 1)" y="2.20" font-size="6.10" text-anchor="middle" fill="#333">150</text>
<text transform="translate(410.90 143.60) scale(0.885 1)" y="2.20" font-size="6.10" text-anchor="middle" fill="#333">100</text>
<text transform="translate(427.60 156.00) scale(0.885 1)" y="2.20" font-size="6.10" text-anchor="middle" fill="#333">50</text>
<text transform="translate(476.90 159.60) scale(0.885 1)" y="2.20" font-size="6.10" text-anchor="middle" fill="#333">50</text>
<text transform="translate(499.10 150.00) scale(0.885 1)" y="2.20" font-size="6.10" text-anchor="middle" fill="#333">100</text>
<text transform="translate(520.00 140.50) scale(0.885 1)" y="2.20" font-size="6.10" text-anchor="middle" fill="#333">150</text>
<text transform="translate(540.40 130.90) scale(0.885 1)" y="2.20" font-size="6.10" text-anchor="middle" fill="#333">200</text>
<path d="M395.50 62.09l-1.44 0.69M395.50 72.99l-1.44 0.69M395.50 83.89l-1.44 0.69M395.50 94.79l-1.44 0.69M395.50 105.69l-1.44 0.69M404.69 126.22l-1.44 0.69M420.39 139.06l-1.44 0.69M436.12 151.92l-1.44 0.69M470.21 154.13l1.24 1.01M491.63 143.89l1.24 1.01M512.15 134.08l1.24 1.01M532.43 124.38l1.24 1.01" stroke="#6a6a6a" stroke-width="0.75" fill="none"/>
<text transform="translate(444.50 168.50) scale(0.885 1)" y="2.20" font-size="6.10" text-anchor="middle" fill="#333">0</text>
<text transform="translate(455.00 168.50) scale(0.885 1)" y="2.20" font-size="6.10" text-anchor="middle" fill="#333">0</text>
<text transform="translate(377.80 86.90) rotate(-90) scale(1 0.9)" x="0" y="2.34" font-size="6.50" text-anchor="middle" fill="#333" style="font-stretch:normal">S</text>
<text transform="translate(417.80 165.50) scale(0.943 1)" y="2.19" font-size="6.10" text-anchor="middle" fill="#333">M</text>
<text transform="translate(489.10 166.90) scale(0.943 1)" y="2.19" font-size="6.10" text-anchor="middle" fill="#333">L</text>
<text x="465.30" y="11.23" font-size="6.20" font-weight="bold" text-anchor="middle" fill="#000" textLength="131.4" lengthAdjust="spacingAndGlyphs">LMS response (Webster-Clifford adaptation)</text>
<text transform="translate(21.40 256.80) scale(0.885 1)" y="2.20" font-size="6.10" text-anchor="end" fill="#333">30</text>
<text transform="translate(21.40 266.10) scale(0.885 1)" y="2.20" font-size="6.10" text-anchor="end" fill="#333">20</text>
<text transform="translate(21.40 275.00) scale(0.885 1)" y="2.20" font-size="6.10" text-anchor="end" fill="#333">10</text>
<text transform="translate(21.40 284.10) scale(0.885 1)" y="2.20" font-size="6.10" text-anchor="end" fill="#333">0</text>
<text transform="translate(21.40 293.30) scale(0.885 1)" y="2.20" font-size="6.10" text-anchor="end" fill="#333">-10</text>
<text transform="translate(20.00 305.90) scale(0.885 1)" y="2.20" font-size="6.10" text-anchor="middle" fill="#333">10</text>
<text transform="translate(26.20 309.80) scale(0.885 1)" y="2.20" font-size="6.10" text-anchor="middle" fill="#333">0</text>
<text transform="translate(29.50 314.10) scale(0.885 1)" y="2.20" font-size="6.10" text-anchor="middle" fill="#333">-10</text>
<text transform="translate(34.10 317.70) scale(0.885 1)" y="2.20" font-size="6.10" text-anchor="middle" fill="#333">-20</text>
<text transform="translate(83.30 304.50) scale(0.885 1)" y="2.20" font-size="6.10" text-anchor="middle" fill="#333">50</text>
<text transform="translate(118.20 288.70) scale(0.885 1)" y="2.20" font-size="6.10" text-anchor="middle" fill="#333">100</text>
<text transform="translate(151.00 272.70) scale(0.885 1)" y="2.20" font-size="6.10" text-anchor="middle" fill="#333">150</text>
<path d="M25.50 256.39l-2.88 1.39M25.50 265.69l-2.88 1.39M25.50 274.59l-2.88 1.39M25.50 283.69l-2.88 1.39M25.50 292.89l-2.88 1.39M30.07 301.04l-2.88 1.39M35.37 305.37l-2.88 1.39M39.91 309.07l-2.88 1.39M44.39 312.73l-2.88 1.39M74.89 297.63l2.48 2.02M108.98 281.17l2.48 2.02M141.91 265.27l2.48 2.02" stroke="#6a6a6a" stroke-width="0.75" fill="none"/>
<text transform="translate(8.50 275.60) rotate(-90) scale(1 0.9)" x="0" y="2.23" font-size="6.20" text-anchor="middle" fill="#333" style="font-stretch:normal">D (yellow-blue)</text>
<text transform="translate(23.00 328.50) scale(0.943 1)" y="2.18" font-size="6.04" text-anchor="middle" fill="#333">T (red-green)</text>
<text transform="translate(112.30 312.70) scale(0.943 1)" y="2.18" font-size="6.04" text-anchor="middle" fill="#333">A (achromatic)</text>
<text x="98.90" y="188.83" font-size="6.20" font-weight="bold" text-anchor="middle" fill="#000" textLength="85.8" lengthAdjust="spacingAndGlyphs">ATD response (no adaptation)</text>
<text transform="translate(191.80 256.80) scale(0.885 1)" y="2.20" font-size="6.10" text-anchor="end" fill="#333">20</text>
<text transform="translate(191.80 265.20) scale(0.885 1)" y="2.20" font-size="6.10" text-anchor="end" fill="#333">10</text>
<text transform="translate(191.80 273.90) scale(0.885 1)" y="2.20" font-size="6.10" text-anchor="end" fill="#333">0</text>
<text transform="translate(191.80 282.70) scale(0.885 1)" y="2.20" font-size="6.10" text-anchor="end" fill="#333">-10</text>
<text transform="translate(190.00 294.50) scale(0.885 1)" y="2.20" font-size="6.10" text-anchor="middle" fill="#333">20</text>
<text transform="translate(201.00 303.00) scale(0.885 1)" y="2.20" font-size="6.10" text-anchor="middle" fill="#333">0</text>
<text transform="translate(208.00 311.00) scale(0.885 1)" y="2.20" font-size="6.10" text-anchor="middle" fill="#333">-20</text>
<text transform="translate(260.00 300.00) scale(0.885 1)" y="2.20" font-size="6.10" text-anchor="middle" fill="#333">50</text>
<text transform="translate(293.30 284.50) scale(0.885 1)" y="2.20" font-size="6.10" text-anchor="middle" fill="#333">100</text>
<text transform="translate(324.20 269.00) scale(0.885 1)" y="2.20" font-size="6.10" text-anchor="middle" fill="#333">150</text>
<text transform="translate(355.50 253.80) scale(0.885 1)" y="2.20" font-size="6.10" text-anchor="middle" fill="#333">200</text>
<path d="M197.30 255.65l-2.86 1.43M197.30 264.05l-2.86 1.43M197.30 272.75l-2.86 1.43M197.30 281.55l-2.86 1.43M200.49 289.24l-2.86 1.43M210.57 298.21l-2.86 1.43M218.84 305.57l-2.86 1.43M252.13 293.00l2.39 2.13M284.58 276.74l2.39 2.13M315.49 261.25l2.39 2.13M346.44 245.73l2.39 2.13" stroke="#6a6a6a" stroke-width="0.75" fill="none"/>
<text transform="translate(179.50 271.00) rotate(-90) scale(1 0.9)" x="0" y="2.23" font-size="6.20" text-anchor="middle" fill="#333" style="font-stretch:normal">D</text>
<text transform="translate(196.70 318.70) scale(0.943 1)" y="2.18" font-size="6.04" text-anchor="middle" fill="#333">T</text>
<text transform="translate(273.00 308.50) scale(0.943 1)" y="2.18" font-size="6.04" text-anchor="middle" fill="#333">A</text>
<text x="273.00" y="188.83" font-size="6.20" font-weight="bold" text-anchor="middle" fill="#000" textLength="126.8" lengthAdjust="spacingAndGlyphs">ATD response (after Von-Kries adaptation)</text>
<text transform="translate(379.00 259.10) scale(0.885 1)" y="2.20" font-size="6.10" text-anchor="end" fill="#333">20</text>
<text transform="translate(379.00 268.20) scale(0.885 1)" y="2.20" font-size="6.10" text-anchor="end" fill="#333">10</text>
<text transform="translate(379.00 277.10) scale(0.885 1)" y="2.20" font-size="6.10" text-anchor="end" fill="#333">0</text>
<text transform="translate(379.00 286.40) scale(0.885 1)" y="2.20" font-size="6.10" text-anchor="end" fill="#333">-10</text>
<text transform="translate(379.10 300.70) scale(0.885 1)" y="2.20" font-size="6.10" text-anchor="middle" fill="#333">10</text>
<text transform="translate(385.60 304.10) scale(0.885 1)" y="2.20" font-size="6.10" text-anchor="middle" fill="#333">0</text>
<text transform="translate(387.70 308.90) scale(0.885 1)" y="2.20" font-size="6.10" text-anchor="middle" fill="#333">-10</text>
<text transform="translate(393.20 312.30) scale(0.885 1)" y="2.20" font-size="6.10" text-anchor="middle" fill="#333">-20</text>
<text transform="translate(443.60 300.50) scale(0.885 1)" y="2.20" font-size="6.10" text-anchor="middle" fill="#333">50</text>
<text transform="translate(477.60 284.50) scale(0.885 1)" y="2.20" font-size="6.10" text-anchor="middle" fill="#333">100</text>
<text transform="translate(509.60 269.00) scale(0.885 1)" y="2.20" font-size="6.10" text-anchor="middle" fill="#333">150</text>
<text transform="translate(541.00 253.50) scale(0.885 1)" y="2.20" font-size="6.10" text-anchor="middle" fill="#333">200</text>
<path d="M383.50 258.46l-2.87 1.42M383.50 267.56l-2.87 1.42M383.50 276.46l-2.87 1.42M383.50 285.76l-2.87 1.42M390.11 295.24l-2.87 1.42M394.96 299.46l-2.87 1.42M399.24 303.17l-2.87 1.42M403.73 307.07l-2.87 1.42M434.99 293.02l2.42 2.10M468.35 276.47l2.42 2.10M500.08 260.73l2.42 2.10M531.42 245.18l2.42 2.10" stroke="#6a6a6a" stroke-width="0.75" fill="none"/>
<text transform="translate(365.50 273.60) rotate(-90) scale(1 0.9)" x="0" y="2.23" font-size="6.20" text-anchor="middle" fill="#333" style="font-stretch:normal">D</text>
<text transform="translate(380.70 320.00) scale(0.943 1)" y="2.18" font-size="6.04" text-anchor="middle" fill="#333">T</text>
<text transform="translate(457.00 308.50) scale(0.943 1)" y="2.18" font-size="6.04" text-anchor="middle" fill="#333">A</text>
<text x="459.40" y="189.43" font-size="6.20" font-weight="bold" text-anchor="middle" fill="#000" textLength="146.7" lengthAdjust="spacingAndGlyphs">ATD response (after Webster-Clifford adaptation)</text>
<text transform="translate(26.00 376.00) scale(0.885 1)" y="2.20" font-size="6.10" text-anchor="end" fill="#333">0.4</text>
<text transform="translate(26.00 391.00) scale(0.885 1)" y="2.20" font-size="6.10" text-anchor="end" fill="#333">0.2</text>
<text transform="translate(26.00 405.50) scale(0.885 1)" y="2.20" font-size="6.10" text-anchor="end" fill="#333">0</text>
<text transform="translate(26.00 420.50) scale(0.885 1)" y="2.20" font-size="6.10" text-anchor="end" fill="#333">-0.2</text>
<text transform="translate(26.00 435.00) scale(0.885 1)" y="2.20" font-size="6.10" text-anchor="end" fill="#333">-0.4</text>
<text transform="translate(26.40 451.80) scale(0.885 1)" y="2.20" font-size="6.10" text-anchor="middle" fill="#333">0.4</text>
<text transform="translate(36.20 459.00) scale(0.885 1)" y="2.20" font-size="6.10" text-anchor="middle" fill="#333">0.2</text>
<text transform="translate(48.50 465.60) scale(0.885 1)" y="2.20" font-size="6.10" text-anchor="middle" fill="#333">0</text>
<text transform="translate(55.50 472.40) scale(0.885 1)" y="2.20" font-size="6.10" text-anchor="middle" fill="#333">-0.2</text>
<text transform="translate(65.50 479.20) scale(0.885 1)" y="2.20" font-size="6.10" text-anchor="middle" fill="#333">-0.4</text>
<text transform="translate(93.60 479.50) scale(0.885 1)" y="2.20" font-size="6.10" text-anchor="middle" fill="#333">0.2</text>
<text transform="translate(106.70 474.70) scale(0.885 1)" y="2.20" font-size="6.10" text-anchor="middle" fill="#333">0.4</text>
<text transform="translate(119.60 469.60) scale(0.885 1)" y="2.20" font-size="6.10" text-anchor="middle" fill="#333">0.6</text>
<text transform="translate(132.20 464.20) scale(0.885 1)" y="2.20" font-size="6.10" text-anchor="middle" fill="#333">0.8</text>
<path d="M29.60 375.97l-1.86 0.73M29.60 390.97l-1.86 0.73M29.60 405.47l-1.86 0.73M29.60 420.47l-1.86 0.73M29.60 434.97l-1.86 0.73M35.39 448.27l-1.86 0.73M45.79 455.24l-1.86 0.73M56.55 462.44l-1.86 0.73M65.54 468.46l-1.86 0.73M75.64 475.22l-1.86 0.73M85.89 474.34l1.66 1.11M98.67 469.33l1.66 1.11M111.61 464.25l1.66 1.11M124.64 459.14l1.66 1.11" stroke="#6a6a6a" stroke-width="0.75" fill="none"/>
<text transform="translate(12.00 407.40) rotate(-90) scale(1 0.9)" x="0" y="2.09" font-size="5.80" text-anchor="middle" fill="#333" style="font-stretch:normal">Nonlin. D (yellow-blue)</text>
<text transform="translate(35.30 486.00) scale(0.943 1)" y="2.31" font-size="6.41" text-anchor="middle" fill="#333">Nonlin. T (red-green)</text>
<text transform="translate(118.30 487.80) scale(0.943 1)" y="2.31" font-size="6.41" text-anchor="middle" fill="#333">Nonlin. A (achromatic)</text>
<text x="83.90" y="343.80" font-size="6.40" font-weight="bold" text-anchor="middle" fill="#000" textLength="138.8" lengthAdjust="spacingAndGlyphs">ATD resp. (no adapt.) + Twer-McLeod nonlin.</text>
<text transform="translate(201.50 375.50) scale(0.885 1)" y="2.20" font-size="6.10" text-anchor="end" fill="#333">0.4</text>
<text transform="translate(201.50 390.00) scale(0.885 1)" y="2.20" font-size="6.10" text-anchor="end" fill="#333">0.2</text>
<text transform="translate(201.50 404.90) scale(0.885 1)" y="2.20" font-size="6.10" text-anchor="end" fill="#333">0</text>
<text transform="translate(201.50 419.60) scale(0.885 1)" y="2.20" font-size="6.10" text-anchor="end" fill="#333">-0.2</text>
<text transform="translate(201.50 434.20) scale(0.885 1)" y="2.20" font-size="6.10" text-anchor="end" fill="#333">-0.4</text>
<text transform="translate(200.90 451.80) scale(0.885 1)" y="2.20" font-size="6.10" text-anchor="middle" fill="#333">0.4</text>
<text transform="translate(210.00 458.70) scale(0.885 1)" y="2.20" font-size="6.10" text-anchor="middle" fill="#333">0.2</text>
<text transform="translate(222.70 465.10) scale(0.885 1)" y="2.20" font-size="6.10" text-anchor="middle" fill="#333">0</text>
<text transform="translate(229.10 471.50) scale(0.885 1)" y="2.20" font-size="6.10" text-anchor="middle" fill="#333">-0.2</text>
<text transform="translate(240.00 478.70) scale(0.885 1)" y="2.20" font-size="6.10" text-anchor="middle" fill="#333">-0.4</text>
<text transform="translate(267.30 478.70) scale(0.885 1)" y="2.20" font-size="6.10" text-anchor="middle" fill="#333">0.2</text>
<text transform="translate(281.00 474.50) scale(0.885 1)" y="2.20" font-size="6.10" text-anchor="middle" fill="#333">0.4</text>
<text transform="translate(293.60 469.00) scale(0.885 1)" y="2.20" font-size="6.10" text-anchor="middle" fill="#333">0.6</text>
<text transform="translate(306.40 463.80) scale(0.885 1)" y="2.20" font-size="6.10" text-anchor="middle" fill="#333">0.8</text>
<path d="M203.30 376.18l-1.86 0.74M203.30 390.68l-1.86 0.74M203.30 405.58l-1.86 0.74M203.30 420.28l-1.86 0.74M203.30 434.88l-1.86 0.74M209.90 448.22l-1.86 0.74M219.75 454.82l-1.86 0.74M230.48 462.01l-1.86 0.74M238.86 467.62l-1.86 0.74M249.66 474.86l-1.86 0.74M260.18 473.93l1.66 1.11M272.71 468.95l1.66 1.11M285.78 463.76l1.66 1.11M298.68 458.63l1.66 1.11" stroke="#6a6a6a" stroke-width="0.75" fill="none"/>
<text transform="translate(185.20 407.70) rotate(-90) scale(1 0.9)" x="0" y="2.09" font-size="5.80" text-anchor="middle" fill="#333" style="font-stretch:normal">Nonlin. D</text>
<text transform="translate(210.70 480.50) scale(0.943 1)" y="2.31" font-size="6.41" text-anchor="middle" fill="#333">Nonlin. T</text>
<text transform="translate(295.20 483.30) scale(0.943 1)" y="2.31" font-size="6.41" text-anchor="middle" fill="#333">Nonlin. A</text>
<text x="258.50" y="343.80" font-size="6.40" font-weight="bold" text-anchor="middle" fill="#000" textLength="160.0" lengthAdjust="spacingAndGlyphs">ATD resp. (Von-Kries adapt.) + Twer-McLeod nonlin.</text>
<text transform="translate(396.00 374.50) scale(0.885 1)" y="2.20" font-size="6.10" text-anchor="end" fill="#333">0.4</text>
<text transform="translate(396.00 389.60) scale(0.885 1)" y="2.20" font-size="6.10" text-anchor="end" fill="#333">0.2</text>
<text transform="translate(396.00 404.50) scale(0.885 1)" y="2.20" font-size="6.10" text-anchor="end" fill="#333">0</text>
<text transform="translate(396.00 418.70) scale(0.885 1)" y="2.20" font-size="6.10" text-anchor="end" fill="#333">-0.2</text>
<text transform="translate(396.00 433.30) scale(0.885 1)" y="2.20" font-size="6.10" text-anchor="end" fill="#333">-0.4</text>
<text transform="translate(397.30 450.20) scale(0.885 1)" y="2.20" font-size="6.10" text-anchor="middle" fill="#333">0.4</text>
<text transform="translate(406.90 457.50) scale(0.885 1)" y="2.20" font-size="6.10" text-anchor="middle" fill="#333">0.2</text>
<text transform="translate(419.10 463.80) scale(0.885 1)" y="2.20" font-size="6.10" text-anchor="middle" fill="#333">0</text>
<text transform="translate(426.40 470.20) scale(0.885 1)" y="2.20" font-size="6.10" text-anchor="middle" fill="#333">-0.2</text>
<text transform="translate(436.40 476.90) scale(0.885 1)" y="2.20" font-size="6.10" text-anchor="middle" fill="#333">-0.4</text>
<text transform="translate(464.20 477.80) scale(0.885 1)" y="2.20" font-size="6.10" text-anchor="middle" fill="#333">0.2</text>
<text transform="translate(476.90 472.90) scale(0.885 1)" y="2.20" font-size="6.10" text-anchor="middle" fill="#333">0.4</text>
<text transform="translate(489.60 467.80) scale(0.885 1)" y="2.20" font-size="6.10" text-anchor="middle" fill="#333">0.6</text>
<text transform="translate(502.70 462.70) scale(0.885 1)" y="2.20" font-size="6.10" text-anchor="middle" fill="#333">0.8</text>
<path d="M400.00 374.31l-1.86 0.74M400.00 389.41l-1.86 0.74M400.00 404.31l-1.86 0.74M400.00 418.51l-1.86 0.74M400.00 433.11l-1.86 0.74M406.65 446.48l-1.86 0.74M417.03 453.48l-1.86 0.74M427.43 460.49l-1.86 0.74M436.11 466.34l-1.86 0.74M446.07 473.06l-1.86 0.74M456.08 472.33l1.66 1.12M468.64 467.33l1.66 1.12M481.40 462.27l1.66 1.12M494.40 457.10l1.66 1.12" stroke="#6a6a6a" stroke-width="0.75" fill="none"/>
<text transform="translate(382.20 408.50) rotate(-90) scale(1 0.9)" x="0" y="2.09" font-size="5.80" text-anchor="middle" fill="#333" style="font-stretch:normal">Nonlin. D</text>
<text transform="translate(407.00 479.10) scale(0.943 1)" y="2.31" font-size="6.41" text-anchor="middle" fill="#333">Nonlin. T</text>
<text transform="translate(491.10 481.10) scale(0.943 1)" y="2.31" font-size="6.41" text-anchor="middle" fill="#333">Nonlin. A</text>
<text x="454.10" y="343.80" font-size="6.40" font-weight="bold" text-anchor="middle" fill="#000" textLength="181.6" lengthAdjust="spacingAndGlyphs">ATD resp. (Webster-Clifford adapt.) + Twer-McLeod nonlin.</text>
</svg>
</body></html>
